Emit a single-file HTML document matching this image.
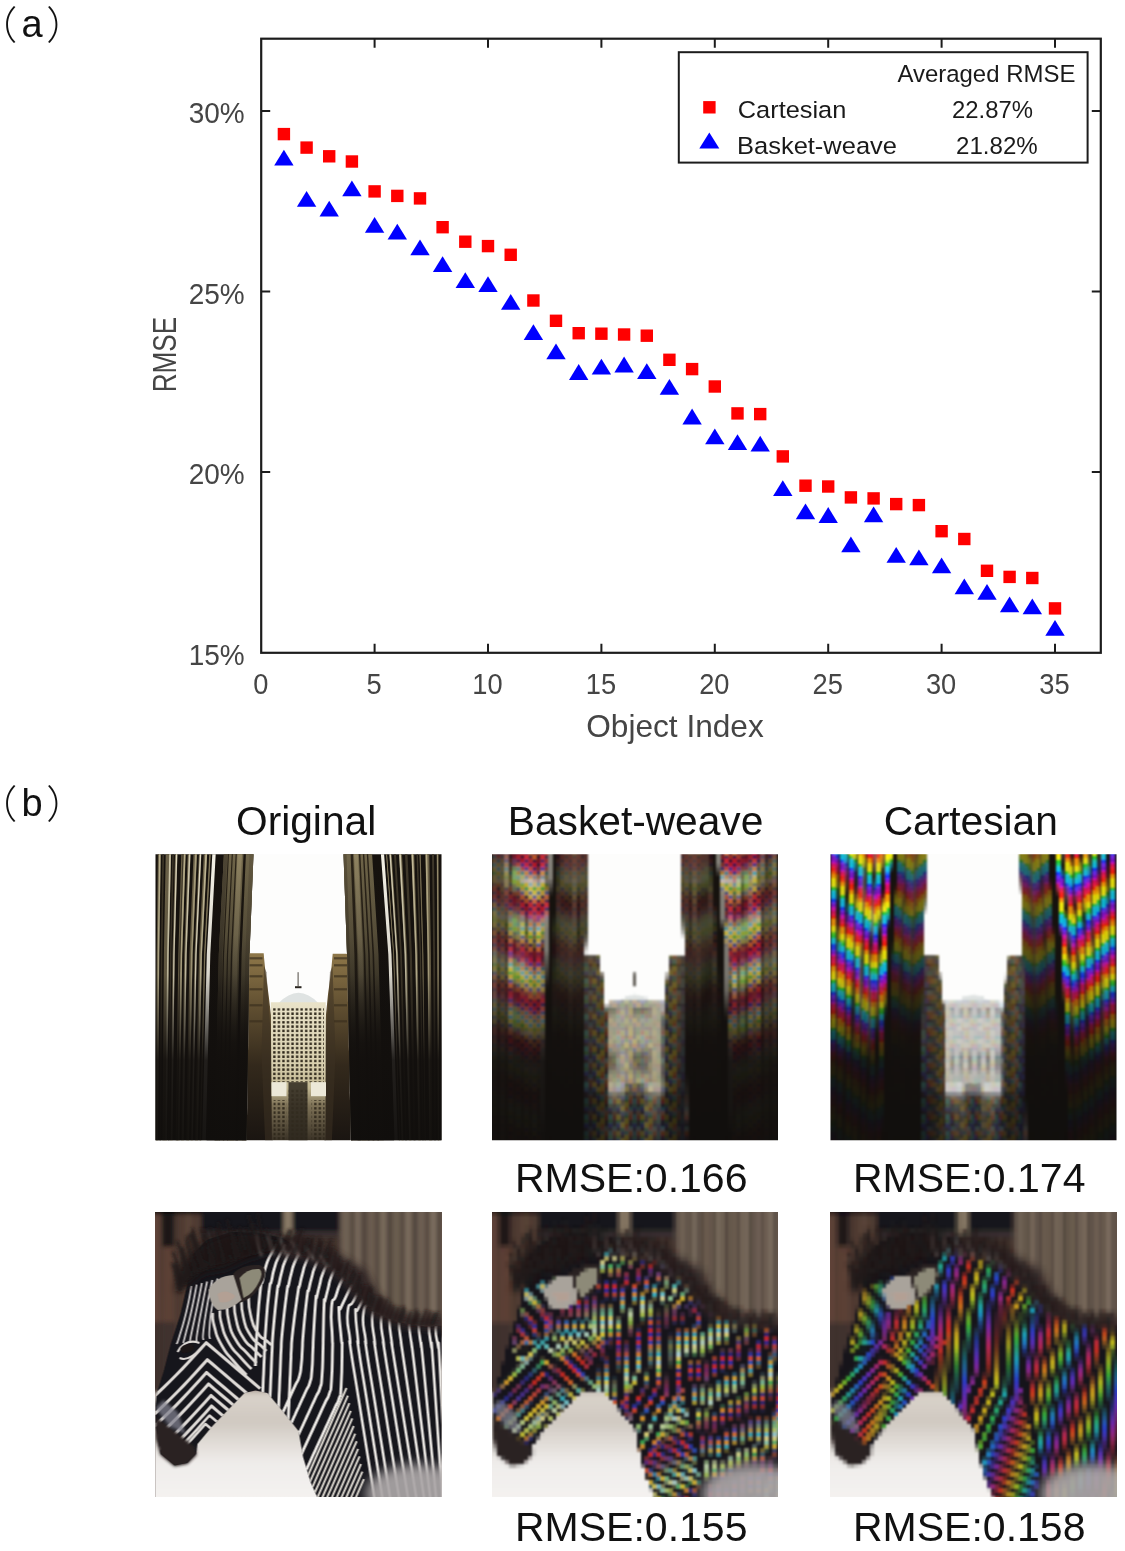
<!DOCTYPE html>
<html lang="en"><head><meta charset="utf-8"><title>Figure</title>
<style>
html,body{margin:0;padding:0;background:#fff;}
body{width:1125px;height:1551px;overflow:hidden;position:relative;font-family:"Liberation Sans", Arial, sans-serif;}
svg{position:absolute;left:0;top:0;display:block}
text{font-family:"Liberation Sans", Arial, sans-serif;}
.tk{font-size:29.3px;fill:#454545}
.ax{font-size:32px;fill:#454545}
.lg{font-size:24.5px;fill:#1a1a1a}
.hd{font-size:40.7px;fill:#111}
.pl{font-size:40px;fill:#111}
</style></head><body>
<svg width="1125" height="1551" viewBox="0 0 1125 1551">
<rect width="1125" height="1551" fill="#fff"/>
<g class="pl"><text x="-21.8" y="39.2" style="font-family:'Liberation Sans','Noto Sans CJK SC',sans-serif;font-weight:300;font-size:39px">（</text><text x="21.6" y="37.3" style="font-size:38px">a</text><text x="46.2" y="39.2" style="font-family:'Liberation Sans','Noto Sans CJK SC',sans-serif;font-weight:300;font-size:39px">）</text></g>
<g class="pl"><text x="-21.8" y="818.2" style="font-family:'Liberation Sans','Noto Sans CJK SC',sans-serif;font-weight:300;font-size:39px">（</text><text x="21.6" y="815.7" style="font-size:38px">b</text><text x="46.2" y="818.2" style="font-family:'Liberation Sans','Noto Sans CJK SC',sans-serif;font-weight:300;font-size:39px">）</text></g>
<rect x="261.2" y="38.7" width="839.6" height="614.1" fill="none" stroke="#1c1c1c" stroke-width="2.2"/>
<path d="M374.6 38.7v9 M374.6 652.8v-9 M488.0 38.7v9 M488.0 652.8v-9 M601.4 38.7v9 M601.4 652.8v-9 M714.8 38.7v9 M714.8 652.8v-9 M828.2 38.7v9 M828.2 652.8v-9 M941.6 38.7v9 M941.6 652.8v-9 M1055.0 38.7v9 M1055.0 652.8v-9 M261.2 111.0h9 M1100.8 111.0h-9 M261.2 291.5h9 M1100.8 291.5h-9 M261.2 472.0h9 M1100.8 472.0h-9" stroke="#1c1c1c" stroke-width="2" fill="none"/>
<g class="tk" text-anchor="middle"><text transform="translate(260.7,694) scale(.93,1)">0</text><text transform="translate(374.1,694) scale(.93,1)">5</text><text transform="translate(487.5,694) scale(.93,1)">10</text><text transform="translate(600.9,694) scale(.93,1)">15</text><text transform="translate(714.3,694) scale(.93,1)">20</text><text transform="translate(827.7,694) scale(.93,1)">25</text><text transform="translate(941.1,694) scale(.93,1)">30</text><text transform="translate(1054.5,694) scale(.93,1)">35</text></g>
<g class="tk" text-anchor="end"><text transform="translate(244.6,123.3) scale(.955,1)">30%</text><text transform="translate(244.6,303.8) scale(.955,1)">25%</text><text transform="translate(244.6,484.3) scale(.955,1)">20%</text><text transform="translate(244.6,665.1) scale(.955,1)">15%</text></g>
<text class="ax" x="675" y="737" text-anchor="middle" textLength="177.5" lengthAdjust="spacingAndGlyphs">Object Index</text>
<text class="ax" style="font-size:33px" transform="translate(175.8,354.6) rotate(-90)" text-anchor="middle" textLength="75.5" lengthAdjust="spacingAndGlyphs">RMSE</text>
<g fill="#ff0000"><rect x="277.7" y="127.9" width="12.4" height="12.4"/><rect x="300.4" y="141.4" width="12.4" height="12.4"/><rect x="323.0" y="150.1" width="12.4" height="12.4"/><rect x="345.7" y="155.3" width="12.4" height="12.4"/><rect x="368.4" y="185.2" width="12.4" height="12.4"/><rect x="391.1" y="189.7" width="12.4" height="12.4"/><rect x="413.8" y="192.2" width="12.4" height="12.4"/><rect x="436.4" y="221.0" width="12.4" height="12.4"/><rect x="459.1" y="235.5" width="12.4" height="12.4"/><rect x="481.8" y="239.9" width="12.4" height="12.4"/><rect x="504.5" y="248.6" width="12.4" height="12.4"/><rect x="527.2" y="294.3" width="12.4" height="12.4"/><rect x="549.8" y="314.6" width="12.4" height="12.4"/><rect x="572.5" y="327.0" width="12.4" height="12.4"/><rect x="595.2" y="327.5" width="12.4" height="12.4"/><rect x="617.9" y="328.3" width="12.4" height="12.4"/><rect x="640.6" y="329.5" width="12.4" height="12.4"/><rect x="663.2" y="353.6" width="12.4" height="12.4"/><rect x="685.9" y="362.9" width="12.4" height="12.4"/><rect x="708.6" y="380.3" width="12.4" height="12.4"/><rect x="731.3" y="407.2" width="12.4" height="12.4"/><rect x="754.0" y="407.9" width="12.4" height="12.4"/><rect x="776.6" y="450.2" width="12.4" height="12.4"/><rect x="799.3" y="479.5" width="12.4" height="12.4"/><rect x="822.0" y="480.3" width="12.4" height="12.4"/><rect x="844.7" y="491.2" width="12.4" height="12.4"/><rect x="867.4" y="492.2" width="12.4" height="12.4"/><rect x="890.0" y="497.9" width="12.4" height="12.4"/><rect x="912.7" y="498.9" width="12.4" height="12.4"/><rect x="935.4" y="525.0" width="12.4" height="12.4"/><rect x="958.1" y="532.8" width="12.4" height="12.4"/><rect x="980.8" y="564.6" width="12.4" height="12.4"/><rect x="1003.4" y="570.7" width="12.4" height="12.4"/><rect x="1026.1" y="571.8" width="12.4" height="12.4"/><rect x="1048.8" y="602.2" width="12.4" height="12.4"/></g>
<g fill="#0000ff"><path d="M283.9 149.8l9.7 15.8h-19.4z"/><path d="M306.6 190.9l9.7 15.8h-19.4z"/><path d="M329.2 200.8l9.7 15.8h-19.4z"/><path d="M351.9 180.4l9.7 15.8h-19.4z"/><path d="M374.6 217.0l9.7 15.8h-19.4z"/><path d="M397.3 223.7l9.7 15.8h-19.4z"/><path d="M420.0 239.4l9.7 15.8h-19.4z"/><path d="M442.6 256.3l9.7 15.8h-19.4z"/><path d="M465.3 272.3l9.7 15.8h-19.4z"/><path d="M488.0 276.3l9.7 15.8h-19.4z"/><path d="M510.7 294.0l9.7 15.8h-19.4z"/><path d="M533.4 324.3l9.7 15.8h-19.4z"/><path d="M556.0 343.4l9.7 15.8h-19.4z"/><path d="M578.7 364.1l9.7 15.8h-19.4z"/><path d="M601.4 358.8l9.7 15.8h-19.4z"/><path d="M624.1 356.6l9.7 15.8h-19.4z"/><path d="M646.8 363.3l9.7 15.8h-19.4z"/><path d="M669.4 379.0l9.7 15.8h-19.4z"/><path d="M692.1 408.6l9.7 15.8h-19.4z"/><path d="M714.8 428.5l9.7 15.8h-19.4z"/><path d="M737.5 434.3l9.7 15.8h-19.4z"/><path d="M760.2 435.7l9.7 15.8h-19.4z"/><path d="M782.8 480.2l9.7 15.8h-19.4z"/><path d="M805.5 503.4l9.7 15.8h-19.4z"/><path d="M828.2 507.1l9.7 15.8h-19.4z"/><path d="M850.9 536.5l9.7 15.8h-19.4z"/><path d="M873.6 506.4l9.7 15.8h-19.4z"/><path d="M896.2 546.9l9.7 15.8h-19.4z"/><path d="M918.9 549.4l9.7 15.8h-19.4z"/><path d="M941.6 557.5l9.7 15.8h-19.4z"/><path d="M964.3 578.4l9.7 15.8h-19.4z"/><path d="M987.0 584.0l9.7 15.8h-19.4z"/><path d="M1009.6 596.5l9.7 15.8h-19.4z"/><path d="M1032.3 598.4l9.7 15.8h-19.4z"/><path d="M1055.0 620.0l9.7 15.8h-19.4z"/></g>
<rect x="678.8" y="52.2" width="408.8" height="110.4" fill="#fff" stroke="#1c1c1c" stroke-width="2"/>
<rect x="703.2" y="101.1" width="12.4" height="12.4" fill="#f00"/><path d="M709.3 132.4l10 16.2h-20z" fill="#00f"/>
<g class="lg"><text x="897.4" y="82" textLength="178" lengthAdjust="spacingAndGlyphs">Averaged RMSE</text><text x="737.8" y="118.2" textLength="108.5" lengthAdjust="spacingAndGlyphs">Cartesian</text><text x="952" y="118" textLength="81" lengthAdjust="spacingAndGlyphs">22.87%</text><text x="737" y="153.5" textLength="160" lengthAdjust="spacingAndGlyphs">Basket-weave</text><text x="956" y="153.5" textLength="81.7" lengthAdjust="spacingAndGlyphs">21.82%</text></g>
<g class="hd"><text x="236" y="835">Original</text><text x="507.8" y="835">Basket-weave</text><text x="883.7" y="835">Cartesian</text><text x="515" y="1192" style="font-size:41px">RMSE:0.166</text><text x="853" y="1192" style="font-size:41px">RMSE:0.174</text><text x="515" y="1541" style="font-size:41px">RMSE:0.155</text><text x="853" y="1541" style="font-size:41px">RMSE:0.158</text></g>
<defs><linearGradient id="bfade" x1="0" y1="0" x2="0" y2="286" gradientUnits="userSpaceOnUse">
<stop offset="0" stop-color="#120f0d" stop-opacity="0"/><stop offset="0.42" stop-color="#120f0d" stop-opacity="0.12"/><stop offset="0.58" stop-color="#120f0d" stop-opacity="0.55"/><stop offset="0.72" stop-color="#120f0d" stop-opacity="0.93"/><stop offset="1" stop-color="#100e0c" stop-opacity="0.97"/></linearGradient>
<linearGradient id="bfade2" x1="0" y1="0" x2="0" y2="286" gradientUnits="userSpaceOnUse">
<stop offset="0" stop-color="#120f0d" stop-opacity="0"/><stop offset="0.28" stop-color="#120f0d" stop-opacity="0.22"/><stop offset="0.5" stop-color="#120f0d" stop-opacity="0.6"/><stop offset="0.66" stop-color="#120f0d" stop-opacity="0.88"/><stop offset="1" stop-color="#120f0d" stop-opacity="0.9"/></linearGradient>
<linearGradient id="bside" x1="0" y1="99" x2="0" y2="286" gradientUnits="userSpaceOnUse">
<stop offset="0" stop-color="#8e7749"/><stop offset="0.3" stop-color="#5e4d30"/><stop offset="0.6" stop-color="#33291c"/><stop offset="1" stop-color="#1a1511"/></linearGradient>
<linearGradient id="bmain" x1="0" y1="148" x2="0" y2="286" gradientUnits="userSpaceOnUse">
<stop offset="0" stop-color="#e9e2c8"/><stop offset="0.45" stop-color="#d8cfae"/><stop offset="0.62" stop-color="#c2b792"/><stop offset="0.75" stop-color="#7d7156"/><stop offset="1" stop-color="#3b3327"/></linearGradient>
<pattern id="bwin" x="116.6" y="153" width="4.55" height="4.3" patternUnits="userSpaceOnUse"><rect x="1.1" y="1" width="2.3" height="2.4" fill="#2b2418"/></pattern>
<clipPath id="bclip"><rect width="286" height="286"/></clipPath>
<clipPath id="bL"><polygon points="-9,-9 98,-9 98,0 94,100 91,286 91,295 -9,295"/></clipPath>
<clipPath id="bR"><polygon points="188,-9 295,-9 295,295 195.5,295 195.5,286 191.5,100 188,0"/></clipPath>
<clipPath id="bLR"><polygon points="-9,-9 98,-9 98,0 94,100 91,286 91,295 -9,295"/><polygon points="188,-9 295,-9 295,295 195.5,295 195.5,286 191.5,100 188,0"/></clipPath>
<filter id="pix" filterUnits="userSpaceOnUse" x="-9" y="-9" width="304" height="304" color-interpolation-filters="sRGB"><feGaussianBlur stdDeviation="0.7" result="b"/><feFlood x="1.6" y="1.6" width="1.3" height="1.3" flood-color="#000"/><feComposite width="4.47" height="4.47"/><feTile result="t"/><feComposite in="b" in2="t" operator="in"/><feMorphology operator="dilate" radius="2.1"/><feGaussianBlur stdDeviation="0.9"/></filter>
<filter id="bb1" x="-5%" y="-5%" width="110%" height="110%"><feGaussianBlur stdDeviation="1.3"/></filter>
<filter id="bb2" x="-5%" y="-5%" width="110%" height="110%"><feGaussianBlur stdDeviation="2.2"/></filter>
<filter id="bb11" x="-5%" y="-5%" width="110%" height="110%"><feGaussianBlur stdDeviation="1.05"/></filter>
<filter id="bb07" x="-5%" y="-5%" width="110%" height="110%"><feGaussianBlur stdDeviation="0.7"/></filter>
<mask id="bmaskC" maskUnits="userSpaceOnUse" x="-9" y="-9" width="304" height="304"><rect x="-9" y="-9" width="304" height="304" fill="#000"/><g clip-path="url(#bLR)"><polygon points="1.5,-9.0 6.4,-9.0 6.4,0.0 4.9,100.0 3.6,286.0 3.6,295.0 -0.6,295.0 -0.6,286.0 0.4,100.0 1.5,0.0" fill="#e4e4e4"/><polygon points="279.6,-9.0 284.5,-9.0 284.5,0.0 284.7,100.0 284.9,286.0 284.9,295.0 281.1,295.0 281.1,286.0 280.4,100.0 279.6,0.0" fill="#e4e4e4"/><polygon points="10.5,-9.0 15.4,-9.0 15.4,0.0 13.2,100.0 11.3,286.0 11.3,295.0 7.1,295.0 7.1,286.0 8.7,100.0 10.5,0.0" fill="#e4e4e4"/><polygon points="270.6,-9.0 275.5,-9.0 275.5,0.0 276.9,100.0 278.0,286.0 278.0,295.0 274.2,295.0 274.2,286.0 272.6,100.0 270.6,0.0" fill="#e4e4e4"/><polygon points="19.5,-9.0 24.4,-9.0 24.4,0.0 21.5,100.0 19.0,286.0 19.0,295.0 14.8,295.0 14.8,286.0 17.0,100.0 19.5,0.0" fill="#e4e4e4"/><polygon points="261.6,-9.0 266.5,-9.0 266.5,0.0 269.0,100.0 271.1,286.0 271.1,295.0 267.4,295.0 267.4,286.0 264.7,100.0 261.6,0.0" fill="#e4e4e4"/><polygon points="28.5,-9.0 33.4,-9.0 33.4,0.0 29.8,100.0 26.7,286.0 26.7,295.0 22.5,295.0 22.5,286.0 25.2,100.0 28.5,0.0" fill="#e4e4e4"/><polygon points="252.6,-9.0 257.5,-9.0 257.5,0.0 261.2,100.0 264.2,286.0 264.2,295.0 260.5,295.0 260.5,286.0 256.9,100.0 252.6,0.0" fill="#e4e4e4"/><polygon points="37.5,-9.0 42.4,-9.0 42.4,0.0 38.1,100.0 34.4,286.0 34.4,295.0 30.2,295.0 30.2,286.0 33.5,100.0 37.5,0.0" fill="#e4e4e4"/><polygon points="243.6,-9.0 248.5,-9.0 248.5,0.0 253.3,100.0 257.4,286.0 257.4,295.0 253.6,295.0 253.6,286.0 249.1,100.0 243.6,0.0" fill="#e4e4e4"/><polygon points="46.5,-9.0 51.4,-9.0 51.4,0.0 46.3,100.0 42.1,286.0 42.1,295.0 37.9,295.0 37.9,286.0 41.8,100.0 46.5,0.0" fill="#e4e4e4"/><polygon points="234.6,-9.0 239.5,-9.0 239.5,0.0 245.5,100.0 250.5,286.0 250.5,295.0 246.8,295.0 246.8,286.0 241.2,100.0 234.6,0.0" fill="#e4e4e4"/><polygon points="56.5,-9.0 60.5,-9.0 60.5,0.0 55.1,100.0 50.6,286.0 50.6,295.0 46.5,295.0 46.5,286.0 51.0,100.0 56.5,0.0" fill="#fff"/><polygon points="225.5,-9.0 229.5,-9.0 229.5,0.0 236.8,100.0 242.9,286.0 242.9,295.0 239.1,295.0 239.1,286.0 232.9,100.0 225.5,0.0" fill="#fff"/><polygon points="68.0,-9.0 98.5,-9.0 98.5,0.0 94.5,100.0 91.2,286.0 91.2,295.0 58.6,295.0 58.6,286.0 62.9,100.0 68.0,0.0" fill="#6a6a6a"/><polygon points="187.5,-9.0 217.0,-9.0 217.0,0.0 223.4,100.0 228.8,286.0 228.8,295.0 192.9,295.0 192.9,286.0 190.4,100.0 187.5,0.0" fill="#6a6a6a"/><polygon points="74.0,-9.0 77.5,-9.0 77.5,0.0 72.8,100.0 68.8,286.0 68.8,295.0 65.0,295.0 65.0,286.0 69.1,100.0 74.0,0.0" fill="#222"/><polygon points="84.0,-9.0 87.5,-9.0 87.5,0.0 83.1,100.0 79.4,286.0 79.4,295.0 75.7,295.0 75.7,286.0 79.5,100.0 84.0,0.0" fill="#222"/><polygon points="198.0,-9.0 201.5,-9.0 201.5,0.0 206.1,100.0 209.9,286.0 209.9,295.0 205.7,295.0 205.7,286.0 202.2,100.0 198.0,0.0" fill="#222"/><polygon points="208.0,-9.0 211.5,-9.0 211.5,0.0 217.3,100.0 222.1,286.0 222.1,295.0 217.8,295.0 217.8,286.0 213.4,100.0 208.0,0.0" fill="#222"/></g></mask>
<mask id="bmaskB" maskUnits="userSpaceOnUse" x="-9" y="-9" width="304" height="304"><rect x="-9" y="-9" width="304" height="304" fill="#000"/><g clip-path="url(#bLR)"><polygon points="0.0,-9.0 19.0,-9.0 19.0,0.0 16.5,100.0 14.4,286.0 14.4,295.0 -1.8,295.0 -1.8,286.0 -1.0,100.0 0.0,0.0" fill="#4a4a4a"/><polygon points="19.0,-9.0 58.0,-9.0 58.0,0.0 52.5,100.0 48.0,286.0 48.0,295.0 14.4,295.0 14.4,286.0 16.5,100.0 19.0,0.0" fill="#c4c4c4"/><polygon points="66.0,-9.0 98.5,-9.0 98.5,0.0 94.5,100.0 91.2,286.0 91.2,295.0 56.5,295.0 56.5,286.0 60.8,100.0 66.0,0.0" fill="#303030"/><polygon points="267.0,-9.0 286.0,-9.0 286.0,0.0 286.0,100.0 286.0,286.0 286.0,295.0 271.5,295.0 271.5,286.0 269.4,100.0 267.0,0.0" fill="#4a4a4a"/><polygon points="228.0,-9.0 267.0,-9.0 267.0,0.0 269.4,100.0 271.5,286.0 271.5,295.0 241.7,295.0 241.7,286.0 235.5,100.0 228.0,0.0" fill="#c4c4c4"/><polygon points="187.5,-9.0 219.0,-9.0 219.0,0.0 225.7,100.0 231.2,286.0 231.2,295.0 192.9,295.0 192.9,286.0 190.4,100.0 187.5,0.0" fill="#303030"/><polygon points="0.5,-9.0 2.7,-9.0 2.7,0.0 1.5,100.0 0.5,286.0 0.5,295.0 -1.4,295.0 -1.4,286.0 -0.5,100.0 0.5,0.0" fill="#000" opacity="0.45"/><polygon points="283.3,-9.0 285.5,-9.0 285.5,0.0 285.6,100.0 285.6,286.0 285.6,295.0 283.9,295.0 283.9,286.0 283.6,100.0 283.3,0.0" fill="#000" opacity="0.45"/><polygon points="9.5,-9.0 11.7,-9.0 11.7,0.0 9.8,100.0 8.2,286.0 8.2,295.0 6.3,295.0 6.3,286.0 7.8,100.0 9.5,0.0" fill="#000" opacity="0.45"/><polygon points="274.3,-9.0 276.5,-9.0 276.5,0.0 277.7,100.0 278.7,286.0 278.7,295.0 277.1,295.0 277.1,286.0 275.8,100.0 274.3,0.0" fill="#000" opacity="0.45"/><polygon points="18.5,-9.0 20.7,-9.0 20.7,0.0 18.1,100.0 15.9,286.0 15.9,295.0 14.0,295.0 14.0,286.0 16.0,100.0 18.5,0.0" fill="#000" opacity="0.45"/><polygon points="265.3,-9.0 267.5,-9.0 267.5,0.0 269.9,100.0 271.9,286.0 271.9,295.0 270.2,295.0 270.2,286.0 268.0,100.0 265.3,0.0" fill="#000" opacity="0.45"/><polygon points="27.5,-9.0 29.7,-9.0 29.7,0.0 26.4,100.0 23.6,286.0 23.6,295.0 21.7,295.0 21.7,286.0 24.3,100.0 27.5,0.0" fill="#000" opacity="0.45"/><polygon points="256.3,-9.0 258.5,-9.0 258.5,0.0 262.0,100.0 265.0,286.0 265.0,295.0 263.3,295.0 263.3,286.0 260.1,100.0 256.3,0.0" fill="#000" opacity="0.45"/><polygon points="36.5,-9.0 38.7,-9.0 38.7,0.0 34.6,100.0 31.3,286.0 31.3,295.0 29.4,295.0 29.4,286.0 32.6,100.0 36.5,0.0" fill="#000" opacity="0.45"/><polygon points="247.3,-9.0 249.5,-9.0 249.5,0.0 254.2,100.0 258.1,286.0 258.1,295.0 256.5,295.0 256.5,286.0 252.3,100.0 247.3,0.0" fill="#000" opacity="0.45"/><polygon points="45.5,-9.0 47.7,-9.0 47.7,0.0 42.9,100.0 38.9,286.0 38.9,295.0 37.1,295.0 37.1,286.0 40.9,100.0 45.5,0.0" fill="#000" opacity="0.45"/><polygon points="238.3,-9.0 240.5,-9.0 240.5,0.0 246.4,100.0 251.3,286.0 251.3,295.0 249.6,295.0 249.6,286.0 244.4,100.0 238.3,0.0" fill="#000" opacity="0.45"/><polygon points="54.5,-9.0 56.7,-9.0 56.7,0.0 51.2,100.0 46.6,286.0 46.6,295.0 44.8,295.0 44.8,286.0 49.2,100.0 54.5,0.0" fill="#000" opacity="0.45"/><polygon points="229.3,-9.0 231.5,-9.0 231.5,0.0 238.5,100.0 244.4,286.0 244.4,295.0 242.7,295.0 242.7,286.0 236.6,100.0 229.3,0.0" fill="#000" opacity="0.45"/></g></mask>
<pattern id="dia" width="8.94" height="8.94" patternUnits="userSpaceOnUse"><rect width="4.47" height="4.47" fill="#fff"/><rect x="4.47" y="4.47" width="4.47" height="4.47" fill="#fff"/></pattern>
<mask id="bdia" maskUnits="userSpaceOnUse" x="-9" y="-9" width="304" height="304"><rect x="-9" y="-9" width="304" height="304" fill="url(#dia)"/></mask>
<pattern id="ckS" width="22.20" height="22.20" patternUnits="userSpaceOnUse"><rect x="0.00" y="0.00" width="3.75" height="3.75" fill="#1828c8"/><rect x="0.00" y="3.70" width="3.75" height="3.75" fill="#181430"/><rect x="0.00" y="7.40" width="3.75" height="3.75" fill="#2a9a30"/><rect x="0.00" y="11.10" width="3.75" height="3.75" fill="#f0d818"/><rect x="0.00" y="14.80" width="3.75" height="3.75" fill="#181430"/><rect x="0.00" y="18.50" width="3.75" height="3.75" fill="#10104a"/><rect x="3.70" y="0.00" width="3.75" height="3.75" fill="#f0d818"/><rect x="3.70" y="3.70" width="3.75" height="3.75" fill="#e86a10"/><rect x="3.70" y="7.40" width="3.75" height="3.75" fill="#1828c8"/><rect x="3.70" y="11.10" width="3.75" height="3.75" fill="#181430"/><rect x="3.70" y="14.80" width="3.75" height="3.75" fill="#2a9a30"/><rect x="3.70" y="18.50" width="3.75" height="3.75" fill="#f0d818"/><rect x="7.40" y="0.00" width="3.75" height="3.75" fill="#181430"/><rect x="7.40" y="3.70" width="3.75" height="3.75" fill="#10104a"/><rect x="7.40" y="7.40" width="3.75" height="3.75" fill="#f0d818"/><rect x="7.40" y="11.10" width="3.75" height="3.75" fill="#e86a10"/><rect x="7.40" y="14.80" width="3.75" height="3.75" fill="#1828c8"/><rect x="7.40" y="18.50" width="3.75" height="3.75" fill="#181430"/><rect x="11.10" y="0.00" width="3.75" height="3.75" fill="#2a9a30"/><rect x="11.10" y="3.70" width="3.75" height="3.75" fill="#f0d818"/><rect x="11.10" y="7.40" width="3.75" height="3.75" fill="#181430"/><rect x="11.10" y="11.10" width="3.75" height="3.75" fill="#10104a"/><rect x="11.10" y="14.80" width="3.75" height="3.75" fill="#f0d818"/><rect x="11.10" y="18.50" width="3.75" height="3.75" fill="#2a9a30"/><rect x="14.80" y="0.00" width="3.75" height="3.75" fill="#d81a10"/><rect x="14.80" y="3.70" width="3.75" height="3.75" fill="#20b8c8"/><rect x="14.80" y="7.40" width="3.75" height="3.75" fill="#2a9a30"/><rect x="14.80" y="11.10" width="3.75" height="3.75" fill="#1828c8"/><rect x="14.80" y="14.80" width="3.75" height="3.75" fill="#181430"/><rect x="14.80" y="18.50" width="3.75" height="3.75" fill="#10104a"/><rect x="18.50" y="0.00" width="3.75" height="3.75" fill="#f0d818"/><rect x="18.50" y="3.70" width="3.75" height="3.75" fill="#e86a10"/><rect x="18.50" y="7.40" width="3.75" height="3.75" fill="#1828c8"/><rect x="18.50" y="11.10" width="3.75" height="3.75" fill="#181430"/><rect x="18.50" y="14.80" width="3.75" height="3.75" fill="#2a9a30"/><rect x="18.50" y="18.50" width="3.75" height="3.75" fill="#1828c8"/></pattern><pattern id="ckP" width="21.00" height="21.00" patternUnits="userSpaceOnUse"><rect x="0.00" y="0.00" width="4.25" height="4.25" fill="#a8e0ee"/><rect x="0.00" y="4.20" width="4.25" height="4.25" fill="#ffffff"/><rect x="0.00" y="8.40" width="4.25" height="4.25" fill="#e8e8f4"/><rect x="0.00" y="12.60" width="4.25" height="4.25" fill="#a8e0ee"/><rect x="0.00" y="16.80" width="4.25" height="4.25" fill="#ffffff"/><rect x="4.20" y="0.00" width="4.25" height="4.25" fill="#f6f0b0"/><rect x="4.20" y="4.20" width="4.25" height="4.25" fill="#f6c8a0"/><rect x="4.20" y="8.40" width="4.25" height="4.25" fill="#a8e0ee"/><rect x="4.20" y="12.60" width="4.25" height="4.25" fill="#c8b8f0"/><rect x="4.20" y="16.80" width="4.25" height="4.25" fill="#e8e8f4"/><rect x="8.40" y="0.00" width="4.25" height="4.25" fill="#ffffff"/><rect x="8.40" y="4.20" width="4.25" height="4.25" fill="#f2b8c8"/><rect x="8.40" y="8.40" width="4.25" height="4.25" fill="#f6f0b0"/><rect x="8.40" y="12.60" width="4.25" height="4.25" fill="#f6c8a0"/><rect x="8.40" y="16.80" width="4.25" height="4.25" fill="#a8e0ee"/><rect x="12.60" y="0.00" width="4.25" height="4.25" fill="#f6c8a0"/><rect x="12.60" y="4.20" width="4.25" height="4.25" fill="#a8e0ee"/><rect x="12.60" y="8.40" width="4.25" height="4.25" fill="#ffffff"/><rect x="12.60" y="12.60" width="4.25" height="4.25" fill="#e8e8f4"/><rect x="12.60" y="16.80" width="4.25" height="4.25" fill="#f6f0b0"/><rect x="16.80" y="0.00" width="4.25" height="4.25" fill="#f2b8c8"/><rect x="16.80" y="4.20" width="4.25" height="4.25" fill="#c8b8f0"/><rect x="16.80" y="8.40" width="4.25" height="4.25" fill="#e8e8f4"/><rect x="16.80" y="12.60" width="4.25" height="4.25" fill="#a8e0ee"/><rect x="16.80" y="16.80" width="4.25" height="4.25" fill="#b8eec0"/></pattern><pattern id="ckS2" width="23.80" height="17.00" patternUnits="userSpaceOnUse"><rect x="0.00" y="0.00" width="3.45" height="3.45" fill="#1828c8"/><rect x="0.00" y="3.40" width="3.45" height="3.45" fill="#181430"/><rect x="0.00" y="6.80" width="3.45" height="3.45" fill="#10104a"/><rect x="0.00" y="10.20" width="3.45" height="3.45" fill="#1828c8"/><rect x="0.00" y="13.60" width="3.45" height="3.45" fill="#181430"/><rect x="3.40" y="0.00" width="3.45" height="3.45" fill="#20b8c8"/><rect x="3.40" y="3.40" width="3.45" height="3.45" fill="#e86a10"/><rect x="3.40" y="6.80" width="3.45" height="3.45" fill="#d81a10"/><rect x="3.40" y="10.20" width="3.45" height="3.45" fill="#181430"/><rect x="3.40" y="13.60" width="3.45" height="3.45" fill="#10104a"/><rect x="6.80" y="0.00" width="3.45" height="3.45" fill="#181430"/><rect x="6.80" y="3.40" width="3.45" height="3.45" fill="#10104a"/><rect x="6.80" y="6.80" width="3.45" height="3.45" fill="#f0d818"/><rect x="6.80" y="10.20" width="3.45" height="3.45" fill="#2a9a30"/><rect x="6.80" y="13.60" width="3.45" height="3.45" fill="#1828c8"/><rect x="10.20" y="0.00" width="3.45" height="3.45" fill="#2a9a30"/><rect x="10.20" y="3.40" width="3.45" height="3.45" fill="#1828c8"/><rect x="10.20" y="6.80" width="3.45" height="3.45" fill="#181430"/><rect x="10.20" y="10.20" width="3.45" height="3.45" fill="#10104a"/><rect x="10.20" y="13.60" width="3.45" height="3.45" fill="#f0d818"/><rect x="13.60" y="0.00" width="3.45" height="3.45" fill="#d81a10"/><rect x="13.60" y="3.40" width="3.45" height="3.45" fill="#20b8c8"/><rect x="13.60" y="6.80" width="3.45" height="3.45" fill="#2a9a30"/><rect x="13.60" y="10.20" width="3.45" height="3.45" fill="#f0d818"/><rect x="13.60" y="13.60" width="3.45" height="3.45" fill="#e86a10"/><rect x="17.00" y="0.00" width="3.45" height="3.45" fill="#20b8c8"/><rect x="17.00" y="3.40" width="3.45" height="3.45" fill="#e86a10"/><rect x="17.00" y="6.80" width="3.45" height="3.45" fill="#d81a10"/><rect x="17.00" y="10.20" width="3.45" height="3.45" fill="#181430"/><rect x="17.00" y="13.60" width="3.45" height="3.45" fill="#10104a"/><rect x="20.40" y="0.00" width="3.45" height="3.45" fill="#181430"/><rect x="20.40" y="3.40" width="3.45" height="3.45" fill="#10104a"/><rect x="20.40" y="6.80" width="3.45" height="3.45" fill="#20b8c8"/><rect x="20.40" y="10.20" width="3.45" height="3.45" fill="#2a9a30"/><rect x="20.40" y="13.60" width="3.45" height="3.45" fill="#1828c8"/></pattern><clipPath id="zclip"><rect width="286" height="285"/></clipPath>
<clipPath id="zbody"><path d="M32.0 71.0L25.0 102.0L15.0 133.0L8.0 160.0L1.3 181.0L0.0 194.0L0.0 214.0L5.0 242.0L19.0 253.5L32.0 251.0L40.7 242.0L42.0 232.0L57.0 214.0L89.0 181.0L100.0 178.6L112.0 181.0L127.0 199.0L143.0 219.0L147.6 245.0L155.0 270.0L167.0 297.0L297.0 297.0L297.0 113.0L269.6 114.4L244.2 110.5L218.7 100.4L208.6 89.0L195.9 71.0L180.6 57.0L161.6 44.5L142.5 36.0L127.0 26.0L102.0 21.0L76.0 20.0L51.0 28.0L38.0 42.0Z"/></clipPath>
<filter id="zb1" x="-20%" y="-20%" width="140%" height="140%"><feGaussianBlur stdDeviation="1.6"/></filter>
<filter id="zb2" x="-10%" y="-10%" width="120%" height="120%"><feGaussianBlur stdDeviation="2.2"/></filter>
<filter id="zb3" x="-30%" y="-30%" width="160%" height="160%"><feGaussianBlur stdDeviation="3.5"/></filter>
<filter id="zb6" x="-30%" y="-30%" width="160%" height="160%"><feGaussianBlur stdDeviation="6"/></filter>
<filter id="zb05" x="-5%" y="-5%" width="110%" height="110%"><feGaussianBlur stdDeviation="0.45"/></filter>
<linearGradient id="zgnd" x1="0" y1="170" x2="0" y2="285" gradientUnits="userSpaceOnUse"><stop offset="0" stop-color="#b9aca0"/><stop offset="0.12" stop-color="#d9d2ca"/><stop offset="0.35" stop-color="#cfc8c0"/><stop offset="0.48" stop-color="#dcd7d1"/><stop offset="0.7" stop-color="#efecea"/><stop offset="1" stop-color="#f4f2f0"/></linearGradient>
<linearGradient id="zwall" x1="0" y1="0" x2="0" y2="180" gradientUnits="userSpaceOnUse"><stop offset="0" stop-color="#3e302b"/><stop offset="0.6" stop-color="#4c3b33"/><stop offset="1" stop-color="#43342e"/></linearGradient>
<linearGradient id="zshade" x1="60" y1="0" x2="200" y2="0" gradientUnits="userSpaceOnUse"><stop offset="0" stop-color="#000" stop-opacity="0"/><stop offset="1" stop-color="#000" stop-opacity="0"/></linearGradient>
<linearGradient id="zrbA" gradientUnits="userSpaceOnUse" x1="0" y1="0" x2="47" y2="15" spreadMethod="repeat"><stop offset="0.000" stop-color="#ff1a00"/><stop offset="0.125" stop-color="#ff9a00"/><stop offset="0.250" stop-color="#f6f000"/><stop offset="0.375" stop-color="#22d020"/><stop offset="0.500" stop-color="#00c8e8"/><stop offset="0.625" stop-color="#1030ff"/><stop offset="0.750" stop-color="#7a10d0"/><stop offset="0.875" stop-color="#e0105a"/><stop offset="1.000" stop-color="#ff1a00"/></linearGradient><linearGradient id="zrbC" gradientUnits="userSpaceOnUse" x1="0" y1="0" x2="24" y2="52" spreadMethod="repeat"><stop offset="0.000" stop-color="#e01a10"/><stop offset="0.125" stop-color="#e01a10"/><stop offset="0.250" stop-color="#e8501a"/><stop offset="0.375" stop-color="#f0a018"/><stop offset="0.500" stop-color="#f4e020"/><stop offset="0.625" stop-color="#f4f0a0"/><stop offset="0.750" stop-color="#f4e020"/><stop offset="0.875" stop-color="#e86a18"/><stop offset="1.000" stop-color="#e01a10"/></linearGradient><linearGradient id="zrbD" gradientUnits="userSpaceOnUse" x1="0" y1="0" x2="24" y2="52" spreadMethod="repeat"><stop offset="0.000" stop-color="#141470"/><stop offset="0.125" stop-color="#1a22b0"/><stop offset="0.250" stop-color="#1838c8"/><stop offset="0.375" stop-color="#20a0b0"/><stop offset="0.500" stop-color="#28c8d8"/><stop offset="0.625" stop-color="#c0f0f0"/><stop offset="0.750" stop-color="#30b848"/><stop offset="0.875" stop-color="#181880"/><stop offset="1.000" stop-color="#141470"/></linearGradient><filter id="zb12" x="-5%" y="-5%" width="110%" height="110%"><feGaussianBlur stdDeviation="1.4"/></filter><mask id="zmask" maskUnits="userSpaceOnUse" x="-9" y="-9" width="304" height="306"><rect x="-9" y="-9" width="304" height="306" fill="#000"/><g clip-path="url(#zbody)"><g fill="none" stroke-linecap="butt" stroke-linejoin="round"><path d="M121.3 32.0C119.0 36.0 118.3 36.0 114.5 44.0C110.7 52.0 112.3 48.0 109.9 56.0C107.5 64.0 109.0 60.0 107.3 68.0C105.5 76.0 106.5 63.7 104.6 80.0C102.7 96.4 102.9 97.7 101.6 117.0C100.3 136.3 101.1 128.3 100.6 138.0C100.1 147.7 100.5 140.7 100.2 146.0C100.0 151.3 100.0 151.3 99.9 154.0" stroke="#e9e6e2" stroke-width="2.9"/><path d="M130.2 32.5C127.9 36.5 127.2 36.5 123.4 44.5C119.6 52.5 121.2 48.5 118.8 56.5C116.4 64.5 117.9 60.5 116.1 68.5C114.3 76.5 115.4 64.3 113.4 80.5C111.4 96.8 111.6 98.1 110.2 117.3C108.7 136.4 109.6 128.4 109.1 138.0C108.6 147.6 109.0 140.7 108.8 146.0C108.5 151.3 108.6 148.7 108.4 154.0C108.2 159.3 108.3 156.7 108.1 162.0C107.8 167.3 107.9 164.7 107.7 170.0C107.5 175.3 107.6 172.7 107.4 178.0C107.1 183.3 107.1 183.3 107.0 186.0" stroke="#e9e6e2" stroke-width="2.9"/><path d="M136.1 36.9C134.0 40.9 133.1 40.9 129.7 48.9C126.4 56.9 128.2 52.9 126.0 60.9C123.9 68.9 124.8 66.3 123.3 72.9C121.8 79.6 123.3 66.1 121.5 80.9C119.7 95.8 119.5 98.4 117.8 117.5C116.2 136.5 117.1 128.5 116.6 138.0C116.1 147.5 116.5 140.7 116.2 146.0C116.0 151.3 116.1 148.7 115.9 154.0C115.7 159.3 115.8 156.7 115.6 162.0C115.3 167.3 115.4 164.7 115.2 170.0C115.0 175.3 115.1 172.7 114.9 178.0C114.6 183.3 114.6 183.3 114.5 186.0" stroke="#e9e6e2" stroke-width="2.9"/><path d="M146.0 37.4C143.8 41.4 142.9 41.4 139.6 49.4C136.2 57.4 138.0 53.4 135.8 61.4C133.6 69.4 134.6 66.8 133.0 73.4C131.5 80.1 133.2 66.7 131.2 81.4C129.2 96.2 128.9 98.9 127.0 117.7C125.1 136.6 126.2 128.6 125.6 138.0C125.0 147.4 125.5 140.7 125.2 146.0C125.0 151.3 125.1 148.7 124.9 154.0C124.7 159.3 124.8 156.7 124.6 162.0C124.3 167.3 124.4 164.7 124.2 170.0C124.0 175.3 124.1 172.7 123.9 178.0C123.6 183.3 123.7 180.7 123.5 186.0C123.3 191.3 123.4 188.7 123.2 194.0C122.9 199.3 122.9 199.3 122.8 202.0" stroke="#e9e6e2" stroke-width="2.9"/><path d="M157.1 38.0C155.0 42.0 154.1 42.0 150.7 50.0C147.3 58.0 149.1 54.0 146.9 62.0C144.7 70.0 145.6 67.3 144.1 74.0C142.5 80.7 144.4 67.3 142.2 82.0C140.0 96.7 139.5 99.3 137.4 118.0C135.3 136.7 136.4 128.7 135.8 138.0C135.2 147.3 135.7 140.7 135.5 146.0C135.2 151.3 135.3 148.7 135.1 154.0C134.9 159.3 135.0 156.7 134.8 162.0C134.5 167.3 134.6 164.7 134.4 170.0C134.2 175.3 134.3 172.7 134.1 178.0C133.8 183.3 133.9 180.7 133.7 186.0C133.5 191.3 133.6 188.7 133.4 194.0C133.1 199.3 133.2 196.7 133.0 202.0C132.8 207.3 132.8 207.3 132.7 210.0" stroke="#e9e6e2" stroke-width="2.9"/><path d="M166.5 41.6C164.4 45.6 163.5 45.6 160.0 53.6C156.6 61.6 158.4 57.6 156.2 65.6C153.9 73.6 154.9 70.9 153.3 77.6C151.7 84.3 153.2 71.5 151.4 85.6C149.6 99.7 149.5 102.3 147.9 119.8C146.4 137.3 147.5 127.1 146.8 138.0C146.1 148.9 146.8 143.8 145.8 152.6C144.8 161.5 145.7 158.0 143.8 164.6C141.9 171.3 142.6 167.3 140.1 172.6C137.7 178.0 138.9 175.3 136.4 180.6C134.0 186.0 135.2 183.3 132.8 188.6C130.3 194.0 131.5 191.3 129.1 196.6C126.6 202.0 126.6 202.0 125.4 204.6" stroke="#e9e6e2" stroke-width="2.9"/><path d="M173.2 49.2C171.3 53.2 170.4 53.2 167.4 61.2C164.3 69.2 166.2 65.2 164.1 73.2C162.0 81.2 162.5 79.8 161.2 85.2C159.9 90.5 161.2 77.0 160.2 89.2C159.2 101.3 159.0 105.3 158.1 121.6C157.2 137.9 158.0 125.7 157.4 138.0C156.8 150.3 157.4 147.6 156.4 158.5C155.4 169.3 156.3 163.8 154.4 170.5C152.5 177.1 153.2 173.1 150.7 178.5C148.3 183.8 149.5 181.1 147.0 186.5C144.6 191.8 145.8 189.1 143.4 194.5C140.9 199.8 142.1 197.1 139.7 202.5C137.2 207.8 138.5 205.1 136.0 210.5C133.5 215.8 133.5 215.8 132.3 218.5" stroke="#e9e6e2" stroke-width="2.9"/><path d="M181.8 52.5C179.8 56.5 179.0 56.5 175.9 64.5C172.8 72.5 174.7 68.5 172.6 76.5C170.5 84.5 170.9 83.2 169.6 88.5C168.3 93.9 169.2 81.0 168.6 92.5C168.0 104.1 168.1 108.1 167.8 123.3C167.4 138.4 167.9 124.4 167.5 138.0C167.1 151.6 167.5 151.3 166.5 164.0C165.5 176.7 166.4 169.4 164.5 176.0C162.6 182.7 163.3 178.7 160.8 184.0C158.4 189.4 159.6 186.7 157.1 192.0C154.7 197.4 155.9 194.7 153.5 200.0C151.0 205.4 152.2 202.7 149.8 208.0C147.3 213.4 148.6 210.7 146.1 216.0C143.6 221.4 143.6 221.4 142.4 224.0" stroke="#e9e6e2" stroke-width="2.9"/><path d="M190.6 60.2C188.6 64.2 188.0 64.2 184.5 72.2C181.1 80.2 183.1 76.2 180.3 84.2C177.4 92.2 177.2 82.5 176.0 96.2C174.8 109.8 176.4 111.1 176.8 125.1C177.1 139.0 177.3 123.3 177.0 138.0C176.7 152.7 177.0 154.8 176.0 169.2C175.0 183.7 175.9 174.6 174.0 181.2C172.1 187.9 172.8 183.9 170.3 189.2C167.9 194.6 169.1 191.9 166.6 197.2C164.2 202.6 165.4 199.9 163.0 205.2C160.5 210.6 161.7 207.9 159.3 213.2C156.8 218.6 158.1 215.9 155.6 221.2C153.1 226.6 154.4 223.9 151.9 229.2C149.5 234.6 150.7 231.9 148.2 237.2C145.8 242.6 145.8 242.6 144.6 245.2" stroke="#e9e6e2" stroke-width="2.9"/><path d="M196.8 71.8C194.9 75.8 194.8 75.8 190.9 83.8C187.1 91.8 187.8 90.5 185.3 95.8C182.9 101.2 183.3 89.5 183.5 99.8C183.6 110.2 184.8 114.2 185.8 126.9C186.9 139.6 186.7 122.1 186.6 138.0C186.5 153.9 186.6 158.4 185.6 174.5C184.6 190.7 185.5 179.9 183.6 186.5C181.7 193.2 182.4 189.2 179.9 194.5C177.5 199.9 178.7 197.2 176.2 202.5C173.8 207.9 175.0 205.2 172.6 210.5C170.1 215.9 171.3 213.2 168.9 218.5C166.4 223.9 167.7 221.2 165.2 226.5C162.7 231.9 164.0 229.2 161.5 234.5C159.1 239.9 160.3 237.2 157.8 242.5C155.4 247.9 156.6 245.2 154.2 250.5C151.7 255.9 151.7 255.9 150.5 258.5" stroke="#e9e6e2" stroke-width="2.9"/><path d="M204.2 76.8C202.1 80.8 202.1 80.8 198.1 88.8C194.1 96.8 193.3 88.0 192.1 100.8C190.9 113.7 193.4 115.0 194.5 127.4C195.6 139.8 192.4 117.8 195.3 138.0C198.2 158.2 198.0 154.7 203.3 188.0C208.6 221.3 205.4 201.3 211.3 238.0C217.2 274.7 217.7 278.0 220.9 298.0" stroke="#e9e6e2" stroke-width="2.7"/><path d="M208.6 85.6C206.5 89.6 205.1 92.3 202.2 97.6C199.4 103.0 200.0 91.6 200.1 101.6C200.2 111.7 201.4 115.7 202.5 127.8C203.6 139.9 200.4 117.9 203.3 138.0C206.2 158.1 206.0 154.7 211.3 188.0C216.6 221.3 213.4 201.3 219.3 238.0C225.2 274.7 225.7 278.0 228.9 298.0" stroke="#e9e6e2" stroke-width="2.7"/><path d="M214.5 90.6C212.3 94.6 209.2 90.0 207.8 102.6C206.4 115.2 209.1 116.5 210.2 128.3C211.3 140.1 208.1 118.1 211.0 138.0C213.9 157.9 213.7 154.7 219.0 188.0C224.3 221.3 221.1 201.3 227.0 238.0C232.9 274.7 233.4 278.0 236.6 298.0" stroke="#e9e6e2" stroke-width="2.7"/><path d="M221.3 97.2C219.8 99.8 217.5 94.3 216.8 105.2C216.1 116.0 218.1 118.6 219.2 129.6C220.3 140.5 217.1 118.5 220.0 138.0C222.9 157.5 222.7 154.7 228.0 188.0C233.3 221.3 230.1 201.3 236.0 238.0C241.9 274.7 242.4 278.0 245.6 298.0" stroke="#e9e6e2" stroke-width="2.7"/><path d="M230.3 99.7C228.7 102.4 226.4 97.3 225.7 107.7C225.0 118.1 227.0 120.7 228.1 130.8C229.2 140.9 226.0 118.9 228.9 138.0C231.8 157.1 231.6 154.7 236.9 188.0C242.2 221.3 239.0 201.3 244.9 238.0C250.8 274.7 251.3 278.0 254.5 298.0" stroke="#e9e6e2" stroke-width="2.7"/><path d="M236.3 105.0C235.5 106.3 234.0 100.1 234.0 109.0C234.0 117.8 235.3 121.8 236.4 131.5C237.5 141.2 234.3 119.2 237.2 138.0C240.1 156.8 239.9 154.7 245.2 188.0C250.5 221.3 247.3 201.3 253.2 238.0C259.1 274.7 259.6 278.0 262.8 298.0" stroke="#e9e6e2" stroke-width="2.7"/><path d="M245.8 106.2C245.0 107.6 243.5 101.6 243.5 110.2C243.5 118.9 244.8 122.9 245.9 132.1C247.0 141.4 244.0 119.4 246.7 138.0C249.4 156.6 249.2 154.7 254.1 188.0C259.0 221.3 256.1 201.3 261.5 238.0C266.9 274.7 267.4 278.0 270.3 298.0" stroke="#e9e6e2" stroke-width="2.7"/><path d="M256.0 107.6C255.3 108.9 253.7 103.2 253.7 111.6C253.7 120.0 255.0 124.0 256.1 132.8C257.2 141.6 254.6 119.6 256.9 138.0C259.2 156.4 258.9 154.7 262.9 188.0C267.0 221.3 264.6 201.3 269.0 238.0C273.4 274.7 273.8 278.0 276.3 298.0" stroke="#e9e6e2" stroke-width="2.7"/><path d="M265.6 108.9C264.8 110.2 263.2 104.7 263.2 112.9C263.2 121.0 264.5 125.0 265.6 133.4C266.7 141.8 264.5 119.8 266.4 138.0C268.3 156.2 268.0 154.7 271.2 188.0C274.4 221.3 272.5 201.3 276.0 238.0C279.5 274.7 279.9 278.0 281.8 298.0" stroke="#e9e6e2" stroke-width="2.7"/><path d="M275.8 110.2C275.0 111.5 273.4 106.2 273.4 114.2C273.4 122.2 274.7 126.2 275.8 134.1C276.9 142.0 275.2 120.0 276.6 138.0C278.0 156.0 277.8 154.7 280.1 188.0C282.4 221.3 281.0 201.3 283.5 238.0C286.1 274.7 286.3 278.0 287.7 298.0" stroke="#e9e6e2" stroke-width="2.7"/><path d="M285.1 107.1C283.5 109.8 281.1 106.0 280.3 115.1C279.5 124.3 281.6 126.9 282.7 134.6C283.8 142.2 282.4 120.2 283.5 138.0C284.6 155.8 284.4 154.7 286.1 188.0C287.8 221.3 286.7 201.3 288.6 238.0C290.5 274.7 290.7 278.0 291.7 298.0" stroke="#e9e6e2" stroke-width="2.7"/><path d="M191.0 176.0L187.5 184.0L184.0 192.0L180.4 200.0L176.9 208.0L173.4 216.0L169.9 224.0L166.4 232.0L162.8 240.0L159.3 248.0L155.8 256.0L152.3 264.0L148.8 272.0" stroke="#d8d4cc" stroke-width="2.1"/><path d="M192.4 183.6L188.9 191.6L185.4 199.6L181.9 207.6L178.4 215.6L174.8 223.6L171.3 231.6L167.8 239.6L164.3 247.6L160.8 255.6L157.2 263.6L153.7 271.6" stroke="#d8d4cc" stroke-width="2.1"/><path d="M193.9 191.2L190.4 199.2L186.9 207.2L183.3 215.2L179.8 223.2L176.3 231.2L172.8 239.2L169.3 247.2L165.7 255.2L162.2 263.2L158.7 271.2L155.2 279.2" stroke="#d8d4cc" stroke-width="2.1"/><path d="M195.3 198.8L191.8 206.8L188.3 214.8L184.8 222.8L181.3 230.8L177.7 238.8L174.2 246.8L170.7 254.8L167.2 262.8L163.7 270.8L160.1 278.8L156.6 286.8" stroke="#d8d4cc" stroke-width="2.1"/><path d="M196.8 206.4L193.3 214.4L189.8 222.4L186.2 230.4L182.7 238.4L179.2 246.4L175.7 254.4L172.2 262.4L168.6 270.4L165.1 278.4L161.6 286.4" stroke="#d8d4cc" stroke-width="2.1"/><path d="M198.2 214.0L194.7 222.0L191.2 230.0L187.7 238.0L184.2 246.0L180.6 254.0L177.1 262.0L173.6 270.0L170.1 278.0L166.6 286.0L163.0 294.0L159.5 302.0" stroke="#d8d4cc" stroke-width="2.1"/><path d="M199.7 221.6L196.2 229.6L192.7 237.6L189.1 245.6L185.6 253.6L182.1 261.6L178.6 269.6L175.1 277.6L171.5 285.6L168.0 293.6L164.5 301.6" stroke="#d8d4cc" stroke-width="2.1"/><path d="M201.2 229.2L197.6 237.2L194.1 245.2L190.6 253.2L187.1 261.2L183.5 269.2L180.0 277.2L176.5 285.2L173.0 293.2L169.5 301.2" stroke="#d8d4cc" stroke-width="2.1"/><path d="M202.6 236.8L199.1 244.8L195.6 252.8L192.0 260.8L188.5 268.8L185.0 276.8L181.5 284.8L178.0 292.8L174.4 300.8" stroke="#d8d4cc" stroke-width="2.1"/><path d="M204.1 244.4L200.5 252.4L197.0 260.4L193.5 268.4L190.0 276.4L186.4 284.4L182.9 292.4L179.4 300.4" stroke="#d8d4cc" stroke-width="2.1"/><path d="M205.5 252.0L202.0 260.0L198.5 268.0L194.9 276.0L191.4 284.0L187.9 292.0L184.4 300.0L180.9 308.0" stroke="#d8d4cc" stroke-width="2.1"/><path d="M206.9 259.6L203.4 267.6L199.9 275.6L196.4 283.6L192.9 291.6L189.3 299.6L185.8 307.6" stroke="#d8d4cc" stroke-width="2.1"/><path d="M208.4 267.2L204.9 275.2L201.4 283.2L197.8 291.2L194.3 299.2L190.8 307.2" stroke="#d8d4cc" stroke-width="2.1"/></g><g fill="none" stroke="#dedad6" stroke-linejoin="round"><path d="M-3.3 186.3L2.7 180.7L8.7 174.9L14.7 169.0L20.7 163.0L26.7 156.8L32.7 150.5L38.7 144.0L44.7 137.4L50.7 130.7L56.7 135.8L62.7 140.9L68.7 146.0L74.7 151.1L80.7 156.2L86.7 161.3L92.7 166.4L98.7 171.5L104.7 176.6" stroke-width="3.1"/><path d="M-2.2 203.3L3.8 197.7L9.8 191.9L15.8 186.0L21.8 180.0L27.8 173.8L33.8 167.5L39.8 161.0L45.8 154.4L51.8 147.7L57.8 152.8L63.8 157.9L69.8 163.0L75.8 168.1L81.8 173.2L87.8 178.3L93.8 183.4" stroke-width="3.1"/><path d="M-3.0 216.1L3.0 210.5L9.0 204.7L15.0 198.8L21.0 192.8L27.0 186.6L33.0 180.3L39.0 173.8L45.0 167.2L51.0 160.5L57.0 165.6L63.0 170.7L69.0 175.8L75.0 180.9L81.0 186.0L87.0 191.1" stroke-width="3.1"/><path d="M-7.0 233.2L-1.0 227.6L5.0 222.0L11.0 216.2L17.0 210.3L23.0 204.3L29.0 198.1L35.0 191.8L41.0 185.3L47.0 178.7L53.0 172.0L59.0 177.1L65.0 182.2L71.0 187.3L77.0 192.4L83.0 197.5" stroke-width="3.1"/><path d="M1.5 239.1L7.5 233.5L13.5 227.7L19.5 221.8L25.5 215.8L31.5 209.6L37.5 203.3L43.5 196.8L49.5 190.2L55.5 183.5L61.5 188.6L67.5 193.7L73.5 198.8L79.5 203.9" stroke-width="3.1"/><path d="M14.0 238.2L20.0 232.3L26.0 226.3L32.0 220.1L38.0 213.8L44.0 207.3L50.0 200.7L56.0 194.0L62.0 199.1L68.0 204.2L74.0 209.3" stroke-width="3.1"/><path d="M24.0 235.8L30.0 229.6L36.0 223.3L42.0 216.8L48.0 210.2L54.0 203.5L60.0 208.6L66.0 213.7" stroke-width="2.6"/><path d="M26.0 238.1L32.0 231.8L38.0 225.3L44.0 218.7L50.0 212.0L56.0 217.1L62.0 222.2" stroke-width="2.6"/><path d="M57.0 101.0C57.7 105.7 56.0 104.3 59.0 115.0C62.0 125.7 59.7 121.7 66.0 133.0C72.3 144.3 69.7 139.0 78.0 149.0C86.3 159.0 86.7 158.3 91.0 163.0" stroke-width="2.8"/><path d="M64.2 98.5C64.9 103.2 63.2 101.8 66.2 112.5C69.2 123.2 67.0 119.7 73.2 130.5C79.4 141.3 77.1 136.2 84.7 145.0C92.3 153.8 92.2 153.0 96.0 157.0" stroke-width="2.8"/><path d="M71.4 90.0C72.1 96.7 70.4 97.3 73.4 110.0C76.4 122.7 74.4 117.7 80.4 128.0C86.4 138.3 84.5 133.3 91.4 141.0C98.3 148.7 97.8 147.7 101.0 151.0" stroke-width="2.8"/><path d="M78.6 87.5C79.3 94.2 77.6 94.8 80.6 107.5C83.6 120.2 81.8 115.7 87.6 125.5C93.4 135.3 92.0 130.5 98.1 137.0C104.2 143.5 103.4 142.3 106.0 145.0" stroke-width="2.8"/><path d="M85.8 85.0C86.5 91.7 84.8 92.3 87.8 105.0C90.8 117.7 89.1 113.7 94.8 123.0C100.5 132.3 99.4 127.7 104.8 133.0C110.2 138.3 108.9 137.0 111.0 139.0" stroke-width="2.8"/><path d="M93.0 82.5C93.7 89.2 92.0 89.8 95.0 102.5C98.0 115.2 96.5 111.7 102.0 120.5C107.5 129.3 106.8 124.8 111.5 129.0C116.2 133.2 114.5 131.7 116.0 133.0" stroke-width="2.8"/><path d="M36.0 74.0C34.3 82.3 35.0 82.3 31.0 99.0C27.0 115.7 27.3 113.0 24.0 124.0C20.7 135.0 22.0 129.3 21.0 132.0" stroke-width="1.9" stroke="#c9c6c6"/><path d="M41.2 72.5C39.5 80.8 39.9 80.8 36.2 97.5C32.5 114.2 32.8 111.3 30.0 122.5C27.2 133.7 28.5 128.2 27.7 131.0" stroke-width="1.9" stroke="#c9c6c6"/><path d="M46.4 71.0C44.7 79.3 44.9 79.3 41.4 96.0C37.9 112.7 38.3 109.7 36.0 121.0C33.7 132.3 34.9 127.0 34.4 130.0" stroke-width="1.9" stroke="#c9c6c6"/><path d="M51.6 69.5C49.9 77.8 49.8 77.8 46.6 94.5C43.4 111.2 43.8 108.0 42.0 119.5C40.2 131.0 41.4 125.8 41.1 129.0" stroke-width="1.9" stroke="#c9c6c6"/><path d="M56.8 68.0C55.1 76.3 54.7 76.3 51.8 93.0C48.9 109.7 49.3 106.3 48.0 118.0C46.7 129.7 47.9 124.7 47.8 128.0" stroke-width="1.9" stroke="#c9c6c6"/><path d="M62.0 66.5C60.3 74.8 59.7 74.8 57.0 91.5C54.3 108.2 54.8 104.7 54.0 116.5C53.2 128.3 54.3 123.5 54.5 127.0" stroke-width="1.9" stroke="#c9c6c6"/><path d="M22 140Q30 126 44 131" stroke-width="2.2"/><path d="M24 146Q33 150 46 136" stroke-width="2"/></g><ellipse cx="31.5" cy="136.5" rx="7" ry="4.2" fill="#1c1214" transform="rotate(-15 31.5 136.5)"/></g></mask></defs>
<g transform="translate(155.5,854.2)" clip-path="url(#bclip)"><rect x="-9" y="-9" width="304" height="304" fill="#fdfdfc"/><g clip-path="url(#bLR)"><rect x="-9" y="-9" width="304" height="304" fill="#16120e"/><polygon points="2.4,-9.0 5.3,-9.0 5.3,0.0 3.9,100.0 2.7,286.0 2.7,295.0 0.2,295.0 0.2,286.0 1.2,100.0 2.4,0.0" fill="#6a6047"/><polygon points="3.5,-9.0 5.1,-9.0 5.1,0.0 3.7,100.0 2.5,286.0 2.5,295.0 1.2,295.0 1.2,286.0 2.2,100.0 3.5,0.0" fill="#b9b08e"/><polygon points="10.2,-9.0 15.6,-9.0 15.6,0.0 13.4,100.0 11.5,286.0 11.5,295.0 6.9,295.0 6.9,286.0 8.4,100.0 10.2,0.0" fill="#6a6047"/><polygon points="13.7,-9.0 15.4,-9.0 15.4,0.0 13.2,100.0 11.3,286.0 11.3,295.0 9.9,295.0 9.9,286.0 11.6,100.0 13.7,0.0" fill="#cfc8ab"/><polygon points="19.5,-9.0 22.0,-9.0 22.0,0.0 19.3,100.0 17.0,286.0 17.0,295.0 14.8,295.0 14.8,286.0 17.0,100.0 19.5,0.0" fill="#6a6047"/><polygon points="20.4,-9.0 21.8,-9.0 21.8,0.0 19.1,100.0 16.8,286.0 16.8,295.0 15.6,295.0 15.6,286.0 17.8,100.0 20.4,0.0" fill="#ddd6bd"/><polygon points="25.8,-9.0 30.2,-9.0 30.2,0.0 26.8,100.0 24.0,286.0 24.0,295.0 20.2,295.0 20.2,286.0 22.8,100.0 25.8,0.0" fill="#6a6047"/><polygon points="28.3,-9.0 30.0,-9.0 30.0,0.0 26.6,100.0 23.8,286.0 23.8,295.0 22.4,295.0 22.4,286.0 25.1,100.0 28.3,0.0" fill="#b7ad8a"/><polygon points="32.2,-9.0 35.1,-9.0 35.1,0.0 31.3,100.0 28.2,286.0 28.2,295.0 25.7,295.0 25.7,286.0 28.7,100.0 32.2,0.0" fill="#6a6047"/><polygon points="33.3,-9.0 34.9,-9.0 34.9,0.0 31.1,100.0 28.0,286.0 28.0,295.0 26.6,295.0 26.6,286.0 29.7,100.0 33.3,0.0" fill="#d2cbb0"/><polygon points="38.0,-9.0 41.5,-9.0 41.5,0.0 37.2,100.0 33.6,286.0 33.6,295.0 30.7,295.0 30.7,286.0 34.0,100.0 38.0,0.0" fill="#6a6047"/><polygon points="39.6,-9.0 41.3,-9.0 41.3,0.0 37.0,100.0 33.5,286.0 33.5,295.0 32.0,295.0 32.0,286.0 35.5,100.0 39.6,0.0" fill="#a89e7c"/><polygon points="43.4,-9.0 45.9,-9.0 45.9,0.0 41.3,100.0 37.4,286.0 37.4,295.0 35.3,295.0 35.3,286.0 39.0,100.0 43.4,0.0" fill="#6a6047"/><polygon points="44.3,-9.0 45.7,-9.0 45.7,0.0 41.1,100.0 37.2,286.0 37.2,295.0 36.1,295.0 36.1,286.0 39.8,100.0 44.3,0.0" fill="#e2dcc6"/><polygon points="48.3,-9.0 51.7,-9.0 51.7,0.0 46.6,100.0 42.4,286.0 42.4,295.0 39.5,295.0 39.5,286.0 43.5,100.0 48.3,0.0" fill="#6a6047"/><polygon points="49.8,-9.0 51.5,-9.0 51.5,0.0 46.4,100.0 42.2,286.0 42.2,295.0 40.7,295.0 40.7,286.0 44.9,100.0 49.8,0.0" fill="#bfb694"/><polygon points="53.7,-9.0 55.2,-9.0 55.2,0.0 49.8,100.0 45.4,286.0 45.4,295.0 44.1,295.0 44.1,286.0 48.5,100.0 53.7,0.0" fill="#6a6047"/><polygon points="54.2,-9.0 55.0,-9.0 55.0,0.0 49.7,100.0 45.2,286.0 45.2,295.0 44.5,295.0 44.5,286.0 48.9,100.0 54.2,0.0" fill="#8d8365"/><polygon points="56.8,-9.0 60.2,-9.0 60.2,0.0 54.8,100.0 50.3,286.0 50.3,295.0 46.7,295.0 46.7,286.0 51.3,100.0 56.8,0.0" fill="#f4f1e6"/><polygon points="68.4,-9.0 98.5,-9.0 98.5,0.0 94.5,100.0 91.2,286.0 91.2,295.0 59.1,295.0 59.1,286.0 63.3,100.0 68.4,0.0" fill="#6f6549"/><polygon points="68.4,-9.0 72.0,-9.0 72.0,0.0 67.0,100.0 62.9,286.0 62.9,295.0 59.1,295.0 59.1,286.0 63.3,100.0 68.4,0.0" fill="#4e4634"/><polygon points="82.0,-9.0 86.5,-9.0 86.5,0.0 82.1,100.0 78.4,286.0 78.4,295.0 73.6,295.0 73.6,286.0 77.4,100.0 82.0,0.0" fill="#8f8361"/><polygon points="72.3,-9.0 73.5,-9.0 73.5,0.0 68.6,100.0 64.5,286.0 64.5,295.0 63.2,295.0 63.2,286.0 67.4,100.0 72.3,0.0" fill="#2a2318"/><polygon points="76.2,-9.0 77.4,-9.0 77.4,0.0 72.6,100.0 68.7,286.0 68.7,295.0 67.4,295.0 67.4,286.0 71.4,100.0 76.2,0.0" fill="#2a2318"/><polygon points="80.1,-9.0 81.3,-9.0 81.3,0.0 76.7,100.0 72.8,286.0 72.8,295.0 71.5,295.0 71.5,286.0 75.4,100.0 80.1,0.0" fill="#2a2318"/><polygon points="88.0,-9.0 90.4,-9.0 90.4,0.0 86.1,100.0 82.5,286.0 82.5,295.0 80.0,295.0 80.0,286.0 83.6,100.0 88.0,0.0" fill="#1b1610"/><polygon points="94.0,-9.0 98.5,-9.0 98.5,0.0 94.5,100.0 91.2,286.0 91.2,295.0 86.4,295.0 86.4,286.0 89.9,100.0 94.0,0.0" fill="#625840"/><polygon points="187.5,-9.0 216.6,-9.0 216.6,0.0 223.0,100.0 228.3,286.0 228.3,295.0 192.9,295.0 192.9,286.0 190.4,100.0 187.5,0.0" fill="#6f6549"/><polygon points="198.5,-9.0 202.5,-9.0 202.5,0.0 207.2,100.0 211.2,286.0 211.2,295.0 206.3,295.0 206.3,286.0 202.7,100.0 198.5,0.0" fill="#8f8361"/><polygon points="187.5,-9.0 191.0,-9.0 191.0,0.0 194.4,100.0 197.2,286.0 197.2,295.0 192.9,295.0 192.9,286.0 190.4,100.0 187.5,0.0" fill="#5a5039"/><polygon points="195.1,-9.0 197.6,-9.0 197.6,0.0 201.7,100.0 205.2,286.0 205.2,295.0 202.1,295.0 202.1,286.0 198.9,100.0 195.1,0.0" fill="#2a2318"/><polygon points="203.4,-9.0 204.9,-9.0 204.9,0.0 209.9,100.0 214.1,286.0 214.1,295.0 212.2,295.0 212.2,286.0 208.2,100.0 203.4,0.0" fill="#2a2318"/><polygon points="207.4,-9.0 208.8,-9.0 208.8,0.0 214.3,100.0 218.8,286.0 218.8,295.0 217.1,295.0 217.1,286.0 212.7,100.0 207.4,0.0" fill="#2a2318"/><polygon points="211.3,-9.0 212.7,-9.0 212.7,0.0 218.6,100.0 223.6,286.0 223.6,295.0 221.9,295.0 221.9,286.0 217.0,100.0 211.3,0.0" fill="#2a2318"/><polygon points="225.4,-9.0 228.6,-9.0 228.6,0.0 236.0,100.0 242.2,286.0 242.2,295.0 239.0,295.0 239.0,286.0 232.8,100.0 225.4,0.0" fill="#f4f1e6"/><polygon points="230.6,-9.0 231.6,-9.0 231.6,0.0 238.6,100.0 244.5,286.0 244.5,295.0 243.7,295.0 243.7,286.0 237.7,100.0 230.6,0.0" fill="#6a6047"/><polygon points="230.8,-9.0 231.4,-9.0 231.4,0.0 238.4,100.0 244.3,286.0 244.3,295.0 243.9,295.0 243.9,286.0 237.9,100.0 230.8,0.0" fill="#8d8365"/><polygon points="233.8,-9.0 236.2,-9.0 236.2,0.0 242.6,100.0 248.0,286.0 248.0,295.0 246.2,295.0 246.2,286.0 240.5,100.0 233.8,0.0" fill="#6a6047"/><polygon points="234.0,-9.0 235.4,-9.0 235.4,0.0 242.0,100.0 247.4,286.0 247.4,295.0 246.3,295.0 246.3,286.0 240.7,100.0 234.0,0.0" fill="#d6cfb4"/><polygon points="243.5,-9.0 246.5,-9.0 246.5,0.0 251.6,100.0 255.8,286.0 255.8,295.0 253.6,295.0 253.6,286.0 249.0,100.0 243.5,0.0" fill="#6a6047"/><polygon points="243.7,-9.0 245.4,-9.0 245.4,0.0 250.6,100.0 255.0,286.0 255.0,295.0 253.7,295.0 253.7,286.0 249.1,100.0 243.7,0.0" fill="#cfc8ab"/><polygon points="255.8,-9.0 258.7,-9.0 258.7,0.0 262.2,100.0 265.2,286.0 265.2,295.0 262.9,295.0 262.9,286.0 259.7,100.0 255.8,0.0" fill="#6a6047"/><polygon points="256.0,-9.0 257.7,-9.0 257.7,0.0 261.3,100.0 264.4,286.0 264.4,295.0 263.1,295.0 263.1,286.0 259.9,100.0 256.0,0.0" fill="#c3ba98"/><polygon points="264.0,-9.0 265.2,-9.0 265.2,0.0 267.9,100.0 270.1,286.0 270.1,295.0 269.2,295.0 269.2,286.0 266.8,100.0 264.0,0.0" fill="#6a6047"/><polygon points="264.2,-9.0 264.9,-9.0 264.9,0.0 267.6,100.0 269.9,286.0 269.9,295.0 269.4,295.0 269.4,286.0 267.0,100.0 264.2,0.0" fill="#7d7358"/><polygon points="269.9,-9.0 273.8,-9.0 273.8,0.0 275.4,100.0 276.7,286.0 276.7,295.0 273.7,295.0 273.7,286.0 272.0,100.0 269.9,0.0" fill="#6a6047"/><polygon points="270.1,-9.0 271.8,-9.0 271.8,0.0 273.6,100.0 275.2,286.0 275.2,295.0 273.9,295.0 273.9,286.0 272.1,100.0 270.1,0.0" fill="#b3a985"/><polygon points="281.2,-9.0 283.1,-9.0 283.1,0.0 283.5,100.0 283.8,286.0 283.8,295.0 282.3,295.0 282.3,286.0 281.8,100.0 281.2,0.0" fill="#6a6047"/><polygon points="281.4,-9.0 282.5,-9.0 282.5,0.0 283.0,100.0 283.4,286.0 283.4,295.0 282.5,295.0 282.5,286.0 282.0,100.0 281.4,0.0" fill="#968c6c"/><polygon points="238.5,-9.0 240.5,-9.0 240.5,0.0 246.4,100.0 251.3,286.0 251.3,295.0 249.7,295.0 249.7,286.0 244.6,100.0 238.5,0.0" fill="#3f382a"/><polygon points="249.5,-9.0 252.0,-9.0 252.0,0.0 256.4,100.0 260.0,286.0 260.0,295.0 258.1,295.0 258.1,286.0 254.2,100.0 249.5,0.0" fill="#3f382a"/><polygon points="261.0,-9.0 262.5,-9.0 262.5,0.0 265.5,100.0 268.1,286.0 268.1,295.0 266.9,295.0 266.9,286.0 264.2,100.0 261.0,0.0" fill="#3f382a"/><polygon points="276.5,-9.0 278.5,-9.0 278.5,0.0 279.5,100.0 280.3,286.0 280.3,295.0 278.7,295.0 278.7,286.0 277.7,100.0 276.5,0.0" fill="#3f382a"/><polygon points="6.8,-9.0 8.6,-9.0 8.6,0.0 6.9,100.0 5.5,286.0 5.5,295.0 4.0,295.0 4.0,286.0 5.3,100.0 6.8,0.0" fill="#3a3326"/><polygon points="16.8,-9.0 18.4,-9.0 18.4,0.0 15.9,100.0 13.9,286.0 13.9,295.0 12.5,295.0 12.5,286.0 14.5,100.0 16.8,0.0" fill="#3a3326"/><polygon points="27.0,-9.0 28.0,-9.0 28.0,0.0 24.8,100.0 22.1,286.0 22.1,295.0 21.2,295.0 21.2,286.0 23.9,100.0 27.0,0.0" fill="#3a3326"/></g><polygon points="94,99 108.2,99 108.6,104 110,118 113,140 116,165 117,296 91,296" fill="url(#bside)"/><polygon points="191.5,99.5 177.2,99.5 176.8,104 175.5,118 172.5,140 170,165 169,296 195.5,296" fill="url(#bside)"/><polygon points="108.5,112 111,118 116.5,200 117,296 110,296 106,200" fill="#3d3222" opacity="0.55"/><polygon points="177,112 174.5,118 169.5,200 169,296 176,296 180,200" fill="#3d3222" opacity="0.55"/><rect x="94" y="103" width="13" height="2.2" fill="#3a2f1e" opacity="0.7"/><rect x="178.5" y="103" width="13" height="2.2" fill="#3a2f1e" opacity="0.7"/><rect x="94" y="110" width="13" height="2.2" fill="#3a2f1e" opacity="0.7"/><rect x="178.5" y="110" width="13" height="2.2" fill="#3a2f1e" opacity="0.7"/><rect x="94" y="121" width="13" height="2.2" fill="#3a2f1e" opacity="0.7"/><rect x="178.5" y="121" width="13" height="2.2" fill="#3a2f1e" opacity="0.7"/><rect x="94" y="134" width="13" height="2.2" fill="#3a2f1e" opacity="0.7"/><rect x="178.5" y="134" width="13" height="2.2" fill="#3a2f1e" opacity="0.7"/><rect x="94" y="150" width="13" height="2.2" fill="#3a2f1e" opacity="0.7"/><rect x="178.5" y="150" width="13" height="2.2" fill="#3a2f1e" opacity="0.7"/><rect x="94" y="166" width="13" height="2.2" fill="#3a2f1e" opacity="0.7"/><rect x="178.5" y="166" width="13" height="2.2" fill="#3a2f1e" opacity="0.7"/><path d="M123 149 Q143 128 163 149z" fill="#dfe3e2"/><path d="M142.6 118v14" stroke="#3a352c" stroke-width="0.9"/><rect x="139.5" y="132" width="6.5" height="2" fill="#2a2620"/><polygon points="115.3,148 170.2,148 170,296 116.5,296" fill="url(#bmain)"/><rect x="117.5" y="154" width="51" height="74" fill="url(#bwin)"/><rect x="133" y="228" width="19" height="68" fill="#2e281e" opacity="0.85"/><rect x="116" y="228" width="15" height="14" fill="#ece8d8"/><rect x="155.5" y="228" width="15" height="14" fill="#ece8d8"/><rect x="118" y="246" width="13" height="50" fill="url(#bwin)" opacity="0.9"/><rect x="156" y="246" width="13" height="50" fill="url(#bwin)" opacity="0.9"/><rect x="133" y="234" width="19" height="62" fill="url(#bwin)" opacity="0.5"/><g clip-path="url(#bLR)"><polygon points="61.0,-9.0 99.0,-9.0 99.0,0.0 95.0,100.0 91.7,286.0 91.7,295.0 51.2,295.0 51.2,286.0 55.6,100.0 61.0,0.0" fill="url(#bfade2)"/><polygon points="187.0,-9.0 225.0,-9.0 225.0,0.0 232.4,100.0 238.5,286.0 238.5,295.0 192.3,295.0 192.3,286.0 189.9,100.0 187.0,0.0" fill="url(#bfade2)"/></g><polygon points="-9,-9 98,-9 98,0 94,100 91,286 91,295 -9,295" fill="url(#bfade)"/><polygon points="188,-9 295,-9 295,295 195.5,295 195.5,286 191.5,100 188,0" fill="url(#bfade)"/></g>
<g transform="translate(492.0,854.2)" clip-path="url(#bclip)"><g filter="url(#pix)"><rect x="-9" y="-9" width="304" height="304" fill="#fdfdfc"/><g clip-path="url(#bLR)"><rect x="-9" y="-9" width="304" height="304" fill="#16120e"/><g opacity="0.5"><polygon points="2.4,-9.0 5.3,-9.0 5.3,0.0 3.9,100.0 2.7,286.0 2.7,295.0 0.2,295.0 0.2,286.0 1.2,100.0 2.4,0.0" fill="#6a6047"/><polygon points="3.5,-9.0 5.1,-9.0 5.1,0.0 3.7,100.0 2.5,286.0 2.5,295.0 1.2,295.0 1.2,286.0 2.2,100.0 3.5,0.0" fill="#b9b08e"/><polygon points="10.2,-9.0 15.6,-9.0 15.6,0.0 13.4,100.0 11.5,286.0 11.5,295.0 6.9,295.0 6.9,286.0 8.4,100.0 10.2,0.0" fill="#6a6047"/><polygon points="13.7,-9.0 15.4,-9.0 15.4,0.0 13.2,100.0 11.3,286.0 11.3,295.0 9.9,295.0 9.9,286.0 11.6,100.0 13.7,0.0" fill="#cfc8ab"/><polygon points="19.5,-9.0 22.0,-9.0 22.0,0.0 19.3,100.0 17.0,286.0 17.0,295.0 14.8,295.0 14.8,286.0 17.0,100.0 19.5,0.0" fill="#6a6047"/><polygon points="20.4,-9.0 21.8,-9.0 21.8,0.0 19.1,100.0 16.8,286.0 16.8,295.0 15.6,295.0 15.6,286.0 17.8,100.0 20.4,0.0" fill="#ddd6bd"/><polygon points="25.8,-9.0 30.2,-9.0 30.2,0.0 26.8,100.0 24.0,286.0 24.0,295.0 20.2,295.0 20.2,286.0 22.8,100.0 25.8,0.0" fill="#6a6047"/><polygon points="28.3,-9.0 30.0,-9.0 30.0,0.0 26.6,100.0 23.8,286.0 23.8,295.0 22.4,295.0 22.4,286.0 25.1,100.0 28.3,0.0" fill="#b7ad8a"/><polygon points="32.2,-9.0 35.1,-9.0 35.1,0.0 31.3,100.0 28.2,286.0 28.2,295.0 25.7,295.0 25.7,286.0 28.7,100.0 32.2,0.0" fill="#6a6047"/><polygon points="33.3,-9.0 34.9,-9.0 34.9,0.0 31.1,100.0 28.0,286.0 28.0,295.0 26.6,295.0 26.6,286.0 29.7,100.0 33.3,0.0" fill="#d2cbb0"/><polygon points="38.0,-9.0 41.5,-9.0 41.5,0.0 37.2,100.0 33.6,286.0 33.6,295.0 30.7,295.0 30.7,286.0 34.0,100.0 38.0,0.0" fill="#6a6047"/><polygon points="39.6,-9.0 41.3,-9.0 41.3,0.0 37.0,100.0 33.5,286.0 33.5,295.0 32.0,295.0 32.0,286.0 35.5,100.0 39.6,0.0" fill="#a89e7c"/><polygon points="43.4,-9.0 45.9,-9.0 45.9,0.0 41.3,100.0 37.4,286.0 37.4,295.0 35.3,295.0 35.3,286.0 39.0,100.0 43.4,0.0" fill="#6a6047"/><polygon points="44.3,-9.0 45.7,-9.0 45.7,0.0 41.1,100.0 37.2,286.0 37.2,295.0 36.1,295.0 36.1,286.0 39.8,100.0 44.3,0.0" fill="#e2dcc6"/><polygon points="48.3,-9.0 51.7,-9.0 51.7,0.0 46.6,100.0 42.4,286.0 42.4,295.0 39.5,295.0 39.5,286.0 43.5,100.0 48.3,0.0" fill="#6a6047"/><polygon points="49.8,-9.0 51.5,-9.0 51.5,0.0 46.4,100.0 42.2,286.0 42.2,295.0 40.7,295.0 40.7,286.0 44.9,100.0 49.8,0.0" fill="#bfb694"/><polygon points="53.7,-9.0 55.2,-9.0 55.2,0.0 49.8,100.0 45.4,286.0 45.4,295.0 44.1,295.0 44.1,286.0 48.5,100.0 53.7,0.0" fill="#6a6047"/><polygon points="54.2,-9.0 55.0,-9.0 55.0,0.0 49.7,100.0 45.2,286.0 45.2,295.0 44.5,295.0 44.5,286.0 48.9,100.0 54.2,0.0" fill="#8d8365"/><polygon points="56.8,-9.0 60.2,-9.0 60.2,0.0 54.8,100.0 50.3,286.0 50.3,295.0 46.7,295.0 46.7,286.0 51.3,100.0 56.8,0.0" fill="#f4f1e6"/><polygon points="68.4,-9.0 98.5,-9.0 98.5,0.0 94.5,100.0 91.2,286.0 91.2,295.0 59.1,295.0 59.1,286.0 63.3,100.0 68.4,0.0" fill="#6f6549"/><polygon points="68.4,-9.0 72.0,-9.0 72.0,0.0 67.0,100.0 62.9,286.0 62.9,295.0 59.1,295.0 59.1,286.0 63.3,100.0 68.4,0.0" fill="#4e4634"/><polygon points="82.0,-9.0 86.5,-9.0 86.5,0.0 82.1,100.0 78.4,286.0 78.4,295.0 73.6,295.0 73.6,286.0 77.4,100.0 82.0,0.0" fill="#8f8361"/><polygon points="72.3,-9.0 73.5,-9.0 73.5,0.0 68.6,100.0 64.5,286.0 64.5,295.0 63.2,295.0 63.2,286.0 67.4,100.0 72.3,0.0" fill="#2a2318"/><polygon points="76.2,-9.0 77.4,-9.0 77.4,0.0 72.6,100.0 68.7,286.0 68.7,295.0 67.4,295.0 67.4,286.0 71.4,100.0 76.2,0.0" fill="#2a2318"/><polygon points="80.1,-9.0 81.3,-9.0 81.3,0.0 76.7,100.0 72.8,286.0 72.8,295.0 71.5,295.0 71.5,286.0 75.4,100.0 80.1,0.0" fill="#2a2318"/><polygon points="88.0,-9.0 90.4,-9.0 90.4,0.0 86.1,100.0 82.5,286.0 82.5,295.0 80.0,295.0 80.0,286.0 83.6,100.0 88.0,0.0" fill="#1b1610"/><polygon points="94.0,-9.0 98.5,-9.0 98.5,0.0 94.5,100.0 91.2,286.0 91.2,295.0 86.4,295.0 86.4,286.0 89.9,100.0 94.0,0.0" fill="#625840"/><polygon points="187.5,-9.0 216.6,-9.0 216.6,0.0 223.0,100.0 228.3,286.0 228.3,295.0 192.9,295.0 192.9,286.0 190.4,100.0 187.5,0.0" fill="#6f6549"/><polygon points="198.5,-9.0 202.5,-9.0 202.5,0.0 207.2,100.0 211.2,286.0 211.2,295.0 206.3,295.0 206.3,286.0 202.7,100.0 198.5,0.0" fill="#8f8361"/><polygon points="187.5,-9.0 191.0,-9.0 191.0,0.0 194.4,100.0 197.2,286.0 197.2,295.0 192.9,295.0 192.9,286.0 190.4,100.0 187.5,0.0" fill="#5a5039"/><polygon points="195.1,-9.0 197.6,-9.0 197.6,0.0 201.7,100.0 205.2,286.0 205.2,295.0 202.1,295.0 202.1,286.0 198.9,100.0 195.1,0.0" fill="#2a2318"/><polygon points="203.4,-9.0 204.9,-9.0 204.9,0.0 209.9,100.0 214.1,286.0 214.1,295.0 212.2,295.0 212.2,286.0 208.2,100.0 203.4,0.0" fill="#2a2318"/><polygon points="207.4,-9.0 208.8,-9.0 208.8,0.0 214.3,100.0 218.8,286.0 218.8,295.0 217.1,295.0 217.1,286.0 212.7,100.0 207.4,0.0" fill="#2a2318"/><polygon points="211.3,-9.0 212.7,-9.0 212.7,0.0 218.6,100.0 223.6,286.0 223.6,295.0 221.9,295.0 221.9,286.0 217.0,100.0 211.3,0.0" fill="#2a2318"/><polygon points="225.4,-9.0 228.6,-9.0 228.6,0.0 236.0,100.0 242.2,286.0 242.2,295.0 239.0,295.0 239.0,286.0 232.8,100.0 225.4,0.0" fill="#f4f1e6"/><polygon points="230.6,-9.0 231.6,-9.0 231.6,0.0 238.6,100.0 244.5,286.0 244.5,295.0 243.7,295.0 243.7,286.0 237.7,100.0 230.6,0.0" fill="#6a6047"/><polygon points="230.8,-9.0 231.4,-9.0 231.4,0.0 238.4,100.0 244.3,286.0 244.3,295.0 243.9,295.0 243.9,286.0 237.9,100.0 230.8,0.0" fill="#8d8365"/><polygon points="233.8,-9.0 236.2,-9.0 236.2,0.0 242.6,100.0 248.0,286.0 248.0,295.0 246.2,295.0 246.2,286.0 240.5,100.0 233.8,0.0" fill="#6a6047"/><polygon points="234.0,-9.0 235.4,-9.0 235.4,0.0 242.0,100.0 247.4,286.0 247.4,295.0 246.3,295.0 246.3,286.0 240.7,100.0 234.0,0.0" fill="#d6cfb4"/><polygon points="243.5,-9.0 246.5,-9.0 246.5,0.0 251.6,100.0 255.8,286.0 255.8,295.0 253.6,295.0 253.6,286.0 249.0,100.0 243.5,0.0" fill="#6a6047"/><polygon points="243.7,-9.0 245.4,-9.0 245.4,0.0 250.6,100.0 255.0,286.0 255.0,295.0 253.7,295.0 253.7,286.0 249.1,100.0 243.7,0.0" fill="#cfc8ab"/><polygon points="255.8,-9.0 258.7,-9.0 258.7,0.0 262.2,100.0 265.2,286.0 265.2,295.0 262.9,295.0 262.9,286.0 259.7,100.0 255.8,0.0" fill="#6a6047"/><polygon points="256.0,-9.0 257.7,-9.0 257.7,0.0 261.3,100.0 264.4,286.0 264.4,295.0 263.1,295.0 263.1,286.0 259.9,100.0 256.0,0.0" fill="#c3ba98"/><polygon points="264.0,-9.0 265.2,-9.0 265.2,0.0 267.9,100.0 270.1,286.0 270.1,295.0 269.2,295.0 269.2,286.0 266.8,100.0 264.0,0.0" fill="#6a6047"/><polygon points="264.2,-9.0 264.9,-9.0 264.9,0.0 267.6,100.0 269.9,286.0 269.9,295.0 269.4,295.0 269.4,286.0 267.0,100.0 264.2,0.0" fill="#7d7358"/><polygon points="269.9,-9.0 273.8,-9.0 273.8,0.0 275.4,100.0 276.7,286.0 276.7,295.0 273.7,295.0 273.7,286.0 272.0,100.0 269.9,0.0" fill="#6a6047"/><polygon points="270.1,-9.0 271.8,-9.0 271.8,0.0 273.6,100.0 275.2,286.0 275.2,295.0 273.9,295.0 273.9,286.0 272.1,100.0 270.1,0.0" fill="#b3a985"/><polygon points="281.2,-9.0 283.1,-9.0 283.1,0.0 283.5,100.0 283.8,286.0 283.8,295.0 282.3,295.0 282.3,286.0 281.8,100.0 281.2,0.0" fill="#6a6047"/><polygon points="281.4,-9.0 282.5,-9.0 282.5,0.0 283.0,100.0 283.4,286.0 283.4,295.0 282.5,295.0 282.5,286.0 282.0,100.0 281.4,0.0" fill="#968c6c"/><polygon points="238.5,-9.0 240.5,-9.0 240.5,0.0 246.4,100.0 251.3,286.0 251.3,295.0 249.7,295.0 249.7,286.0 244.6,100.0 238.5,0.0" fill="#3f382a"/><polygon points="249.5,-9.0 252.0,-9.0 252.0,0.0 256.4,100.0 260.0,286.0 260.0,295.0 258.1,295.0 258.1,286.0 254.2,100.0 249.5,0.0" fill="#3f382a"/><polygon points="261.0,-9.0 262.5,-9.0 262.5,0.0 265.5,100.0 268.1,286.0 268.1,295.0 266.9,295.0 266.9,286.0 264.2,100.0 261.0,0.0" fill="#3f382a"/><polygon points="276.5,-9.0 278.5,-9.0 278.5,0.0 279.5,100.0 280.3,286.0 280.3,295.0 278.7,295.0 278.7,286.0 277.7,100.0 276.5,0.0" fill="#3f382a"/><polygon points="6.8,-9.0 8.6,-9.0 8.6,0.0 6.9,100.0 5.5,286.0 5.5,295.0 4.0,295.0 4.0,286.0 5.3,100.0 6.8,0.0" fill="#3a3326"/><polygon points="16.8,-9.0 18.4,-9.0 18.4,0.0 15.9,100.0 13.9,286.0 13.9,295.0 12.5,295.0 12.5,286.0 14.5,100.0 16.8,0.0" fill="#3a3326"/><polygon points="27.0,-9.0 28.0,-9.0 28.0,0.0 24.8,100.0 22.1,286.0 22.1,295.0 21.2,295.0 21.2,286.0 23.9,100.0 27.0,0.0" fill="#3a3326"/></g><g mask="url(#bmaskB)"><g fill="none" stroke-width="6.47" stroke-linejoin="miter"><polyline points="0.0,-106.0 44.0,-86.0 64.0,-97.0 82.0,-89.0 100.0,-97.0 143.0,-97.0 186.0,-97.0 204.0,-89.0 222.0,-97.0 242.0,-86.0 286.0,-106.0" stroke="#e01a10"/><polyline points="0.0,-100.1 44.0,-80.1 64.0,-91.1 82.0,-83.1 100.0,-91.1 143.0,-91.1 186.0,-91.1 204.0,-83.1 222.0,-91.1 242.0,-80.1 286.0,-100.1" stroke="#e01a10"/><polyline points="0.0,-94.2 44.0,-74.2 64.0,-85.2 82.0,-77.2 100.0,-85.2 143.0,-85.2 186.0,-85.2 204.0,-77.2 222.0,-85.2 242.0,-74.2 286.0,-94.2" stroke="#e8501a"/><polyline points="0.0,-88.4 44.0,-68.4 64.0,-79.4 82.0,-71.4 100.0,-79.4 143.0,-79.4 186.0,-79.4 204.0,-71.4 222.0,-79.4 242.0,-68.4 286.0,-88.4" stroke="#f0a018"/><polyline points="0.0,-82.5 44.0,-62.5 64.0,-73.5 82.0,-65.5 100.0,-73.5 143.0,-73.5 186.0,-73.5 204.0,-65.5 222.0,-73.5 242.0,-62.5 286.0,-82.5" stroke="#f4e020"/><polyline points="0.0,-76.6 44.0,-56.6 64.0,-67.6 82.0,-59.6 100.0,-67.6 143.0,-67.6 186.0,-67.6 204.0,-59.6 222.0,-67.6 242.0,-56.6 286.0,-76.6" stroke="#f4e020"/><polyline points="0.0,-70.8 44.0,-50.8 64.0,-61.8 82.0,-53.8 100.0,-61.8 143.0,-61.8 186.0,-61.8 204.0,-53.8 222.0,-61.8 242.0,-50.8 286.0,-70.8" stroke="#e8c020"/><polyline points="0.0,-64.9 44.0,-44.9 64.0,-55.9 82.0,-47.9 100.0,-55.9 143.0,-55.9 186.0,-55.9 204.0,-47.9 222.0,-55.9 242.0,-44.9 286.0,-64.9" stroke="#e86a18"/><polyline points="0.0,-59.0 44.0,-39.0 64.0,-50.0 82.0,-42.0 100.0,-50.0 143.0,-50.0 186.0,-50.0 204.0,-42.0 222.0,-50.0 242.0,-39.0 286.0,-59.0" stroke="#e01a10"/><polyline points="0.0,-53.1 44.0,-33.1 64.0,-44.1 82.0,-36.1 100.0,-44.1 143.0,-44.1 186.0,-44.1 204.0,-36.1 222.0,-44.1 242.0,-33.1 286.0,-53.1" stroke="#e01a10"/><polyline points="0.0,-47.2 44.0,-27.2 64.0,-38.2 82.0,-30.2 100.0,-38.2 143.0,-38.2 186.0,-38.2 204.0,-30.2 222.0,-38.2 242.0,-27.2 286.0,-47.2" stroke="#e8501a"/><polyline points="0.0,-41.4 44.0,-21.4 64.0,-32.4 82.0,-24.4 100.0,-32.4 143.0,-32.4 186.0,-32.4 204.0,-24.4 222.0,-32.4 242.0,-21.4 286.0,-41.4" stroke="#f0a018"/><polyline points="0.0,-35.5 44.0,-15.5 64.0,-26.5 82.0,-18.5 100.0,-26.5 143.0,-26.5 186.0,-26.5 204.0,-18.5 222.0,-26.5 242.0,-15.5 286.0,-35.5" stroke="#f4e020"/><polyline points="0.0,-29.6 44.0,-9.6 64.0,-20.6 82.0,-12.6 100.0,-20.6 143.0,-20.6 186.0,-20.6 204.0,-12.6 222.0,-20.6 242.0,-9.6 286.0,-29.6" stroke="#f4e020"/><polyline points="0.0,-23.8 44.0,-3.8 64.0,-14.8 82.0,-6.8 100.0,-14.8 143.0,-14.8 186.0,-14.8 204.0,-6.8 222.0,-14.8 242.0,-3.8 286.0,-23.8" stroke="#e8c020"/><polyline points="0.0,-17.9 44.0,2.1 64.0,-8.9 82.0,-0.9 100.0,-8.9 143.0,-8.9 186.0,-8.9 204.0,-0.9 222.0,-8.9 242.0,2.1 286.0,-17.9" stroke="#e86a18"/><polyline points="0.0,-12.0 44.0,8.0 64.0,-3.0 82.0,5.0 100.0,-3.0 143.0,-3.0 186.0,-3.0 204.0,5.0 222.0,-3.0 242.0,8.0 286.0,-12.0" stroke="#e01a10"/><polyline points="0.0,-6.1 44.0,13.9 64.0,2.9 82.0,10.9 100.0,2.9 143.0,2.9 186.0,2.9 204.0,10.9 222.0,2.9 242.0,13.9 286.0,-6.1" stroke="#e01a10"/><polyline points="0.0,-0.2 44.0,19.8 64.0,8.8 82.0,16.8 100.0,8.8 143.0,8.8 186.0,8.8 204.0,16.8 222.0,8.8 242.0,19.8 286.0,-0.2" stroke="#e8501a"/><polyline points="0.0,5.6 44.0,25.6 64.0,14.6 82.0,22.6 100.0,14.6 143.0,14.6 186.0,14.6 204.0,22.6 222.0,14.6 242.0,25.6 286.0,5.6" stroke="#f0a018"/><polyline points="0.0,11.5 44.0,31.5 64.0,20.5 82.0,28.5 100.0,20.5 143.0,20.5 186.0,20.5 204.0,28.5 222.0,20.5 242.0,31.5 286.0,11.5" stroke="#f4e020"/><polyline points="0.0,17.4 44.0,37.4 64.0,26.4 82.0,34.4 100.0,26.4 143.0,26.4 186.0,26.4 204.0,34.4 222.0,26.4 242.0,37.4 286.0,17.4" stroke="#f4e020"/><polyline points="0.0,23.2 44.0,43.2 64.0,32.2 82.0,40.2 100.0,32.2 143.0,32.2 186.0,32.2 204.0,40.2 222.0,32.2 242.0,43.2 286.0,23.2" stroke="#e8c020"/><polyline points="0.0,29.1 44.0,49.1 64.0,38.1 82.0,46.1 100.0,38.1 143.0,38.1 186.0,38.1 204.0,46.1 222.0,38.1 242.0,49.1 286.0,29.1" stroke="#e86a18"/><polyline points="0.0,35.0 44.0,55.0 64.0,44.0 82.0,52.0 100.0,44.0 143.0,44.0 186.0,44.0 204.0,52.0 222.0,44.0 242.0,55.0 286.0,35.0" stroke="#e01a10"/><polyline points="0.0,40.9 44.0,60.9 64.0,49.9 82.0,57.9 100.0,49.9 143.0,49.9 186.0,49.9 204.0,57.9 222.0,49.9 242.0,60.9 286.0,40.9" stroke="#e01a10"/><polyline points="0.0,46.8 44.0,66.8 64.0,55.8 82.0,63.8 100.0,55.8 143.0,55.8 186.0,55.8 204.0,63.8 222.0,55.8 242.0,66.8 286.0,46.8" stroke="#e8501a"/><polyline points="0.0,52.6 44.0,72.6 64.0,61.6 82.0,69.6 100.0,61.6 143.0,61.6 186.0,61.6 204.0,69.6 222.0,61.6 242.0,72.6 286.0,52.6" stroke="#f0a018"/><polyline points="0.0,58.5 44.0,78.5 64.0,67.5 82.0,75.5 100.0,67.5 143.0,67.5 186.0,67.5 204.0,75.5 222.0,67.5 242.0,78.5 286.0,58.5" stroke="#f4e020"/><polyline points="0.0,64.4 44.0,84.4 64.0,73.4 82.0,81.4 100.0,73.4 143.0,73.4 186.0,73.4 204.0,81.4 222.0,73.4 242.0,84.4 286.0,64.4" stroke="#f4e020"/><polyline points="0.0,70.2 44.0,90.2 64.0,79.2 82.0,87.2 100.0,79.2 143.0,79.2 186.0,79.2 204.0,87.2 222.0,79.2 242.0,90.2 286.0,70.2" stroke="#e8c020"/><polyline points="0.0,76.1 44.0,96.1 64.0,85.1 82.0,93.1 100.0,85.1 143.0,85.1 186.0,85.1 204.0,93.1 222.0,85.1 242.0,96.1 286.0,76.1" stroke="#e86a18"/><polyline points="0.0,82.0 44.0,102.0 64.0,91.0 82.0,99.0 100.0,91.0 143.0,91.0 186.0,91.0 204.0,99.0 222.0,91.0 242.0,102.0 286.0,82.0" stroke="#e01a10"/><polyline points="0.0,87.9 44.0,107.9 64.0,96.9 82.0,104.9 100.0,96.9 143.0,96.9 186.0,96.9 204.0,104.9 222.0,96.9 242.0,107.9 286.0,87.9" stroke="#e01a10"/><polyline points="0.0,93.8 44.0,113.8 64.0,102.8 82.0,110.8 100.0,102.8 143.0,102.8 186.0,102.8 204.0,110.8 222.0,102.8 242.0,113.8 286.0,93.8" stroke="#e8501a"/><polyline points="0.0,99.6 44.0,119.6 64.0,108.6 82.0,116.6 100.0,108.6 143.0,108.6 186.0,108.6 204.0,116.6 222.0,108.6 242.0,119.6 286.0,99.6" stroke="#f0a018"/><polyline points="0.0,105.5 44.0,125.5 64.0,114.5 82.0,122.5 100.0,114.5 143.0,114.5 186.0,114.5 204.0,122.5 222.0,114.5 242.0,125.5 286.0,105.5" stroke="#f4e020"/><polyline points="0.0,111.4 44.0,131.4 64.0,120.4 82.0,128.4 100.0,120.4 143.0,120.4 186.0,120.4 204.0,128.4 222.0,120.4 242.0,131.4 286.0,111.4" stroke="#f4e020"/><polyline points="0.0,117.2 44.0,137.2 64.0,126.2 82.0,134.2 100.0,126.2 143.0,126.2 186.0,126.2 204.0,134.2 222.0,126.2 242.0,137.2 286.0,117.2" stroke="#e8c020"/><polyline points="0.0,123.1 44.0,143.1 64.0,132.1 82.0,140.1 100.0,132.1 143.0,132.1 186.0,132.1 204.0,140.1 222.0,132.1 242.0,143.1 286.0,123.1" stroke="#e86a18"/><polyline points="0.0,129.0 44.0,149.0 64.0,138.0 82.0,146.0 100.0,138.0 143.0,138.0 186.0,138.0 204.0,146.0 222.0,138.0 242.0,149.0 286.0,129.0" stroke="#e01a10"/><polyline points="0.0,134.9 44.0,154.9 64.0,143.9 82.0,151.9 100.0,143.9 143.0,143.9 186.0,143.9 204.0,151.9 222.0,143.9 242.0,154.9 286.0,134.9" stroke="#e01a10"/><polyline points="0.0,140.8 44.0,160.8 64.0,149.8 82.0,157.8 100.0,149.8 143.0,149.8 186.0,149.8 204.0,157.8 222.0,149.8 242.0,160.8 286.0,140.8" stroke="#e8501a"/><polyline points="0.0,146.6 44.0,166.6 64.0,155.6 82.0,163.6 100.0,155.6 143.0,155.6 186.0,155.6 204.0,163.6 222.0,155.6 242.0,166.6 286.0,146.6" stroke="#f0a018"/><polyline points="0.0,152.5 44.0,172.5 64.0,161.5 82.0,169.5 100.0,161.5 143.0,161.5 186.0,161.5 204.0,169.5 222.0,161.5 242.0,172.5 286.0,152.5" stroke="#f4e020"/><polyline points="0.0,158.4 44.0,178.4 64.0,167.4 82.0,175.4 100.0,167.4 143.0,167.4 186.0,167.4 204.0,175.4 222.0,167.4 242.0,178.4 286.0,158.4" stroke="#f4e020"/><polyline points="0.0,164.2 44.0,184.2 64.0,173.2 82.0,181.2 100.0,173.2 143.0,173.2 186.0,173.2 204.0,181.2 222.0,173.2 242.0,184.2 286.0,164.2" stroke="#e8c020"/><polyline points="0.0,170.1 44.0,190.1 64.0,179.1 82.0,187.1 100.0,179.1 143.0,179.1 186.0,179.1 204.0,187.1 222.0,179.1 242.0,190.1 286.0,170.1" stroke="#e86a18"/><polyline points="0.0,176.0 44.0,196.0 64.0,185.0 82.0,193.0 100.0,185.0 143.0,185.0 186.0,185.0 204.0,193.0 222.0,185.0 242.0,196.0 286.0,176.0" stroke="#e01a10"/><polyline points="0.0,181.9 44.0,201.9 64.0,190.9 82.0,198.9 100.0,190.9 143.0,190.9 186.0,190.9 204.0,198.9 222.0,190.9 242.0,201.9 286.0,181.9" stroke="#e01a10"/><polyline points="0.0,187.8 44.0,207.8 64.0,196.8 82.0,204.8 100.0,196.8 143.0,196.8 186.0,196.8 204.0,204.8 222.0,196.8 242.0,207.8 286.0,187.8" stroke="#e8501a"/><polyline points="0.0,193.6 44.0,213.6 64.0,202.6 82.0,210.6 100.0,202.6 143.0,202.6 186.0,202.6 204.0,210.6 222.0,202.6 242.0,213.6 286.0,193.6" stroke="#f0a018"/><polyline points="0.0,199.5 44.0,219.5 64.0,208.5 82.0,216.5 100.0,208.5 143.0,208.5 186.0,208.5 204.0,216.5 222.0,208.5 242.0,219.5 286.0,199.5" stroke="#f4e020"/><polyline points="0.0,205.4 44.0,225.4 64.0,214.4 82.0,222.4 100.0,214.4 143.0,214.4 186.0,214.4 204.0,222.4 222.0,214.4 242.0,225.4 286.0,205.4" stroke="#f4e020"/><polyline points="0.0,211.2 44.0,231.2 64.0,220.2 82.0,228.2 100.0,220.2 143.0,220.2 186.0,220.2 204.0,228.2 222.0,220.2 242.0,231.2 286.0,211.2" stroke="#e8c020"/><polyline points="0.0,217.1 44.0,237.1 64.0,226.1 82.0,234.1 100.0,226.1 143.0,226.1 186.0,226.1 204.0,234.1 222.0,226.1 242.0,237.1 286.0,217.1" stroke="#e86a18"/><polyline points="0.0,223.0 44.0,243.0 64.0,232.0 82.0,240.0 100.0,232.0 143.0,232.0 186.0,232.0 204.0,240.0 222.0,232.0 242.0,243.0 286.0,223.0" stroke="#e01a10"/><polyline points="0.0,228.9 44.0,248.9 64.0,237.9 82.0,245.9 100.0,237.9 143.0,237.9 186.0,237.9 204.0,245.9 222.0,237.9 242.0,248.9 286.0,228.9" stroke="#e01a10"/><polyline points="0.0,234.8 44.0,254.8 64.0,243.8 82.0,251.8 100.0,243.8 143.0,243.8 186.0,243.8 204.0,251.8 222.0,243.8 242.0,254.8 286.0,234.8" stroke="#e8501a"/><polyline points="0.0,240.6 44.0,260.6 64.0,249.6 82.0,257.6 100.0,249.6 143.0,249.6 186.0,249.6 204.0,257.6 222.0,249.6 242.0,260.6 286.0,240.6" stroke="#f0a018"/><polyline points="0.0,246.5 44.0,266.5 64.0,255.5 82.0,263.5 100.0,255.5 143.0,255.5 186.0,255.5 204.0,263.5 222.0,255.5 242.0,266.5 286.0,246.5" stroke="#f4e020"/><polyline points="0.0,252.4 44.0,272.4 64.0,261.4 82.0,269.4 100.0,261.4 143.0,261.4 186.0,261.4 204.0,269.4 222.0,261.4 242.0,272.4 286.0,252.4" stroke="#f4e020"/><polyline points="0.0,258.2 44.0,278.2 64.0,267.2 82.0,275.2 100.0,267.2 143.0,267.2 186.0,267.2 204.0,275.2 222.0,267.2 242.0,278.2 286.0,258.2" stroke="#e8c020"/><polyline points="0.0,264.1 44.0,284.1 64.0,273.1 82.0,281.1 100.0,273.1 143.0,273.1 186.0,273.1 204.0,281.1 222.0,273.1 242.0,284.1 286.0,264.1" stroke="#e86a18"/><polyline points="0.0,270.0 44.0,290.0 64.0,279.0 82.0,287.0 100.0,279.0 143.0,279.0 186.0,279.0 204.0,287.0 222.0,279.0 242.0,290.0 286.0,270.0" stroke="#e01a10"/><polyline points="0.0,275.9 44.0,295.9 64.0,284.9 82.0,292.9 100.0,284.9 143.0,284.9 186.0,284.9 204.0,292.9 222.0,284.9 242.0,295.9 286.0,275.9" stroke="#e01a10"/><polyline points="0.0,281.8 44.0,301.8 64.0,290.8 82.0,298.8 100.0,290.8 143.0,290.8 186.0,290.8 204.0,298.8 222.0,290.8 242.0,301.8 286.0,281.8" stroke="#e8501a"/><polyline points="0.0,287.6 44.0,307.6 64.0,296.6 82.0,304.6 100.0,296.6 143.0,296.6 186.0,296.6 204.0,304.6 222.0,296.6 242.0,307.6 286.0,287.6" stroke="#f0a018"/><polyline points="0.0,293.5 44.0,313.5 64.0,302.5 82.0,310.5 100.0,302.5 143.0,302.5 186.0,302.5 204.0,310.5 222.0,302.5 242.0,313.5 286.0,293.5" stroke="#f4e020"/><polyline points="0.0,299.4 44.0,319.4 64.0,308.4 82.0,316.4 100.0,308.4 143.0,308.4 186.0,308.4 204.0,316.4 222.0,308.4 242.0,319.4 286.0,299.4" stroke="#f4e020"/><polyline points="0.0,305.2 44.0,325.2 64.0,314.2 82.0,322.2 100.0,314.2 143.0,314.2 186.0,314.2 204.0,322.2 222.0,314.2 242.0,325.2 286.0,305.2" stroke="#e8c020"/><polyline points="0.0,311.1 44.0,331.1 64.0,320.1 82.0,328.1 100.0,320.1 143.0,320.1 186.0,320.1 204.0,328.1 222.0,320.1 242.0,331.1 286.0,311.1" stroke="#e86a18"/><polyline points="0.0,317.0 44.0,337.0 64.0,326.0 82.0,334.0 100.0,326.0 143.0,326.0 186.0,326.0 204.0,334.0 222.0,326.0 242.0,337.0 286.0,317.0" stroke="#e01a10"/><polyline points="0.0,322.9 44.0,342.9 64.0,331.9 82.0,339.9 100.0,331.9 143.0,331.9 186.0,331.9 204.0,339.9 222.0,331.9 242.0,342.9 286.0,322.9" stroke="#e01a10"/><polyline points="0.0,328.8 44.0,348.8 64.0,337.8 82.0,345.8 100.0,337.8 143.0,337.8 186.0,337.8 204.0,345.8 222.0,337.8 242.0,348.8 286.0,328.8" stroke="#e8501a"/><polyline points="0.0,334.6 44.0,354.6 64.0,343.6 82.0,351.6 100.0,343.6 143.0,343.6 186.0,343.6 204.0,351.6 222.0,343.6 242.0,354.6 286.0,334.6" stroke="#f0a018"/><polyline points="0.0,340.5 44.0,360.5 64.0,349.5 82.0,357.5 100.0,349.5 143.0,349.5 186.0,349.5 204.0,357.5 222.0,349.5 242.0,360.5 286.0,340.5" stroke="#f4e020"/><polyline points="0.0,346.4 44.0,366.4 64.0,355.4 82.0,363.4 100.0,355.4 143.0,355.4 186.0,355.4 204.0,363.4 222.0,355.4 242.0,366.4 286.0,346.4" stroke="#f4e020"/><polyline points="0.0,352.2 44.0,372.2 64.0,361.2 82.0,369.2 100.0,361.2 143.0,361.2 186.0,361.2 204.0,369.2 222.0,361.2 242.0,372.2 286.0,352.2" stroke="#e8c020"/><polyline points="0.0,358.1 44.0,378.1 64.0,367.1 82.0,375.1 100.0,367.1 143.0,367.1 186.0,367.1 204.0,375.1 222.0,367.1 242.0,378.1 286.0,358.1" stroke="#e86a18"/></g><g mask="url(#bdia)"><g fill="none" stroke-width="6.47" stroke-linejoin="miter"><polyline points="0.0,-106.0 44.0,-86.0 64.0,-97.0 82.0,-89.0 100.0,-97.0 143.0,-97.0 186.0,-97.0 204.0,-89.0 222.0,-97.0 242.0,-86.0 286.0,-106.0" stroke="#0c0c40"/><polyline points="0.0,-100.1 44.0,-80.1 64.0,-91.1 82.0,-83.1 100.0,-91.1 143.0,-91.1 186.0,-91.1 204.0,-83.1 222.0,-91.1 242.0,-80.1 286.0,-100.1" stroke="#10145a"/><polyline points="0.0,-94.2 44.0,-74.2 64.0,-85.2 82.0,-77.2 100.0,-85.2 143.0,-85.2 186.0,-85.2 204.0,-77.2 222.0,-85.2 242.0,-74.2 286.0,-94.2" stroke="#1430a0"/><polyline points="0.0,-88.4 44.0,-68.4 64.0,-79.4 82.0,-71.4 100.0,-79.4 143.0,-79.4 186.0,-79.4 204.0,-71.4 222.0,-79.4 242.0,-68.4 286.0,-88.4" stroke="#20a0b0"/><polyline points="0.0,-82.5 44.0,-62.5 64.0,-73.5 82.0,-65.5 100.0,-73.5 143.0,-73.5 186.0,-73.5 204.0,-65.5 222.0,-73.5 242.0,-62.5 286.0,-82.5" stroke="#28c8d8"/><polyline points="0.0,-76.6 44.0,-56.6 64.0,-67.6 82.0,-59.6 100.0,-67.6 143.0,-67.6 186.0,-67.6 204.0,-59.6 222.0,-67.6 242.0,-56.6 286.0,-76.6" stroke="#30b848"/><polyline points="0.0,-70.8 44.0,-50.8 64.0,-61.8 82.0,-53.8 100.0,-61.8 143.0,-61.8 186.0,-61.8 204.0,-53.8 222.0,-61.8 242.0,-50.8 286.0,-70.8" stroke="#1850a0"/><polyline points="0.0,-64.9 44.0,-44.9 64.0,-55.9 82.0,-47.9 100.0,-55.9 143.0,-55.9 186.0,-55.9 204.0,-47.9 222.0,-55.9 242.0,-44.9 286.0,-64.9" stroke="#0c0c48"/><polyline points="0.0,-59.0 44.0,-39.0 64.0,-50.0 82.0,-42.0 100.0,-50.0 143.0,-50.0 186.0,-50.0 204.0,-42.0 222.0,-50.0 242.0,-39.0 286.0,-59.0" stroke="#0c0c40"/><polyline points="0.0,-53.1 44.0,-33.1 64.0,-44.1 82.0,-36.1 100.0,-44.1 143.0,-44.1 186.0,-44.1 204.0,-36.1 222.0,-44.1 242.0,-33.1 286.0,-53.1" stroke="#10145a"/><polyline points="0.0,-47.2 44.0,-27.2 64.0,-38.2 82.0,-30.2 100.0,-38.2 143.0,-38.2 186.0,-38.2 204.0,-30.2 222.0,-38.2 242.0,-27.2 286.0,-47.2" stroke="#1430a0"/><polyline points="0.0,-41.4 44.0,-21.4 64.0,-32.4 82.0,-24.4 100.0,-32.4 143.0,-32.4 186.0,-32.4 204.0,-24.4 222.0,-32.4 242.0,-21.4 286.0,-41.4" stroke="#20a0b0"/><polyline points="0.0,-35.5 44.0,-15.5 64.0,-26.5 82.0,-18.5 100.0,-26.5 143.0,-26.5 186.0,-26.5 204.0,-18.5 222.0,-26.5 242.0,-15.5 286.0,-35.5" stroke="#28c8d8"/><polyline points="0.0,-29.6 44.0,-9.6 64.0,-20.6 82.0,-12.6 100.0,-20.6 143.0,-20.6 186.0,-20.6 204.0,-12.6 222.0,-20.6 242.0,-9.6 286.0,-29.6" stroke="#30b848"/><polyline points="0.0,-23.8 44.0,-3.8 64.0,-14.8 82.0,-6.8 100.0,-14.8 143.0,-14.8 186.0,-14.8 204.0,-6.8 222.0,-14.8 242.0,-3.8 286.0,-23.8" stroke="#1850a0"/><polyline points="0.0,-17.9 44.0,2.1 64.0,-8.9 82.0,-0.9 100.0,-8.9 143.0,-8.9 186.0,-8.9 204.0,-0.9 222.0,-8.9 242.0,2.1 286.0,-17.9" stroke="#0c0c48"/><polyline points="0.0,-12.0 44.0,8.0 64.0,-3.0 82.0,5.0 100.0,-3.0 143.0,-3.0 186.0,-3.0 204.0,5.0 222.0,-3.0 242.0,8.0 286.0,-12.0" stroke="#0c0c40"/><polyline points="0.0,-6.1 44.0,13.9 64.0,2.9 82.0,10.9 100.0,2.9 143.0,2.9 186.0,2.9 204.0,10.9 222.0,2.9 242.0,13.9 286.0,-6.1" stroke="#10145a"/><polyline points="0.0,-0.2 44.0,19.8 64.0,8.8 82.0,16.8 100.0,8.8 143.0,8.8 186.0,8.8 204.0,16.8 222.0,8.8 242.0,19.8 286.0,-0.2" stroke="#1430a0"/><polyline points="0.0,5.6 44.0,25.6 64.0,14.6 82.0,22.6 100.0,14.6 143.0,14.6 186.0,14.6 204.0,22.6 222.0,14.6 242.0,25.6 286.0,5.6" stroke="#20a0b0"/><polyline points="0.0,11.5 44.0,31.5 64.0,20.5 82.0,28.5 100.0,20.5 143.0,20.5 186.0,20.5 204.0,28.5 222.0,20.5 242.0,31.5 286.0,11.5" stroke="#28c8d8"/><polyline points="0.0,17.4 44.0,37.4 64.0,26.4 82.0,34.4 100.0,26.4 143.0,26.4 186.0,26.4 204.0,34.4 222.0,26.4 242.0,37.4 286.0,17.4" stroke="#30b848"/><polyline points="0.0,23.2 44.0,43.2 64.0,32.2 82.0,40.2 100.0,32.2 143.0,32.2 186.0,32.2 204.0,40.2 222.0,32.2 242.0,43.2 286.0,23.2" stroke="#1850a0"/><polyline points="0.0,29.1 44.0,49.1 64.0,38.1 82.0,46.1 100.0,38.1 143.0,38.1 186.0,38.1 204.0,46.1 222.0,38.1 242.0,49.1 286.0,29.1" stroke="#0c0c48"/><polyline points="0.0,35.0 44.0,55.0 64.0,44.0 82.0,52.0 100.0,44.0 143.0,44.0 186.0,44.0 204.0,52.0 222.0,44.0 242.0,55.0 286.0,35.0" stroke="#0c0c40"/><polyline points="0.0,40.9 44.0,60.9 64.0,49.9 82.0,57.9 100.0,49.9 143.0,49.9 186.0,49.9 204.0,57.9 222.0,49.9 242.0,60.9 286.0,40.9" stroke="#10145a"/><polyline points="0.0,46.8 44.0,66.8 64.0,55.8 82.0,63.8 100.0,55.8 143.0,55.8 186.0,55.8 204.0,63.8 222.0,55.8 242.0,66.8 286.0,46.8" stroke="#1430a0"/><polyline points="0.0,52.6 44.0,72.6 64.0,61.6 82.0,69.6 100.0,61.6 143.0,61.6 186.0,61.6 204.0,69.6 222.0,61.6 242.0,72.6 286.0,52.6" stroke="#20a0b0"/><polyline points="0.0,58.5 44.0,78.5 64.0,67.5 82.0,75.5 100.0,67.5 143.0,67.5 186.0,67.5 204.0,75.5 222.0,67.5 242.0,78.5 286.0,58.5" stroke="#28c8d8"/><polyline points="0.0,64.4 44.0,84.4 64.0,73.4 82.0,81.4 100.0,73.4 143.0,73.4 186.0,73.4 204.0,81.4 222.0,73.4 242.0,84.4 286.0,64.4" stroke="#30b848"/><polyline points="0.0,70.2 44.0,90.2 64.0,79.2 82.0,87.2 100.0,79.2 143.0,79.2 186.0,79.2 204.0,87.2 222.0,79.2 242.0,90.2 286.0,70.2" stroke="#1850a0"/><polyline points="0.0,76.1 44.0,96.1 64.0,85.1 82.0,93.1 100.0,85.1 143.0,85.1 186.0,85.1 204.0,93.1 222.0,85.1 242.0,96.1 286.0,76.1" stroke="#0c0c48"/><polyline points="0.0,82.0 44.0,102.0 64.0,91.0 82.0,99.0 100.0,91.0 143.0,91.0 186.0,91.0 204.0,99.0 222.0,91.0 242.0,102.0 286.0,82.0" stroke="#0c0c40"/><polyline points="0.0,87.9 44.0,107.9 64.0,96.9 82.0,104.9 100.0,96.9 143.0,96.9 186.0,96.9 204.0,104.9 222.0,96.9 242.0,107.9 286.0,87.9" stroke="#10145a"/><polyline points="0.0,93.8 44.0,113.8 64.0,102.8 82.0,110.8 100.0,102.8 143.0,102.8 186.0,102.8 204.0,110.8 222.0,102.8 242.0,113.8 286.0,93.8" stroke="#1430a0"/><polyline points="0.0,99.6 44.0,119.6 64.0,108.6 82.0,116.6 100.0,108.6 143.0,108.6 186.0,108.6 204.0,116.6 222.0,108.6 242.0,119.6 286.0,99.6" stroke="#20a0b0"/><polyline points="0.0,105.5 44.0,125.5 64.0,114.5 82.0,122.5 100.0,114.5 143.0,114.5 186.0,114.5 204.0,122.5 222.0,114.5 242.0,125.5 286.0,105.5" stroke="#28c8d8"/><polyline points="0.0,111.4 44.0,131.4 64.0,120.4 82.0,128.4 100.0,120.4 143.0,120.4 186.0,120.4 204.0,128.4 222.0,120.4 242.0,131.4 286.0,111.4" stroke="#30b848"/><polyline points="0.0,117.2 44.0,137.2 64.0,126.2 82.0,134.2 100.0,126.2 143.0,126.2 186.0,126.2 204.0,134.2 222.0,126.2 242.0,137.2 286.0,117.2" stroke="#1850a0"/><polyline points="0.0,123.1 44.0,143.1 64.0,132.1 82.0,140.1 100.0,132.1 143.0,132.1 186.0,132.1 204.0,140.1 222.0,132.1 242.0,143.1 286.0,123.1" stroke="#0c0c48"/><polyline points="0.0,129.0 44.0,149.0 64.0,138.0 82.0,146.0 100.0,138.0 143.0,138.0 186.0,138.0 204.0,146.0 222.0,138.0 242.0,149.0 286.0,129.0" stroke="#0c0c40"/><polyline points="0.0,134.9 44.0,154.9 64.0,143.9 82.0,151.9 100.0,143.9 143.0,143.9 186.0,143.9 204.0,151.9 222.0,143.9 242.0,154.9 286.0,134.9" stroke="#10145a"/><polyline points="0.0,140.8 44.0,160.8 64.0,149.8 82.0,157.8 100.0,149.8 143.0,149.8 186.0,149.8 204.0,157.8 222.0,149.8 242.0,160.8 286.0,140.8" stroke="#1430a0"/><polyline points="0.0,146.6 44.0,166.6 64.0,155.6 82.0,163.6 100.0,155.6 143.0,155.6 186.0,155.6 204.0,163.6 222.0,155.6 242.0,166.6 286.0,146.6" stroke="#20a0b0"/><polyline points="0.0,152.5 44.0,172.5 64.0,161.5 82.0,169.5 100.0,161.5 143.0,161.5 186.0,161.5 204.0,169.5 222.0,161.5 242.0,172.5 286.0,152.5" stroke="#28c8d8"/><polyline points="0.0,158.4 44.0,178.4 64.0,167.4 82.0,175.4 100.0,167.4 143.0,167.4 186.0,167.4 204.0,175.4 222.0,167.4 242.0,178.4 286.0,158.4" stroke="#30b848"/><polyline points="0.0,164.2 44.0,184.2 64.0,173.2 82.0,181.2 100.0,173.2 143.0,173.2 186.0,173.2 204.0,181.2 222.0,173.2 242.0,184.2 286.0,164.2" stroke="#1850a0"/><polyline points="0.0,170.1 44.0,190.1 64.0,179.1 82.0,187.1 100.0,179.1 143.0,179.1 186.0,179.1 204.0,187.1 222.0,179.1 242.0,190.1 286.0,170.1" stroke="#0c0c48"/><polyline points="0.0,176.0 44.0,196.0 64.0,185.0 82.0,193.0 100.0,185.0 143.0,185.0 186.0,185.0 204.0,193.0 222.0,185.0 242.0,196.0 286.0,176.0" stroke="#0c0c40"/><polyline points="0.0,181.9 44.0,201.9 64.0,190.9 82.0,198.9 100.0,190.9 143.0,190.9 186.0,190.9 204.0,198.9 222.0,190.9 242.0,201.9 286.0,181.9" stroke="#10145a"/><polyline points="0.0,187.8 44.0,207.8 64.0,196.8 82.0,204.8 100.0,196.8 143.0,196.8 186.0,196.8 204.0,204.8 222.0,196.8 242.0,207.8 286.0,187.8" stroke="#1430a0"/><polyline points="0.0,193.6 44.0,213.6 64.0,202.6 82.0,210.6 100.0,202.6 143.0,202.6 186.0,202.6 204.0,210.6 222.0,202.6 242.0,213.6 286.0,193.6" stroke="#20a0b0"/><polyline points="0.0,199.5 44.0,219.5 64.0,208.5 82.0,216.5 100.0,208.5 143.0,208.5 186.0,208.5 204.0,216.5 222.0,208.5 242.0,219.5 286.0,199.5" stroke="#28c8d8"/><polyline points="0.0,205.4 44.0,225.4 64.0,214.4 82.0,222.4 100.0,214.4 143.0,214.4 186.0,214.4 204.0,222.4 222.0,214.4 242.0,225.4 286.0,205.4" stroke="#30b848"/><polyline points="0.0,211.2 44.0,231.2 64.0,220.2 82.0,228.2 100.0,220.2 143.0,220.2 186.0,220.2 204.0,228.2 222.0,220.2 242.0,231.2 286.0,211.2" stroke="#1850a0"/><polyline points="0.0,217.1 44.0,237.1 64.0,226.1 82.0,234.1 100.0,226.1 143.0,226.1 186.0,226.1 204.0,234.1 222.0,226.1 242.0,237.1 286.0,217.1" stroke="#0c0c48"/><polyline points="0.0,223.0 44.0,243.0 64.0,232.0 82.0,240.0 100.0,232.0 143.0,232.0 186.0,232.0 204.0,240.0 222.0,232.0 242.0,243.0 286.0,223.0" stroke="#0c0c40"/><polyline points="0.0,228.9 44.0,248.9 64.0,237.9 82.0,245.9 100.0,237.9 143.0,237.9 186.0,237.9 204.0,245.9 222.0,237.9 242.0,248.9 286.0,228.9" stroke="#10145a"/><polyline points="0.0,234.8 44.0,254.8 64.0,243.8 82.0,251.8 100.0,243.8 143.0,243.8 186.0,243.8 204.0,251.8 222.0,243.8 242.0,254.8 286.0,234.8" stroke="#1430a0"/><polyline points="0.0,240.6 44.0,260.6 64.0,249.6 82.0,257.6 100.0,249.6 143.0,249.6 186.0,249.6 204.0,257.6 222.0,249.6 242.0,260.6 286.0,240.6" stroke="#20a0b0"/><polyline points="0.0,246.5 44.0,266.5 64.0,255.5 82.0,263.5 100.0,255.5 143.0,255.5 186.0,255.5 204.0,263.5 222.0,255.5 242.0,266.5 286.0,246.5" stroke="#28c8d8"/><polyline points="0.0,252.4 44.0,272.4 64.0,261.4 82.0,269.4 100.0,261.4 143.0,261.4 186.0,261.4 204.0,269.4 222.0,261.4 242.0,272.4 286.0,252.4" stroke="#30b848"/><polyline points="0.0,258.2 44.0,278.2 64.0,267.2 82.0,275.2 100.0,267.2 143.0,267.2 186.0,267.2 204.0,275.2 222.0,267.2 242.0,278.2 286.0,258.2" stroke="#1850a0"/><polyline points="0.0,264.1 44.0,284.1 64.0,273.1 82.0,281.1 100.0,273.1 143.0,273.1 186.0,273.1 204.0,281.1 222.0,273.1 242.0,284.1 286.0,264.1" stroke="#0c0c48"/><polyline points="0.0,270.0 44.0,290.0 64.0,279.0 82.0,287.0 100.0,279.0 143.0,279.0 186.0,279.0 204.0,287.0 222.0,279.0 242.0,290.0 286.0,270.0" stroke="#0c0c40"/><polyline points="0.0,275.9 44.0,295.9 64.0,284.9 82.0,292.9 100.0,284.9 143.0,284.9 186.0,284.9 204.0,292.9 222.0,284.9 242.0,295.9 286.0,275.9" stroke="#10145a"/><polyline points="0.0,281.8 44.0,301.8 64.0,290.8 82.0,298.8 100.0,290.8 143.0,290.8 186.0,290.8 204.0,298.8 222.0,290.8 242.0,301.8 286.0,281.8" stroke="#1430a0"/><polyline points="0.0,287.6 44.0,307.6 64.0,296.6 82.0,304.6 100.0,296.6 143.0,296.6 186.0,296.6 204.0,304.6 222.0,296.6 242.0,307.6 286.0,287.6" stroke="#20a0b0"/><polyline points="0.0,293.5 44.0,313.5 64.0,302.5 82.0,310.5 100.0,302.5 143.0,302.5 186.0,302.5 204.0,310.5 222.0,302.5 242.0,313.5 286.0,293.5" stroke="#28c8d8"/><polyline points="0.0,299.4 44.0,319.4 64.0,308.4 82.0,316.4 100.0,308.4 143.0,308.4 186.0,308.4 204.0,316.4 222.0,308.4 242.0,319.4 286.0,299.4" stroke="#30b848"/><polyline points="0.0,305.2 44.0,325.2 64.0,314.2 82.0,322.2 100.0,314.2 143.0,314.2 186.0,314.2 204.0,322.2 222.0,314.2 242.0,325.2 286.0,305.2" stroke="#1850a0"/><polyline points="0.0,311.1 44.0,331.1 64.0,320.1 82.0,328.1 100.0,320.1 143.0,320.1 186.0,320.1 204.0,328.1 222.0,320.1 242.0,331.1 286.0,311.1" stroke="#0c0c48"/><polyline points="0.0,317.0 44.0,337.0 64.0,326.0 82.0,334.0 100.0,326.0 143.0,326.0 186.0,326.0 204.0,334.0 222.0,326.0 242.0,337.0 286.0,317.0" stroke="#0c0c40"/><polyline points="0.0,322.9 44.0,342.9 64.0,331.9 82.0,339.9 100.0,331.9 143.0,331.9 186.0,331.9 204.0,339.9 222.0,331.9 242.0,342.9 286.0,322.9" stroke="#10145a"/><polyline points="0.0,328.8 44.0,348.8 64.0,337.8 82.0,345.8 100.0,337.8 143.0,337.8 186.0,337.8 204.0,345.8 222.0,337.8 242.0,348.8 286.0,328.8" stroke="#1430a0"/><polyline points="0.0,334.6 44.0,354.6 64.0,343.6 82.0,351.6 100.0,343.6 143.0,343.6 186.0,343.6 204.0,351.6 222.0,343.6 242.0,354.6 286.0,334.6" stroke="#20a0b0"/><polyline points="0.0,340.5 44.0,360.5 64.0,349.5 82.0,357.5 100.0,349.5 143.0,349.5 186.0,349.5 204.0,357.5 222.0,349.5 242.0,360.5 286.0,340.5" stroke="#28c8d8"/><polyline points="0.0,346.4 44.0,366.4 64.0,355.4 82.0,363.4 100.0,355.4 143.0,355.4 186.0,355.4 204.0,363.4 222.0,355.4 242.0,366.4 286.0,346.4" stroke="#30b848"/><polyline points="0.0,352.2 44.0,372.2 64.0,361.2 82.0,369.2 100.0,361.2 143.0,361.2 186.0,361.2 204.0,369.2 222.0,361.2 242.0,372.2 286.0,352.2" stroke="#1850a0"/><polyline points="0.0,358.1 44.0,378.1 64.0,367.1 82.0,375.1 100.0,367.1 143.0,367.1 186.0,367.1 204.0,375.1 222.0,367.1 242.0,378.1 286.0,358.1" stroke="#0c0c48"/></g></g></g></g><polygon points="94,99 108.2,99 108.6,104 110,118 113,140 116,165 117,296 91,296" fill="url(#bside)"/><polygon points="191.5,99.5 177.2,99.5 176.8,104 175.5,118 172.5,140 170,165 169,296 195.5,296" fill="url(#bside)"/><polygon points="108.5,112 111,118 116.5,200 117,296 110,296 106,200" fill="#3d3222" opacity="0.55"/><polygon points="177,112 174.5,118 169.5,200 169,296 176,296 180,200" fill="#3d3222" opacity="0.55"/><rect x="94" y="103" width="13" height="2.2" fill="#3a2f1e" opacity="0.7"/><rect x="178.5" y="103" width="13" height="2.2" fill="#3a2f1e" opacity="0.7"/><rect x="94" y="110" width="13" height="2.2" fill="#3a2f1e" opacity="0.7"/><rect x="178.5" y="110" width="13" height="2.2" fill="#3a2f1e" opacity="0.7"/><rect x="94" y="121" width="13" height="2.2" fill="#3a2f1e" opacity="0.7"/><rect x="178.5" y="121" width="13" height="2.2" fill="#3a2f1e" opacity="0.7"/><rect x="94" y="134" width="13" height="2.2" fill="#3a2f1e" opacity="0.7"/><rect x="178.5" y="134" width="13" height="2.2" fill="#3a2f1e" opacity="0.7"/><rect x="94" y="150" width="13" height="2.2" fill="#3a2f1e" opacity="0.7"/><rect x="178.5" y="150" width="13" height="2.2" fill="#3a2f1e" opacity="0.7"/><rect x="94" y="166" width="13" height="2.2" fill="#3a2f1e" opacity="0.7"/><rect x="178.5" y="166" width="13" height="2.2" fill="#3a2f1e" opacity="0.7"/><path d="M123 149 Q143 128 163 149z" fill="#dfe3e2"/><path d="M142.6 118v14" stroke="#3a352c" stroke-width="0.9"/><rect x="139.5" y="132" width="6.5" height="2" fill="#2a2620"/><polygon points="115.3,148 170.2,148 170,296 116.5,296" fill="url(#bmain)"/><rect x="117.5" y="154" width="51" height="74" fill="url(#bwin)"/><rect x="133" y="228" width="19" height="68" fill="#2e281e" opacity="0.85"/><rect x="116" y="228" width="15" height="14" fill="#ece8d8"/><rect x="155.5" y="228" width="15" height="14" fill="#ece8d8"/><rect x="118" y="246" width="13" height="50" fill="url(#bwin)" opacity="0.9"/><rect x="156" y="246" width="13" height="50" fill="url(#bwin)" opacity="0.9"/><rect x="133" y="234" width="19" height="62" fill="url(#bwin)" opacity="0.5"/><polygon points="94,99 108.2,99 110,118 113,140 116,165 117,296 91,296" fill="url(#ckS2)" opacity="0.3"/><polygon points="191.5,99.5 177.2,99.5 175.5,118 172.5,140 170,165 169,296 195.5,296" fill="url(#ckS2)" opacity="0.3"/><polygon points="94,99 108.2,99 110,118 113,140 116,165 117,296 91,296" fill="#15110e" opacity="0.35"/><polygon points="191.5,99.5 177.2,99.5 175.5,118 172.5,140 170,165 169,296 195.5,296" fill="#15110e" opacity="0.35"/><rect x="115" y="146" width="56" height="96" fill="url(#ckS)" opacity="0.3"/><rect x="115" y="146" width="56" height="96" fill="url(#ckP)" opacity="0.25"/><rect x="115" y="242" width="56" height="54" fill="url(#ckS2)" opacity="0.35"/><rect x="91" y="236" width="105" height="60" fill="#15110e" opacity="0.35"/><rect x="115" y="146" width="56" height="96" fill="#4a4030" opacity="0.3"/><g clip-path="url(#bLR)"><polygon points="61.0,-9.0 99.0,-9.0 99.0,0.0 95.0,100.0 91.7,286.0 91.7,295.0 51.2,295.0 51.2,286.0 55.6,100.0 61.0,0.0" fill="url(#bfade2)"/><polygon points="187.0,-9.0 225.0,-9.0 225.0,0.0 232.4,100.0 238.5,286.0 238.5,295.0 192.3,295.0 192.3,286.0 189.9,100.0 187.0,0.0" fill="url(#bfade2)"/></g><polygon points="-9,-9 98,-9 98,0 94,100 91,286 91,295 -9,295" fill="url(#bfade)"/><polygon points="188,-9 295,-9 295,295 195.5,295 195.5,286 191.5,100 188,0" fill="url(#bfade)"/></g></g>
<g transform="translate(830.5,854.2)" clip-path="url(#bclip)"><g filter="url(#pix)"><rect x="-9" y="-9" width="304" height="304" fill="#fdfdfc"/><g clip-path="url(#bLR)"><rect x="-9" y="-9" width="304" height="304" fill="#16120e"/><g opacity="0.3"><polygon points="2.4,-9.0 5.3,-9.0 5.3,0.0 3.9,100.0 2.7,286.0 2.7,295.0 0.2,295.0 0.2,286.0 1.2,100.0 2.4,0.0" fill="#6a6047"/><polygon points="3.5,-9.0 5.1,-9.0 5.1,0.0 3.7,100.0 2.5,286.0 2.5,295.0 1.2,295.0 1.2,286.0 2.2,100.0 3.5,0.0" fill="#b9b08e"/><polygon points="10.2,-9.0 15.6,-9.0 15.6,0.0 13.4,100.0 11.5,286.0 11.5,295.0 6.9,295.0 6.9,286.0 8.4,100.0 10.2,0.0" fill="#6a6047"/><polygon points="13.7,-9.0 15.4,-9.0 15.4,0.0 13.2,100.0 11.3,286.0 11.3,295.0 9.9,295.0 9.9,286.0 11.6,100.0 13.7,0.0" fill="#cfc8ab"/><polygon points="19.5,-9.0 22.0,-9.0 22.0,0.0 19.3,100.0 17.0,286.0 17.0,295.0 14.8,295.0 14.8,286.0 17.0,100.0 19.5,0.0" fill="#6a6047"/><polygon points="20.4,-9.0 21.8,-9.0 21.8,0.0 19.1,100.0 16.8,286.0 16.8,295.0 15.6,295.0 15.6,286.0 17.8,100.0 20.4,0.0" fill="#ddd6bd"/><polygon points="25.8,-9.0 30.2,-9.0 30.2,0.0 26.8,100.0 24.0,286.0 24.0,295.0 20.2,295.0 20.2,286.0 22.8,100.0 25.8,0.0" fill="#6a6047"/><polygon points="28.3,-9.0 30.0,-9.0 30.0,0.0 26.6,100.0 23.8,286.0 23.8,295.0 22.4,295.0 22.4,286.0 25.1,100.0 28.3,0.0" fill="#b7ad8a"/><polygon points="32.2,-9.0 35.1,-9.0 35.1,0.0 31.3,100.0 28.2,286.0 28.2,295.0 25.7,295.0 25.7,286.0 28.7,100.0 32.2,0.0" fill="#6a6047"/><polygon points="33.3,-9.0 34.9,-9.0 34.9,0.0 31.1,100.0 28.0,286.0 28.0,295.0 26.6,295.0 26.6,286.0 29.7,100.0 33.3,0.0" fill="#d2cbb0"/><polygon points="38.0,-9.0 41.5,-9.0 41.5,0.0 37.2,100.0 33.6,286.0 33.6,295.0 30.7,295.0 30.7,286.0 34.0,100.0 38.0,0.0" fill="#6a6047"/><polygon points="39.6,-9.0 41.3,-9.0 41.3,0.0 37.0,100.0 33.5,286.0 33.5,295.0 32.0,295.0 32.0,286.0 35.5,100.0 39.6,0.0" fill="#a89e7c"/><polygon points="43.4,-9.0 45.9,-9.0 45.9,0.0 41.3,100.0 37.4,286.0 37.4,295.0 35.3,295.0 35.3,286.0 39.0,100.0 43.4,0.0" fill="#6a6047"/><polygon points="44.3,-9.0 45.7,-9.0 45.7,0.0 41.1,100.0 37.2,286.0 37.2,295.0 36.1,295.0 36.1,286.0 39.8,100.0 44.3,0.0" fill="#e2dcc6"/><polygon points="48.3,-9.0 51.7,-9.0 51.7,0.0 46.6,100.0 42.4,286.0 42.4,295.0 39.5,295.0 39.5,286.0 43.5,100.0 48.3,0.0" fill="#6a6047"/><polygon points="49.8,-9.0 51.5,-9.0 51.5,0.0 46.4,100.0 42.2,286.0 42.2,295.0 40.7,295.0 40.7,286.0 44.9,100.0 49.8,0.0" fill="#bfb694"/><polygon points="53.7,-9.0 55.2,-9.0 55.2,0.0 49.8,100.0 45.4,286.0 45.4,295.0 44.1,295.0 44.1,286.0 48.5,100.0 53.7,0.0" fill="#6a6047"/><polygon points="54.2,-9.0 55.0,-9.0 55.0,0.0 49.7,100.0 45.2,286.0 45.2,295.0 44.5,295.0 44.5,286.0 48.9,100.0 54.2,0.0" fill="#8d8365"/><polygon points="56.8,-9.0 60.2,-9.0 60.2,0.0 54.8,100.0 50.3,286.0 50.3,295.0 46.7,295.0 46.7,286.0 51.3,100.0 56.8,0.0" fill="#f4f1e6"/><polygon points="68.4,-9.0 98.5,-9.0 98.5,0.0 94.5,100.0 91.2,286.0 91.2,295.0 59.1,295.0 59.1,286.0 63.3,100.0 68.4,0.0" fill="#6f6549"/><polygon points="68.4,-9.0 72.0,-9.0 72.0,0.0 67.0,100.0 62.9,286.0 62.9,295.0 59.1,295.0 59.1,286.0 63.3,100.0 68.4,0.0" fill="#4e4634"/><polygon points="82.0,-9.0 86.5,-9.0 86.5,0.0 82.1,100.0 78.4,286.0 78.4,295.0 73.6,295.0 73.6,286.0 77.4,100.0 82.0,0.0" fill="#8f8361"/><polygon points="72.3,-9.0 73.5,-9.0 73.5,0.0 68.6,100.0 64.5,286.0 64.5,295.0 63.2,295.0 63.2,286.0 67.4,100.0 72.3,0.0" fill="#2a2318"/><polygon points="76.2,-9.0 77.4,-9.0 77.4,0.0 72.6,100.0 68.7,286.0 68.7,295.0 67.4,295.0 67.4,286.0 71.4,100.0 76.2,0.0" fill="#2a2318"/><polygon points="80.1,-9.0 81.3,-9.0 81.3,0.0 76.7,100.0 72.8,286.0 72.8,295.0 71.5,295.0 71.5,286.0 75.4,100.0 80.1,0.0" fill="#2a2318"/><polygon points="88.0,-9.0 90.4,-9.0 90.4,0.0 86.1,100.0 82.5,286.0 82.5,295.0 80.0,295.0 80.0,286.0 83.6,100.0 88.0,0.0" fill="#1b1610"/><polygon points="94.0,-9.0 98.5,-9.0 98.5,0.0 94.5,100.0 91.2,286.0 91.2,295.0 86.4,295.0 86.4,286.0 89.9,100.0 94.0,0.0" fill="#625840"/><polygon points="187.5,-9.0 216.6,-9.0 216.6,0.0 223.0,100.0 228.3,286.0 228.3,295.0 192.9,295.0 192.9,286.0 190.4,100.0 187.5,0.0" fill="#6f6549"/><polygon points="198.5,-9.0 202.5,-9.0 202.5,0.0 207.2,100.0 211.2,286.0 211.2,295.0 206.3,295.0 206.3,286.0 202.7,100.0 198.5,0.0" fill="#8f8361"/><polygon points="187.5,-9.0 191.0,-9.0 191.0,0.0 194.4,100.0 197.2,286.0 197.2,295.0 192.9,295.0 192.9,286.0 190.4,100.0 187.5,0.0" fill="#5a5039"/><polygon points="195.1,-9.0 197.6,-9.0 197.6,0.0 201.7,100.0 205.2,286.0 205.2,295.0 202.1,295.0 202.1,286.0 198.9,100.0 195.1,0.0" fill="#2a2318"/><polygon points="203.4,-9.0 204.9,-9.0 204.9,0.0 209.9,100.0 214.1,286.0 214.1,295.0 212.2,295.0 212.2,286.0 208.2,100.0 203.4,0.0" fill="#2a2318"/><polygon points="207.4,-9.0 208.8,-9.0 208.8,0.0 214.3,100.0 218.8,286.0 218.8,295.0 217.1,295.0 217.1,286.0 212.7,100.0 207.4,0.0" fill="#2a2318"/><polygon points="211.3,-9.0 212.7,-9.0 212.7,0.0 218.6,100.0 223.6,286.0 223.6,295.0 221.9,295.0 221.9,286.0 217.0,100.0 211.3,0.0" fill="#2a2318"/><polygon points="225.4,-9.0 228.6,-9.0 228.6,0.0 236.0,100.0 242.2,286.0 242.2,295.0 239.0,295.0 239.0,286.0 232.8,100.0 225.4,0.0" fill="#f4f1e6"/><polygon points="230.6,-9.0 231.6,-9.0 231.6,0.0 238.6,100.0 244.5,286.0 244.5,295.0 243.7,295.0 243.7,286.0 237.7,100.0 230.6,0.0" fill="#6a6047"/><polygon points="230.8,-9.0 231.4,-9.0 231.4,0.0 238.4,100.0 244.3,286.0 244.3,295.0 243.9,295.0 243.9,286.0 237.9,100.0 230.8,0.0" fill="#8d8365"/><polygon points="233.8,-9.0 236.2,-9.0 236.2,0.0 242.6,100.0 248.0,286.0 248.0,295.0 246.2,295.0 246.2,286.0 240.5,100.0 233.8,0.0" fill="#6a6047"/><polygon points="234.0,-9.0 235.4,-9.0 235.4,0.0 242.0,100.0 247.4,286.0 247.4,295.0 246.3,295.0 246.3,286.0 240.7,100.0 234.0,0.0" fill="#d6cfb4"/><polygon points="243.5,-9.0 246.5,-9.0 246.5,0.0 251.6,100.0 255.8,286.0 255.8,295.0 253.6,295.0 253.6,286.0 249.0,100.0 243.5,0.0" fill="#6a6047"/><polygon points="243.7,-9.0 245.4,-9.0 245.4,0.0 250.6,100.0 255.0,286.0 255.0,295.0 253.7,295.0 253.7,286.0 249.1,100.0 243.7,0.0" fill="#cfc8ab"/><polygon points="255.8,-9.0 258.7,-9.0 258.7,0.0 262.2,100.0 265.2,286.0 265.2,295.0 262.9,295.0 262.9,286.0 259.7,100.0 255.8,0.0" fill="#6a6047"/><polygon points="256.0,-9.0 257.7,-9.0 257.7,0.0 261.3,100.0 264.4,286.0 264.4,295.0 263.1,295.0 263.1,286.0 259.9,100.0 256.0,0.0" fill="#c3ba98"/><polygon points="264.0,-9.0 265.2,-9.0 265.2,0.0 267.9,100.0 270.1,286.0 270.1,295.0 269.2,295.0 269.2,286.0 266.8,100.0 264.0,0.0" fill="#6a6047"/><polygon points="264.2,-9.0 264.9,-9.0 264.9,0.0 267.6,100.0 269.9,286.0 269.9,295.0 269.4,295.0 269.4,286.0 267.0,100.0 264.2,0.0" fill="#7d7358"/><polygon points="269.9,-9.0 273.8,-9.0 273.8,0.0 275.4,100.0 276.7,286.0 276.7,295.0 273.7,295.0 273.7,286.0 272.0,100.0 269.9,0.0" fill="#6a6047"/><polygon points="270.1,-9.0 271.8,-9.0 271.8,0.0 273.6,100.0 275.2,286.0 275.2,295.0 273.9,295.0 273.9,286.0 272.1,100.0 270.1,0.0" fill="#b3a985"/><polygon points="281.2,-9.0 283.1,-9.0 283.1,0.0 283.5,100.0 283.8,286.0 283.8,295.0 282.3,295.0 282.3,286.0 281.8,100.0 281.2,0.0" fill="#6a6047"/><polygon points="281.4,-9.0 282.5,-9.0 282.5,0.0 283.0,100.0 283.4,286.0 283.4,295.0 282.5,295.0 282.5,286.0 282.0,100.0 281.4,0.0" fill="#968c6c"/><polygon points="238.5,-9.0 240.5,-9.0 240.5,0.0 246.4,100.0 251.3,286.0 251.3,295.0 249.7,295.0 249.7,286.0 244.6,100.0 238.5,0.0" fill="#3f382a"/><polygon points="249.5,-9.0 252.0,-9.0 252.0,0.0 256.4,100.0 260.0,286.0 260.0,295.0 258.1,295.0 258.1,286.0 254.2,100.0 249.5,0.0" fill="#3f382a"/><polygon points="261.0,-9.0 262.5,-9.0 262.5,0.0 265.5,100.0 268.1,286.0 268.1,295.0 266.9,295.0 266.9,286.0 264.2,100.0 261.0,0.0" fill="#3f382a"/><polygon points="276.5,-9.0 278.5,-9.0 278.5,0.0 279.5,100.0 280.3,286.0 280.3,295.0 278.7,295.0 278.7,286.0 277.7,100.0 276.5,0.0" fill="#3f382a"/><polygon points="6.8,-9.0 8.6,-9.0 8.6,0.0 6.9,100.0 5.5,286.0 5.5,295.0 4.0,295.0 4.0,286.0 5.3,100.0 6.8,0.0" fill="#3a3326"/><polygon points="16.8,-9.0 18.4,-9.0 18.4,0.0 15.9,100.0 13.9,286.0 13.9,295.0 12.5,295.0 12.5,286.0 14.5,100.0 16.8,0.0" fill="#3a3326"/><polygon points="27.0,-9.0 28.0,-9.0 28.0,0.0 24.8,100.0 22.1,286.0 22.1,295.0 21.2,295.0 21.2,286.0 23.9,100.0 27.0,0.0" fill="#3a3326"/></g><g mask="url(#bmaskC)"><g filter="url(#bb07)"><g fill="none" stroke-width="6.47" stroke-linejoin="miter"><polyline points="0.0,-126.0 44.0,-86.0 64.0,-108.0 82.0,-92.0 100.0,-108.0 143.0,-108.0 186.0,-108.0 204.0,-92.0 222.0,-108.0 242.0,-86.0 286.0,-126.0" stroke="#ff1a00"/><polyline points="0.0,-120.1 44.0,-80.1 64.0,-102.1 82.0,-86.1 100.0,-102.1 143.0,-102.1 186.0,-102.1 204.0,-86.1 222.0,-102.1 242.0,-80.1 286.0,-120.1" stroke="#ff9a00"/><polyline points="0.0,-114.2 44.0,-74.2 64.0,-96.2 82.0,-80.2 100.0,-96.2 143.0,-96.2 186.0,-96.2 204.0,-80.2 222.0,-96.2 242.0,-74.2 286.0,-114.2" stroke="#f6f000"/><polyline points="0.0,-108.4 44.0,-68.4 64.0,-90.4 82.0,-74.4 100.0,-90.4 143.0,-90.4 186.0,-90.4 204.0,-74.4 222.0,-90.4 242.0,-68.4 286.0,-108.4" stroke="#22d020"/><polyline points="0.0,-102.5 44.0,-62.5 64.0,-84.5 82.0,-68.5 100.0,-84.5 143.0,-84.5 186.0,-84.5 204.0,-68.5 222.0,-84.5 242.0,-62.5 286.0,-102.5" stroke="#00c8e8"/><polyline points="0.0,-96.6 44.0,-56.6 64.0,-78.6 82.0,-62.6 100.0,-78.6 143.0,-78.6 186.0,-78.6 204.0,-62.6 222.0,-78.6 242.0,-56.6 286.0,-96.6" stroke="#1030ff"/><polyline points="0.0,-90.8 44.0,-50.8 64.0,-72.8 82.0,-56.8 100.0,-72.8 143.0,-72.8 186.0,-72.8 204.0,-56.8 222.0,-72.8 242.0,-50.8 286.0,-90.8" stroke="#7a10d0"/><polyline points="0.0,-84.9 44.0,-44.9 64.0,-66.9 82.0,-50.9 100.0,-66.9 143.0,-66.9 186.0,-66.9 204.0,-50.9 222.0,-66.9 242.0,-44.9 286.0,-84.9" stroke="#e0105a"/><polyline points="0.0,-79.0 44.0,-39.0 64.0,-61.0 82.0,-45.0 100.0,-61.0 143.0,-61.0 186.0,-61.0 204.0,-45.0 222.0,-61.0 242.0,-39.0 286.0,-79.0" stroke="#ff1a00"/><polyline points="0.0,-73.1 44.0,-33.1 64.0,-55.1 82.0,-39.1 100.0,-55.1 143.0,-55.1 186.0,-55.1 204.0,-39.1 222.0,-55.1 242.0,-33.1 286.0,-73.1" stroke="#ff9a00"/><polyline points="0.0,-67.2 44.0,-27.2 64.0,-49.2 82.0,-33.2 100.0,-49.2 143.0,-49.2 186.0,-49.2 204.0,-33.2 222.0,-49.2 242.0,-27.2 286.0,-67.2" stroke="#f6f000"/><polyline points="0.0,-61.4 44.0,-21.4 64.0,-43.4 82.0,-27.4 100.0,-43.4 143.0,-43.4 186.0,-43.4 204.0,-27.4 222.0,-43.4 242.0,-21.4 286.0,-61.4" stroke="#22d020"/><polyline points="0.0,-55.5 44.0,-15.5 64.0,-37.5 82.0,-21.5 100.0,-37.5 143.0,-37.5 186.0,-37.5 204.0,-21.5 222.0,-37.5 242.0,-15.5 286.0,-55.5" stroke="#00c8e8"/><polyline points="0.0,-49.6 44.0,-9.6 64.0,-31.6 82.0,-15.6 100.0,-31.6 143.0,-31.6 186.0,-31.6 204.0,-15.6 222.0,-31.6 242.0,-9.6 286.0,-49.6" stroke="#1030ff"/><polyline points="0.0,-43.8 44.0,-3.8 64.0,-25.8 82.0,-9.8 100.0,-25.8 143.0,-25.8 186.0,-25.8 204.0,-9.8 222.0,-25.8 242.0,-3.8 286.0,-43.8" stroke="#7a10d0"/><polyline points="0.0,-37.9 44.0,2.1 64.0,-19.9 82.0,-3.9 100.0,-19.9 143.0,-19.9 186.0,-19.9 204.0,-3.9 222.0,-19.9 242.0,2.1 286.0,-37.9" stroke="#e0105a"/><polyline points="0.0,-32.0 44.0,8.0 64.0,-14.0 82.0,2.0 100.0,-14.0 143.0,-14.0 186.0,-14.0 204.0,2.0 222.0,-14.0 242.0,8.0 286.0,-32.0" stroke="#ff1a00"/><polyline points="0.0,-26.1 44.0,13.9 64.0,-8.1 82.0,7.9 100.0,-8.1 143.0,-8.1 186.0,-8.1 204.0,7.9 222.0,-8.1 242.0,13.9 286.0,-26.1" stroke="#ff9a00"/><polyline points="0.0,-20.2 44.0,19.8 64.0,-2.2 82.0,13.8 100.0,-2.2 143.0,-2.2 186.0,-2.2 204.0,13.8 222.0,-2.2 242.0,19.8 286.0,-20.2" stroke="#f6f000"/><polyline points="0.0,-14.4 44.0,25.6 64.0,3.6 82.0,19.6 100.0,3.6 143.0,3.6 186.0,3.6 204.0,19.6 222.0,3.6 242.0,25.6 286.0,-14.4" stroke="#22d020"/><polyline points="0.0,-8.5 44.0,31.5 64.0,9.5 82.0,25.5 100.0,9.5 143.0,9.5 186.0,9.5 204.0,25.5 222.0,9.5 242.0,31.5 286.0,-8.5" stroke="#00c8e8"/><polyline points="0.0,-2.6 44.0,37.4 64.0,15.4 82.0,31.4 100.0,15.4 143.0,15.4 186.0,15.4 204.0,31.4 222.0,15.4 242.0,37.4 286.0,-2.6" stroke="#1030ff"/><polyline points="0.0,3.2 44.0,43.2 64.0,21.2 82.0,37.2 100.0,21.2 143.0,21.2 186.0,21.2 204.0,37.2 222.0,21.2 242.0,43.2 286.0,3.2" stroke="#7a10d0"/><polyline points="0.0,9.1 44.0,49.1 64.0,27.1 82.0,43.1 100.0,27.1 143.0,27.1 186.0,27.1 204.0,43.1 222.0,27.1 242.0,49.1 286.0,9.1" stroke="#e0105a"/><polyline points="0.0,15.0 44.0,55.0 64.0,33.0 82.0,49.0 100.0,33.0 143.0,33.0 186.0,33.0 204.0,49.0 222.0,33.0 242.0,55.0 286.0,15.0" stroke="#ff1a00"/><polyline points="0.0,20.9 44.0,60.9 64.0,38.9 82.0,54.9 100.0,38.9 143.0,38.9 186.0,38.9 204.0,54.9 222.0,38.9 242.0,60.9 286.0,20.9" stroke="#ff9a00"/><polyline points="0.0,26.8 44.0,66.8 64.0,44.8 82.0,60.8 100.0,44.8 143.0,44.8 186.0,44.8 204.0,60.8 222.0,44.8 242.0,66.8 286.0,26.8" stroke="#f6f000"/><polyline points="0.0,32.6 44.0,72.6 64.0,50.6 82.0,66.6 100.0,50.6 143.0,50.6 186.0,50.6 204.0,66.6 222.0,50.6 242.0,72.6 286.0,32.6" stroke="#22d020"/><polyline points="0.0,38.5 44.0,78.5 64.0,56.5 82.0,72.5 100.0,56.5 143.0,56.5 186.0,56.5 204.0,72.5 222.0,56.5 242.0,78.5 286.0,38.5" stroke="#00c8e8"/><polyline points="0.0,44.4 44.0,84.4 64.0,62.4 82.0,78.4 100.0,62.4 143.0,62.4 186.0,62.4 204.0,78.4 222.0,62.4 242.0,84.4 286.0,44.4" stroke="#1030ff"/><polyline points="0.0,50.2 44.0,90.2 64.0,68.2 82.0,84.2 100.0,68.2 143.0,68.2 186.0,68.2 204.0,84.2 222.0,68.2 242.0,90.2 286.0,50.2" stroke="#7a10d0"/><polyline points="0.0,56.1 44.0,96.1 64.0,74.1 82.0,90.1 100.0,74.1 143.0,74.1 186.0,74.1 204.0,90.1 222.0,74.1 242.0,96.1 286.0,56.1" stroke="#e0105a"/><polyline points="0.0,62.0 44.0,102.0 64.0,80.0 82.0,96.0 100.0,80.0 143.0,80.0 186.0,80.0 204.0,96.0 222.0,80.0 242.0,102.0 286.0,62.0" stroke="#ff1a00"/><polyline points="0.0,67.9 44.0,107.9 64.0,85.9 82.0,101.9 100.0,85.9 143.0,85.9 186.0,85.9 204.0,101.9 222.0,85.9 242.0,107.9 286.0,67.9" stroke="#ff9a00"/><polyline points="0.0,73.8 44.0,113.8 64.0,91.8 82.0,107.8 100.0,91.8 143.0,91.8 186.0,91.8 204.0,107.8 222.0,91.8 242.0,113.8 286.0,73.8" stroke="#f6f000"/><polyline points="0.0,79.6 44.0,119.6 64.0,97.6 82.0,113.6 100.0,97.6 143.0,97.6 186.0,97.6 204.0,113.6 222.0,97.6 242.0,119.6 286.0,79.6" stroke="#22d020"/><polyline points="0.0,85.5 44.0,125.5 64.0,103.5 82.0,119.5 100.0,103.5 143.0,103.5 186.0,103.5 204.0,119.5 222.0,103.5 242.0,125.5 286.0,85.5" stroke="#00c8e8"/><polyline points="0.0,91.4 44.0,131.4 64.0,109.4 82.0,125.4 100.0,109.4 143.0,109.4 186.0,109.4 204.0,125.4 222.0,109.4 242.0,131.4 286.0,91.4" stroke="#1030ff"/><polyline points="0.0,97.2 44.0,137.2 64.0,115.2 82.0,131.2 100.0,115.2 143.0,115.2 186.0,115.2 204.0,131.2 222.0,115.2 242.0,137.2 286.0,97.2" stroke="#7a10d0"/><polyline points="0.0,103.1 44.0,143.1 64.0,121.1 82.0,137.1 100.0,121.1 143.0,121.1 186.0,121.1 204.0,137.1 222.0,121.1 242.0,143.1 286.0,103.1" stroke="#e0105a"/><polyline points="0.0,109.0 44.0,149.0 64.0,127.0 82.0,143.0 100.0,127.0 143.0,127.0 186.0,127.0 204.0,143.0 222.0,127.0 242.0,149.0 286.0,109.0" stroke="#ff1a00"/><polyline points="0.0,114.9 44.0,154.9 64.0,132.9 82.0,148.9 100.0,132.9 143.0,132.9 186.0,132.9 204.0,148.9 222.0,132.9 242.0,154.9 286.0,114.9" stroke="#ff9a00"/><polyline points="0.0,120.8 44.0,160.8 64.0,138.8 82.0,154.8 100.0,138.8 143.0,138.8 186.0,138.8 204.0,154.8 222.0,138.8 242.0,160.8 286.0,120.8" stroke="#f6f000"/><polyline points="0.0,126.6 44.0,166.6 64.0,144.6 82.0,160.6 100.0,144.6 143.0,144.6 186.0,144.6 204.0,160.6 222.0,144.6 242.0,166.6 286.0,126.6" stroke="#22d020"/><polyline points="0.0,132.5 44.0,172.5 64.0,150.5 82.0,166.5 100.0,150.5 143.0,150.5 186.0,150.5 204.0,166.5 222.0,150.5 242.0,172.5 286.0,132.5" stroke="#00c8e8"/><polyline points="0.0,138.4 44.0,178.4 64.0,156.4 82.0,172.4 100.0,156.4 143.0,156.4 186.0,156.4 204.0,172.4 222.0,156.4 242.0,178.4 286.0,138.4" stroke="#1030ff"/><polyline points="0.0,144.2 44.0,184.2 64.0,162.2 82.0,178.2 100.0,162.2 143.0,162.2 186.0,162.2 204.0,178.2 222.0,162.2 242.0,184.2 286.0,144.2" stroke="#7a10d0"/><polyline points="0.0,150.1 44.0,190.1 64.0,168.1 82.0,184.1 100.0,168.1 143.0,168.1 186.0,168.1 204.0,184.1 222.0,168.1 242.0,190.1 286.0,150.1" stroke="#e0105a"/><polyline points="0.0,156.0 44.0,196.0 64.0,174.0 82.0,190.0 100.0,174.0 143.0,174.0 186.0,174.0 204.0,190.0 222.0,174.0 242.0,196.0 286.0,156.0" stroke="#ff1a00"/><polyline points="0.0,161.9 44.0,201.9 64.0,179.9 82.0,195.9 100.0,179.9 143.0,179.9 186.0,179.9 204.0,195.9 222.0,179.9 242.0,201.9 286.0,161.9" stroke="#ff9a00"/><polyline points="0.0,167.8 44.0,207.8 64.0,185.8 82.0,201.8 100.0,185.8 143.0,185.8 186.0,185.8 204.0,201.8 222.0,185.8 242.0,207.8 286.0,167.8" stroke="#f6f000"/><polyline points="0.0,173.6 44.0,213.6 64.0,191.6 82.0,207.6 100.0,191.6 143.0,191.6 186.0,191.6 204.0,207.6 222.0,191.6 242.0,213.6 286.0,173.6" stroke="#22d020"/><polyline points="0.0,179.5 44.0,219.5 64.0,197.5 82.0,213.5 100.0,197.5 143.0,197.5 186.0,197.5 204.0,213.5 222.0,197.5 242.0,219.5 286.0,179.5" stroke="#00c8e8"/><polyline points="0.0,185.4 44.0,225.4 64.0,203.4 82.0,219.4 100.0,203.4 143.0,203.4 186.0,203.4 204.0,219.4 222.0,203.4 242.0,225.4 286.0,185.4" stroke="#1030ff"/><polyline points="0.0,191.2 44.0,231.2 64.0,209.2 82.0,225.2 100.0,209.2 143.0,209.2 186.0,209.2 204.0,225.2 222.0,209.2 242.0,231.2 286.0,191.2" stroke="#7a10d0"/><polyline points="0.0,197.1 44.0,237.1 64.0,215.1 82.0,231.1 100.0,215.1 143.0,215.1 186.0,215.1 204.0,231.1 222.0,215.1 242.0,237.1 286.0,197.1" stroke="#e0105a"/><polyline points="0.0,203.0 44.0,243.0 64.0,221.0 82.0,237.0 100.0,221.0 143.0,221.0 186.0,221.0 204.0,237.0 222.0,221.0 242.0,243.0 286.0,203.0" stroke="#ff1a00"/><polyline points="0.0,208.9 44.0,248.9 64.0,226.9 82.0,242.9 100.0,226.9 143.0,226.9 186.0,226.9 204.0,242.9 222.0,226.9 242.0,248.9 286.0,208.9" stroke="#ff9a00"/><polyline points="0.0,214.8 44.0,254.8 64.0,232.8 82.0,248.8 100.0,232.8 143.0,232.8 186.0,232.8 204.0,248.8 222.0,232.8 242.0,254.8 286.0,214.8" stroke="#f6f000"/><polyline points="0.0,220.6 44.0,260.6 64.0,238.6 82.0,254.6 100.0,238.6 143.0,238.6 186.0,238.6 204.0,254.6 222.0,238.6 242.0,260.6 286.0,220.6" stroke="#22d020"/><polyline points="0.0,226.5 44.0,266.5 64.0,244.5 82.0,260.5 100.0,244.5 143.0,244.5 186.0,244.5 204.0,260.5 222.0,244.5 242.0,266.5 286.0,226.5" stroke="#00c8e8"/><polyline points="0.0,232.4 44.0,272.4 64.0,250.4 82.0,266.4 100.0,250.4 143.0,250.4 186.0,250.4 204.0,266.4 222.0,250.4 242.0,272.4 286.0,232.4" stroke="#1030ff"/><polyline points="0.0,238.2 44.0,278.2 64.0,256.2 82.0,272.2 100.0,256.2 143.0,256.2 186.0,256.2 204.0,272.2 222.0,256.2 242.0,278.2 286.0,238.2" stroke="#7a10d0"/><polyline points="0.0,244.1 44.0,284.1 64.0,262.1 82.0,278.1 100.0,262.1 143.0,262.1 186.0,262.1 204.0,278.1 222.0,262.1 242.0,284.1 286.0,244.1" stroke="#e0105a"/><polyline points="0.0,250.0 44.0,290.0 64.0,268.0 82.0,284.0 100.0,268.0 143.0,268.0 186.0,268.0 204.0,284.0 222.0,268.0 242.0,290.0 286.0,250.0" stroke="#ff1a00"/><polyline points="0.0,255.9 44.0,295.9 64.0,273.9 82.0,289.9 100.0,273.9 143.0,273.9 186.0,273.9 204.0,289.9 222.0,273.9 242.0,295.9 286.0,255.9" stroke="#ff9a00"/><polyline points="0.0,261.8 44.0,301.8 64.0,279.8 82.0,295.8 100.0,279.8 143.0,279.8 186.0,279.8 204.0,295.8 222.0,279.8 242.0,301.8 286.0,261.8" stroke="#f6f000"/><polyline points="0.0,267.6 44.0,307.6 64.0,285.6 82.0,301.6 100.0,285.6 143.0,285.6 186.0,285.6 204.0,301.6 222.0,285.6 242.0,307.6 286.0,267.6" stroke="#22d020"/><polyline points="0.0,273.5 44.0,313.5 64.0,291.5 82.0,307.5 100.0,291.5 143.0,291.5 186.0,291.5 204.0,307.5 222.0,291.5 242.0,313.5 286.0,273.5" stroke="#00c8e8"/><polyline points="0.0,279.4 44.0,319.4 64.0,297.4 82.0,313.4 100.0,297.4 143.0,297.4 186.0,297.4 204.0,313.4 222.0,297.4 242.0,319.4 286.0,279.4" stroke="#1030ff"/><polyline points="0.0,285.2 44.0,325.2 64.0,303.2 82.0,319.2 100.0,303.2 143.0,303.2 186.0,303.2 204.0,319.2 222.0,303.2 242.0,325.2 286.0,285.2" stroke="#7a10d0"/><polyline points="0.0,291.1 44.0,331.1 64.0,309.1 82.0,325.1 100.0,309.1 143.0,309.1 186.0,309.1 204.0,325.1 222.0,309.1 242.0,331.1 286.0,291.1" stroke="#e0105a"/><polyline points="0.0,297.0 44.0,337.0 64.0,315.0 82.0,331.0 100.0,315.0 143.0,315.0 186.0,315.0 204.0,331.0 222.0,315.0 242.0,337.0 286.0,297.0" stroke="#ff1a00"/><polyline points="0.0,302.9 44.0,342.9 64.0,320.9 82.0,336.9 100.0,320.9 143.0,320.9 186.0,320.9 204.0,336.9 222.0,320.9 242.0,342.9 286.0,302.9" stroke="#ff9a00"/><polyline points="0.0,308.8 44.0,348.8 64.0,326.8 82.0,342.8 100.0,326.8 143.0,326.8 186.0,326.8 204.0,342.8 222.0,326.8 242.0,348.8 286.0,308.8" stroke="#f6f000"/><polyline points="0.0,314.6 44.0,354.6 64.0,332.6 82.0,348.6 100.0,332.6 143.0,332.6 186.0,332.6 204.0,348.6 222.0,332.6 242.0,354.6 286.0,314.6" stroke="#22d020"/><polyline points="0.0,320.5 44.0,360.5 64.0,338.5 82.0,354.5 100.0,338.5 143.0,338.5 186.0,338.5 204.0,354.5 222.0,338.5 242.0,360.5 286.0,320.5" stroke="#00c8e8"/><polyline points="0.0,326.4 44.0,366.4 64.0,344.4 82.0,360.4 100.0,344.4 143.0,344.4 186.0,344.4 204.0,360.4 222.0,344.4 242.0,366.4 286.0,326.4" stroke="#1030ff"/><polyline points="0.0,332.2 44.0,372.2 64.0,350.2 82.0,366.2 100.0,350.2 143.0,350.2 186.0,350.2 204.0,366.2 222.0,350.2 242.0,372.2 286.0,332.2" stroke="#7a10d0"/><polyline points="0.0,338.1 44.0,378.1 64.0,356.1 82.0,372.1 100.0,356.1 143.0,356.1 186.0,356.1 204.0,372.1 222.0,356.1 242.0,378.1 286.0,338.1" stroke="#e0105a"/></g></g></g></g><polygon points="94,99 108.2,99 108.6,104 110,118 113,140 116,165 117,296 91,296" fill="url(#bside)"/><polygon points="191.5,99.5 177.2,99.5 176.8,104 175.5,118 172.5,140 170,165 169,296 195.5,296" fill="url(#bside)"/><polygon points="108.5,112 111,118 116.5,200 117,296 110,296 106,200" fill="#3d3222" opacity="0.55"/><polygon points="177,112 174.5,118 169.5,200 169,296 176,296 180,200" fill="#3d3222" opacity="0.55"/><rect x="94" y="103" width="13" height="2.2" fill="#3a2f1e" opacity="0.7"/><rect x="178.5" y="103" width="13" height="2.2" fill="#3a2f1e" opacity="0.7"/><rect x="94" y="110" width="13" height="2.2" fill="#3a2f1e" opacity="0.7"/><rect x="178.5" y="110" width="13" height="2.2" fill="#3a2f1e" opacity="0.7"/><rect x="94" y="121" width="13" height="2.2" fill="#3a2f1e" opacity="0.7"/><rect x="178.5" y="121" width="13" height="2.2" fill="#3a2f1e" opacity="0.7"/><rect x="94" y="134" width="13" height="2.2" fill="#3a2f1e" opacity="0.7"/><rect x="178.5" y="134" width="13" height="2.2" fill="#3a2f1e" opacity="0.7"/><rect x="94" y="150" width="13" height="2.2" fill="#3a2f1e" opacity="0.7"/><rect x="178.5" y="150" width="13" height="2.2" fill="#3a2f1e" opacity="0.7"/><rect x="94" y="166" width="13" height="2.2" fill="#3a2f1e" opacity="0.7"/><rect x="178.5" y="166" width="13" height="2.2" fill="#3a2f1e" opacity="0.7"/><path d="M123 149 Q143 128 163 149z" fill="#dfe3e2"/><path d="M142.6 118v14" stroke="#3a352c" stroke-width="0.9"/><rect x="139.5" y="132" width="6.5" height="2" fill="#2a2620"/><polygon points="115.3,148 170.2,148 170,296 116.5,296" fill="url(#bmain)"/><rect x="117.5" y="154" width="51" height="74" fill="url(#bwin)"/><rect x="133" y="228" width="19" height="68" fill="#2e281e" opacity="0.85"/><rect x="116" y="228" width="15" height="14" fill="#ece8d8"/><rect x="155.5" y="228" width="15" height="14" fill="#ece8d8"/><rect x="118" y="246" width="13" height="50" fill="url(#bwin)" opacity="0.9"/><rect x="156" y="246" width="13" height="50" fill="url(#bwin)" opacity="0.9"/><rect x="133" y="234" width="19" height="62" fill="url(#bwin)" opacity="0.5"/><polygon points="94,99 108.2,99 110,118 113,140 116,165 117,296 91,296" fill="url(#ckS2)" opacity="0.3"/><polygon points="191.5,99.5 177.2,99.5 175.5,118 172.5,140 170,165 169,296 195.5,296" fill="url(#ckS2)" opacity="0.3"/><polygon points="94,99 108.2,99 110,118 113,140 116,165 117,296 91,296" fill="#15110e" opacity="0.35"/><polygon points="191.5,99.5 177.2,99.5 175.5,118 172.5,140 170,165 169,296 195.5,296" fill="#15110e" opacity="0.35"/><rect x="115" y="146" width="56" height="96" fill="url(#ckP)" opacity="0.5"/><rect x="115" y="242" width="56" height="54" fill="url(#ckS2)" opacity="0.3"/><rect x="91" y="236" width="105" height="60" fill="#15110e" opacity="0.35"/><rect x="115" y="146" width="56" height="96" fill="#4a5068" opacity="0.22"/><g clip-path="url(#bLR)"><polygon points="61.0,-9.0 99.0,-9.0 99.0,0.0 95.0,100.0 91.7,286.0 91.7,295.0 51.2,295.0 51.2,286.0 55.6,100.0 61.0,0.0" fill="url(#bfade2)"/><polygon points="187.0,-9.0 225.0,-9.0 225.0,0.0 232.4,100.0 238.5,286.0 238.5,295.0 192.3,295.0 192.3,286.0 189.9,100.0 187.0,0.0" fill="url(#bfade2)"/></g><polygon points="-9,-9 98,-9 98,0 94,100 91,286 91,295 -9,295" fill="url(#bfade)"/><polygon points="188,-9 295,-9 295,295 195.5,295 195.5,286 191.5,100 188,0" fill="url(#bfade)"/></g></g>
<g transform="translate(155.5,1212.0)" clip-path="url(#zclip)"><rect x="-9" y="-9" width="304" height="304" fill="url(#zwall)"/><g filter="url(#zb3)"><rect x="-20" y="176" width="326" height="140" fill="url(#zgnd)"/></g><g filter="url(#zb2)"><rect x="-9" y="-9" width="14" height="189" fill="#5e4237"/><rect x="7" y="-9" width="11" height="44" fill="#1d1518"/><rect x="7" y="35" width="12" height="145" fill="#5b4036"/><rect x="21" y="-9" width="26" height="189" fill="#4f3b33"/><rect x="30" y="-9" width="6" height="189" fill="#5a4439"/><rect x="-9" y="110" width="29" height="70" fill="#39302c" opacity="0.8"/><rect x="-9" y="-9" width="304" height="11.2" fill="#0e0d10"/><rect x="46" y="-9" width="138" height="28" fill="#17161b"/><rect x="46" y="19" width="138" height="7" fill="#3a3130" opacity="0.8"/><rect x="128" y="-9" width="9" height="33" fill="#8a7a66"/><rect x="184" y="-9" width="112" height="134" fill="#5c4f46"/><rect x="186" y="-9" width="9" height="134" fill="#6e6153"/><rect x="199" y="-9" width="6" height="134" fill="#77695b"/><rect x="211" y="-9" width="9" height="134" fill="#6a5c50"/><rect x="224" y="-9" width="7" height="134" fill="#786a5c"/><rect x="237" y="-9" width="8" height="134" fill="#6b5d50"/><rect x="249" y="-9" width="7" height="134" fill="#7a6c5d"/><rect x="262" y="-9" width="8" height="134" fill="#6d5f52"/><rect x="274" y="-9" width="7" height="134" fill="#7b6d5e"/><rect x="286" y="-9" width="8" height="134" fill="#6d5f52"/><rect x="196" y="-9" width="2.5" height="134" fill="#43372f"/><rect x="208" y="-9" width="2.5" height="134" fill="#43372f"/><rect x="221" y="-9" width="2.5" height="134" fill="#43372f"/><rect x="233" y="-9" width="2.5" height="134" fill="#43372f"/><rect x="246" y="-9" width="2.5" height="134" fill="#43372f"/><rect x="258" y="-9" width="2.5" height="134" fill="#43372f"/><rect x="271" y="-9" width="2.5" height="134" fill="#43372f"/><rect x="283" y="-9" width="2.5" height="134" fill="#43372f"/><rect x="295" y="-9" width="2.5" height="134" fill="#43372f"/></g><g filter="url(#zb05)"><path d="M32.0 71.0L25.0 102.0L15.0 133.0L8.0 160.0L1.3 181.0L0.0 194.0L0.0 214.0L5.0 242.0L19.0 253.5L32.0 251.0L40.7 242.0L42.0 232.0L57.0 214.0L89.0 181.0L100.0 178.6L112.0 181.0L127.0 199.0L143.0 219.0L147.6 245.0L155.0 270.0L167.0 297.0L297.0 297.0L297.0 113.0L269.6 114.4L244.2 110.5L218.7 100.4L208.6 89.0L195.9 71.0L180.6 57.0L161.6 44.5L142.5 36.0L127.0 26.0L102.0 21.0L76.0 20.0L51.0 28.0L38.0 42.0Z" fill="#16141a"/><g clip-path="url(#zbody)"><g fill="none" stroke-linecap="butt" stroke-linejoin="round"><path d="M121.3 32.0C119.0 36.0 118.3 36.0 114.5 44.0C110.7 52.0 112.3 48.0 109.9 56.0C107.5 64.0 109.0 60.0 107.3 68.0C105.5 76.0 106.5 63.7 104.6 80.0C102.7 96.4 102.9 97.7 101.6 117.0C100.3 136.3 101.1 128.3 100.6 138.0C100.1 147.7 100.5 140.7 100.2 146.0C100.0 151.3 100.0 151.3 99.9 154.0" stroke="#e9e6e2" stroke-width="2.9"/><path d="M130.2 32.5C127.9 36.5 127.2 36.5 123.4 44.5C119.6 52.5 121.2 48.5 118.8 56.5C116.4 64.5 117.9 60.5 116.1 68.5C114.3 76.5 115.4 64.3 113.4 80.5C111.4 96.8 111.6 98.1 110.2 117.3C108.7 136.4 109.6 128.4 109.1 138.0C108.6 147.6 109.0 140.7 108.8 146.0C108.5 151.3 108.6 148.7 108.4 154.0C108.2 159.3 108.3 156.7 108.1 162.0C107.8 167.3 107.9 164.7 107.7 170.0C107.5 175.3 107.6 172.7 107.4 178.0C107.1 183.3 107.1 183.3 107.0 186.0" stroke="#e9e6e2" stroke-width="2.9"/><path d="M136.1 36.9C134.0 40.9 133.1 40.9 129.7 48.9C126.4 56.9 128.2 52.9 126.0 60.9C123.9 68.9 124.8 66.3 123.3 72.9C121.8 79.6 123.3 66.1 121.5 80.9C119.7 95.8 119.5 98.4 117.8 117.5C116.2 136.5 117.1 128.5 116.6 138.0C116.1 147.5 116.5 140.7 116.2 146.0C116.0 151.3 116.1 148.7 115.9 154.0C115.7 159.3 115.8 156.7 115.6 162.0C115.3 167.3 115.4 164.7 115.2 170.0C115.0 175.3 115.1 172.7 114.9 178.0C114.6 183.3 114.6 183.3 114.5 186.0" stroke="#e9e6e2" stroke-width="2.9"/><path d="M146.0 37.4C143.8 41.4 142.9 41.4 139.6 49.4C136.2 57.4 138.0 53.4 135.8 61.4C133.6 69.4 134.6 66.8 133.0 73.4C131.5 80.1 133.2 66.7 131.2 81.4C129.2 96.2 128.9 98.9 127.0 117.7C125.1 136.6 126.2 128.6 125.6 138.0C125.0 147.4 125.5 140.7 125.2 146.0C125.0 151.3 125.1 148.7 124.9 154.0C124.7 159.3 124.8 156.7 124.6 162.0C124.3 167.3 124.4 164.7 124.2 170.0C124.0 175.3 124.1 172.7 123.9 178.0C123.6 183.3 123.7 180.7 123.5 186.0C123.3 191.3 123.4 188.7 123.2 194.0C122.9 199.3 122.9 199.3 122.8 202.0" stroke="#e9e6e2" stroke-width="2.9"/><path d="M157.1 38.0C155.0 42.0 154.1 42.0 150.7 50.0C147.3 58.0 149.1 54.0 146.9 62.0C144.7 70.0 145.6 67.3 144.1 74.0C142.5 80.7 144.4 67.3 142.2 82.0C140.0 96.7 139.5 99.3 137.4 118.0C135.3 136.7 136.4 128.7 135.8 138.0C135.2 147.3 135.7 140.7 135.5 146.0C135.2 151.3 135.3 148.7 135.1 154.0C134.9 159.3 135.0 156.7 134.8 162.0C134.5 167.3 134.6 164.7 134.4 170.0C134.2 175.3 134.3 172.7 134.1 178.0C133.8 183.3 133.9 180.7 133.7 186.0C133.5 191.3 133.6 188.7 133.4 194.0C133.1 199.3 133.2 196.7 133.0 202.0C132.8 207.3 132.8 207.3 132.7 210.0" stroke="#e9e6e2" stroke-width="2.9"/><path d="M166.5 41.6C164.4 45.6 163.5 45.6 160.0 53.6C156.6 61.6 158.4 57.6 156.2 65.6C153.9 73.6 154.9 70.9 153.3 77.6C151.7 84.3 153.2 71.5 151.4 85.6C149.6 99.7 149.5 102.3 147.9 119.8C146.4 137.3 147.5 127.1 146.8 138.0C146.1 148.9 146.8 143.8 145.8 152.6C144.8 161.5 145.7 158.0 143.8 164.6C141.9 171.3 142.6 167.3 140.1 172.6C137.7 178.0 138.9 175.3 136.4 180.6C134.0 186.0 135.2 183.3 132.8 188.6C130.3 194.0 131.5 191.3 129.1 196.6C126.6 202.0 126.6 202.0 125.4 204.6" stroke="#e9e6e2" stroke-width="2.9"/><path d="M173.2 49.2C171.3 53.2 170.4 53.2 167.4 61.2C164.3 69.2 166.2 65.2 164.1 73.2C162.0 81.2 162.5 79.8 161.2 85.2C159.9 90.5 161.2 77.0 160.2 89.2C159.2 101.3 159.0 105.3 158.1 121.6C157.2 137.9 158.0 125.7 157.4 138.0C156.8 150.3 157.4 147.6 156.4 158.5C155.4 169.3 156.3 163.8 154.4 170.5C152.5 177.1 153.2 173.1 150.7 178.5C148.3 183.8 149.5 181.1 147.0 186.5C144.6 191.8 145.8 189.1 143.4 194.5C140.9 199.8 142.1 197.1 139.7 202.5C137.2 207.8 138.5 205.1 136.0 210.5C133.5 215.8 133.5 215.8 132.3 218.5" stroke="#e9e6e2" stroke-width="2.9"/><path d="M181.8 52.5C179.8 56.5 179.0 56.5 175.9 64.5C172.8 72.5 174.7 68.5 172.6 76.5C170.5 84.5 170.9 83.2 169.6 88.5C168.3 93.9 169.2 81.0 168.6 92.5C168.0 104.1 168.1 108.1 167.8 123.3C167.4 138.4 167.9 124.4 167.5 138.0C167.1 151.6 167.5 151.3 166.5 164.0C165.5 176.7 166.4 169.4 164.5 176.0C162.6 182.7 163.3 178.7 160.8 184.0C158.4 189.4 159.6 186.7 157.1 192.0C154.7 197.4 155.9 194.7 153.5 200.0C151.0 205.4 152.2 202.7 149.8 208.0C147.3 213.4 148.6 210.7 146.1 216.0C143.6 221.4 143.6 221.4 142.4 224.0" stroke="#e9e6e2" stroke-width="2.9"/><path d="M190.6 60.2C188.6 64.2 188.0 64.2 184.5 72.2C181.1 80.2 183.1 76.2 180.3 84.2C177.4 92.2 177.2 82.5 176.0 96.2C174.8 109.8 176.4 111.1 176.8 125.1C177.1 139.0 177.3 123.3 177.0 138.0C176.7 152.7 177.0 154.8 176.0 169.2C175.0 183.7 175.9 174.6 174.0 181.2C172.1 187.9 172.8 183.9 170.3 189.2C167.9 194.6 169.1 191.9 166.6 197.2C164.2 202.6 165.4 199.9 163.0 205.2C160.5 210.6 161.7 207.9 159.3 213.2C156.8 218.6 158.1 215.9 155.6 221.2C153.1 226.6 154.4 223.9 151.9 229.2C149.5 234.6 150.7 231.9 148.2 237.2C145.8 242.6 145.8 242.6 144.6 245.2" stroke="#e9e6e2" stroke-width="2.9"/><path d="M196.8 71.8C194.9 75.8 194.8 75.8 190.9 83.8C187.1 91.8 187.8 90.5 185.3 95.8C182.9 101.2 183.3 89.5 183.5 99.8C183.6 110.2 184.8 114.2 185.8 126.9C186.9 139.6 186.7 122.1 186.6 138.0C186.5 153.9 186.6 158.4 185.6 174.5C184.6 190.7 185.5 179.9 183.6 186.5C181.7 193.2 182.4 189.2 179.9 194.5C177.5 199.9 178.7 197.2 176.2 202.5C173.8 207.9 175.0 205.2 172.6 210.5C170.1 215.9 171.3 213.2 168.9 218.5C166.4 223.9 167.7 221.2 165.2 226.5C162.7 231.9 164.0 229.2 161.5 234.5C159.1 239.9 160.3 237.2 157.8 242.5C155.4 247.9 156.6 245.2 154.2 250.5C151.7 255.9 151.7 255.9 150.5 258.5" stroke="#e9e6e2" stroke-width="2.9"/><path d="M204.2 76.8C202.1 80.8 202.1 80.8 198.1 88.8C194.1 96.8 193.3 88.0 192.1 100.8C190.9 113.7 193.4 115.0 194.5 127.4C195.6 139.8 192.4 117.8 195.3 138.0C198.2 158.2 198.0 154.7 203.3 188.0C208.6 221.3 205.4 201.3 211.3 238.0C217.2 274.7 217.7 278.0 220.9 298.0" stroke="#e9e6e2" stroke-width="2.7"/><path d="M208.6 85.6C206.5 89.6 205.1 92.3 202.2 97.6C199.4 103.0 200.0 91.6 200.1 101.6C200.2 111.7 201.4 115.7 202.5 127.8C203.6 139.9 200.4 117.9 203.3 138.0C206.2 158.1 206.0 154.7 211.3 188.0C216.6 221.3 213.4 201.3 219.3 238.0C225.2 274.7 225.7 278.0 228.9 298.0" stroke="#e9e6e2" stroke-width="2.7"/><path d="M214.5 90.6C212.3 94.6 209.2 90.0 207.8 102.6C206.4 115.2 209.1 116.5 210.2 128.3C211.3 140.1 208.1 118.1 211.0 138.0C213.9 157.9 213.7 154.7 219.0 188.0C224.3 221.3 221.1 201.3 227.0 238.0C232.9 274.7 233.4 278.0 236.6 298.0" stroke="#e9e6e2" stroke-width="2.7"/><path d="M221.3 97.2C219.8 99.8 217.5 94.3 216.8 105.2C216.1 116.0 218.1 118.6 219.2 129.6C220.3 140.5 217.1 118.5 220.0 138.0C222.9 157.5 222.7 154.7 228.0 188.0C233.3 221.3 230.1 201.3 236.0 238.0C241.9 274.7 242.4 278.0 245.6 298.0" stroke="#e9e6e2" stroke-width="2.7"/><path d="M230.3 99.7C228.7 102.4 226.4 97.3 225.7 107.7C225.0 118.1 227.0 120.7 228.1 130.8C229.2 140.9 226.0 118.9 228.9 138.0C231.8 157.1 231.6 154.7 236.9 188.0C242.2 221.3 239.0 201.3 244.9 238.0C250.8 274.7 251.3 278.0 254.5 298.0" stroke="#e9e6e2" stroke-width="2.7"/><path d="M236.3 105.0C235.5 106.3 234.0 100.1 234.0 109.0C234.0 117.8 235.3 121.8 236.4 131.5C237.5 141.2 234.3 119.2 237.2 138.0C240.1 156.8 239.9 154.7 245.2 188.0C250.5 221.3 247.3 201.3 253.2 238.0C259.1 274.7 259.6 278.0 262.8 298.0" stroke="#e9e6e2" stroke-width="2.7"/><path d="M245.8 106.2C245.0 107.6 243.5 101.6 243.5 110.2C243.5 118.9 244.8 122.9 245.9 132.1C247.0 141.4 244.0 119.4 246.7 138.0C249.4 156.6 249.2 154.7 254.1 188.0C259.0 221.3 256.1 201.3 261.5 238.0C266.9 274.7 267.4 278.0 270.3 298.0" stroke="#e9e6e2" stroke-width="2.7"/><path d="M256.0 107.6C255.3 108.9 253.7 103.2 253.7 111.6C253.7 120.0 255.0 124.0 256.1 132.8C257.2 141.6 254.6 119.6 256.9 138.0C259.2 156.4 258.9 154.7 262.9 188.0C267.0 221.3 264.6 201.3 269.0 238.0C273.4 274.7 273.8 278.0 276.3 298.0" stroke="#e9e6e2" stroke-width="2.7"/><path d="M265.6 108.9C264.8 110.2 263.2 104.7 263.2 112.9C263.2 121.0 264.5 125.0 265.6 133.4C266.7 141.8 264.5 119.8 266.4 138.0C268.3 156.2 268.0 154.7 271.2 188.0C274.4 221.3 272.5 201.3 276.0 238.0C279.5 274.7 279.9 278.0 281.8 298.0" stroke="#e9e6e2" stroke-width="2.7"/><path d="M275.8 110.2C275.0 111.5 273.4 106.2 273.4 114.2C273.4 122.2 274.7 126.2 275.8 134.1C276.9 142.0 275.2 120.0 276.6 138.0C278.0 156.0 277.8 154.7 280.1 188.0C282.4 221.3 281.0 201.3 283.5 238.0C286.1 274.7 286.3 278.0 287.7 298.0" stroke="#e9e6e2" stroke-width="2.7"/><path d="M285.1 107.1C283.5 109.8 281.1 106.0 280.3 115.1C279.5 124.3 281.6 126.9 282.7 134.6C283.8 142.2 282.4 120.2 283.5 138.0C284.6 155.8 284.4 154.7 286.1 188.0C287.8 221.3 286.7 201.3 288.6 238.0C290.5 274.7 290.7 278.0 291.7 298.0" stroke="#e9e6e2" stroke-width="2.7"/><path d="M191.0 176.0L187.5 184.0L184.0 192.0L180.4 200.0L176.9 208.0L173.4 216.0L169.9 224.0L166.4 232.0L162.8 240.0L159.3 248.0L155.8 256.0L152.3 264.0L148.8 272.0" stroke="#d8d4cc" stroke-width="2.1"/><path d="M192.4 183.6L188.9 191.6L185.4 199.6L181.9 207.6L178.4 215.6L174.8 223.6L171.3 231.6L167.8 239.6L164.3 247.6L160.8 255.6L157.2 263.6L153.7 271.6" stroke="#d8d4cc" stroke-width="2.1"/><path d="M193.9 191.2L190.4 199.2L186.9 207.2L183.3 215.2L179.8 223.2L176.3 231.2L172.8 239.2L169.3 247.2L165.7 255.2L162.2 263.2L158.7 271.2L155.2 279.2" stroke="#d8d4cc" stroke-width="2.1"/><path d="M195.3 198.8L191.8 206.8L188.3 214.8L184.8 222.8L181.3 230.8L177.7 238.8L174.2 246.8L170.7 254.8L167.2 262.8L163.7 270.8L160.1 278.8L156.6 286.8" stroke="#d8d4cc" stroke-width="2.1"/><path d="M196.8 206.4L193.3 214.4L189.8 222.4L186.2 230.4L182.7 238.4L179.2 246.4L175.7 254.4L172.2 262.4L168.6 270.4L165.1 278.4L161.6 286.4" stroke="#d8d4cc" stroke-width="2.1"/><path d="M198.2 214.0L194.7 222.0L191.2 230.0L187.7 238.0L184.2 246.0L180.6 254.0L177.1 262.0L173.6 270.0L170.1 278.0L166.6 286.0L163.0 294.0L159.5 302.0" stroke="#d8d4cc" stroke-width="2.1"/><path d="M199.7 221.6L196.2 229.6L192.7 237.6L189.1 245.6L185.6 253.6L182.1 261.6L178.6 269.6L175.1 277.6L171.5 285.6L168.0 293.6L164.5 301.6" stroke="#d8d4cc" stroke-width="2.1"/><path d="M201.2 229.2L197.6 237.2L194.1 245.2L190.6 253.2L187.1 261.2L183.5 269.2L180.0 277.2L176.5 285.2L173.0 293.2L169.5 301.2" stroke="#d8d4cc" stroke-width="2.1"/><path d="M202.6 236.8L199.1 244.8L195.6 252.8L192.0 260.8L188.5 268.8L185.0 276.8L181.5 284.8L178.0 292.8L174.4 300.8" stroke="#d8d4cc" stroke-width="2.1"/><path d="M204.1 244.4L200.5 252.4L197.0 260.4L193.5 268.4L190.0 276.4L186.4 284.4L182.9 292.4L179.4 300.4" stroke="#d8d4cc" stroke-width="2.1"/><path d="M205.5 252.0L202.0 260.0L198.5 268.0L194.9 276.0L191.4 284.0L187.9 292.0L184.4 300.0L180.9 308.0" stroke="#d8d4cc" stroke-width="2.1"/><path d="M206.9 259.6L203.4 267.6L199.9 275.6L196.4 283.6L192.9 291.6L189.3 299.6L185.8 307.6" stroke="#d8d4cc" stroke-width="2.1"/><path d="M208.4 267.2L204.9 275.2L201.4 283.2L197.8 291.2L194.3 299.2L190.8 307.2" stroke="#d8d4cc" stroke-width="2.1"/></g><g fill="none" stroke="#dedad6" stroke-linejoin="round"><path d="M-3.3 186.3L2.7 180.7L8.7 174.9L14.7 169.0L20.7 163.0L26.7 156.8L32.7 150.5L38.7 144.0L44.7 137.4L50.7 130.7L56.7 135.8L62.7 140.9L68.7 146.0L74.7 151.1L80.7 156.2L86.7 161.3L92.7 166.4L98.7 171.5L104.7 176.6" stroke-width="3.1"/><path d="M-2.2 203.3L3.8 197.7L9.8 191.9L15.8 186.0L21.8 180.0L27.8 173.8L33.8 167.5L39.8 161.0L45.8 154.4L51.8 147.7L57.8 152.8L63.8 157.9L69.8 163.0L75.8 168.1L81.8 173.2L87.8 178.3L93.8 183.4" stroke-width="3.1"/><path d="M-3.0 216.1L3.0 210.5L9.0 204.7L15.0 198.8L21.0 192.8L27.0 186.6L33.0 180.3L39.0 173.8L45.0 167.2L51.0 160.5L57.0 165.6L63.0 170.7L69.0 175.8L75.0 180.9L81.0 186.0L87.0 191.1" stroke-width="3.1"/><path d="M-7.0 233.2L-1.0 227.6L5.0 222.0L11.0 216.2L17.0 210.3L23.0 204.3L29.0 198.1L35.0 191.8L41.0 185.3L47.0 178.7L53.0 172.0L59.0 177.1L65.0 182.2L71.0 187.3L77.0 192.4L83.0 197.5" stroke-width="3.1"/><path d="M1.5 239.1L7.5 233.5L13.5 227.7L19.5 221.8L25.5 215.8L31.5 209.6L37.5 203.3L43.5 196.8L49.5 190.2L55.5 183.5L61.5 188.6L67.5 193.7L73.5 198.8L79.5 203.9" stroke-width="3.1"/><path d="M14.0 238.2L20.0 232.3L26.0 226.3L32.0 220.1L38.0 213.8L44.0 207.3L50.0 200.7L56.0 194.0L62.0 199.1L68.0 204.2L74.0 209.3" stroke-width="3.1"/><path d="M24.0 235.8L30.0 229.6L36.0 223.3L42.0 216.8L48.0 210.2L54.0 203.5L60.0 208.6L66.0 213.7" stroke-width="2.6"/><path d="M26.0 238.1L32.0 231.8L38.0 225.3L44.0 218.7L50.0 212.0L56.0 217.1L62.0 222.2" stroke-width="2.6"/><path d="M57.0 101.0C57.7 105.7 56.0 104.3 59.0 115.0C62.0 125.7 59.7 121.7 66.0 133.0C72.3 144.3 69.7 139.0 78.0 149.0C86.3 159.0 86.7 158.3 91.0 163.0" stroke-width="2.8"/><path d="M64.2 98.5C64.9 103.2 63.2 101.8 66.2 112.5C69.2 123.2 67.0 119.7 73.2 130.5C79.4 141.3 77.1 136.2 84.7 145.0C92.3 153.8 92.2 153.0 96.0 157.0" stroke-width="2.8"/><path d="M71.4 90.0C72.1 96.7 70.4 97.3 73.4 110.0C76.4 122.7 74.4 117.7 80.4 128.0C86.4 138.3 84.5 133.3 91.4 141.0C98.3 148.7 97.8 147.7 101.0 151.0" stroke-width="2.8"/><path d="M78.6 87.5C79.3 94.2 77.6 94.8 80.6 107.5C83.6 120.2 81.8 115.7 87.6 125.5C93.4 135.3 92.0 130.5 98.1 137.0C104.2 143.5 103.4 142.3 106.0 145.0" stroke-width="2.8"/><path d="M85.8 85.0C86.5 91.7 84.8 92.3 87.8 105.0C90.8 117.7 89.1 113.7 94.8 123.0C100.5 132.3 99.4 127.7 104.8 133.0C110.2 138.3 108.9 137.0 111.0 139.0" stroke-width="2.8"/><path d="M93.0 82.5C93.7 89.2 92.0 89.8 95.0 102.5C98.0 115.2 96.5 111.7 102.0 120.5C107.5 129.3 106.8 124.8 111.5 129.0C116.2 133.2 114.5 131.7 116.0 133.0" stroke-width="2.8"/><path d="M36.0 74.0C34.3 82.3 35.0 82.3 31.0 99.0C27.0 115.7 27.3 113.0 24.0 124.0C20.7 135.0 22.0 129.3 21.0 132.0" stroke-width="1.9" stroke="#c9c6c6"/><path d="M41.2 72.5C39.5 80.8 39.9 80.8 36.2 97.5C32.5 114.2 32.8 111.3 30.0 122.5C27.2 133.7 28.5 128.2 27.7 131.0" stroke-width="1.9" stroke="#c9c6c6"/><path d="M46.4 71.0C44.7 79.3 44.9 79.3 41.4 96.0C37.9 112.7 38.3 109.7 36.0 121.0C33.7 132.3 34.9 127.0 34.4 130.0" stroke-width="1.9" stroke="#c9c6c6"/><path d="M51.6 69.5C49.9 77.8 49.8 77.8 46.6 94.5C43.4 111.2 43.8 108.0 42.0 119.5C40.2 131.0 41.4 125.8 41.1 129.0" stroke-width="1.9" stroke="#c9c6c6"/><path d="M56.8 68.0C55.1 76.3 54.7 76.3 51.8 93.0C48.9 109.7 49.3 106.3 48.0 118.0C46.7 129.7 47.9 124.7 47.8 128.0" stroke-width="1.9" stroke="#c9c6c6"/><path d="M62.0 66.5C60.3 74.8 59.7 74.8 57.0 91.5C54.3 108.2 54.8 104.7 54.0 116.5C53.2 128.3 54.3 123.5 54.5 127.0" stroke-width="1.9" stroke="#c9c6c6"/><path d="M22 140Q30 126 44 131" stroke-width="2.2"/><path d="M24 146Q33 150 46 136" stroke-width="2"/></g><ellipse cx="31.5" cy="136.5" rx="7" ry="4.2" fill="#1c1214" transform="rotate(-15 31.5 136.5)"/></g></g><g filter="url(#zb1)"><path d="M0 205L10 212 28 226 40 236 41 243 32 252 19 254.5 5 243 0 226Z" fill="#2a2120"/><path d="M0 196L14 214 30 222 22 200 8 188Z" fill="#7f7f8c" opacity="0.75"/></g><g filter="url(#zb05)"><path d="M76 64Q84 52 104 53Q113 56 108 68Q100 86 84 91Q80 80 76 64Z" fill="#2a2421"/><path d="M84 66Q92 56 104 57Q108 60 104 69Q98 82 88 86Q86 76 84 66Z" fill="#8d8a78"/><path d="M53 78Q60 64 78 63L86 88Q76 98 62 98Q54 92 53 78Z" fill="#a9a39b"/><path d="M62 82Q70 76 80 84Q74 92 64 90Z" fill="#b59f92" opacity="0.8"/></g><g filter="url(#zb3)" opacity="0.96"><path d="M20 80Q22 60 32 46Q46 28 76 21Q105 18 143 32L150 40 118 40 92 48 70 58 48 62 34 74Z" fill="#1e1717"/><path d="M143 24L183 42 210 58 220 78 236 96 259 105 290 104 290 118 250 116 220 106 204 92 190 74 174 60 150 48 120 44 Z" fill="#332826"/></g><g filter="url(#zb1)" opacity="0.55"><path d="M100 22l6 22M112 23l6 20M124 25l7 18M136 29l8 16M150 36l9 12M164 43l9 12" stroke="#b9b0a8" stroke-width="2.2"/></g><g filter="url(#zb1)"><path d="M24.2 79.5l-4.9 -19.0M25.3 77.5l-7.6 -23.1M26.4 75.1l-9.6 -23.3M27.9 72.2l-8.0 -20.2M29.1 69.8l-11.4 -29.3M30.3 67.8l-5.5 -29.8M32.7 65.8l-5.1 -29.3M34.1 64.8l-12.2 -35.2M36.2 63.1l-9.4 -27.3M39.0 60.8l-8.5 -30.9M40.9 59.6l-9.8 -34.6M42.5 59.0l-10.7 -29.0M45.8 57.6l-11.9 -34.9M48.0 56.6l-12.2 -35.2M50.7 55.5l-13.9 -38.8M53.0 54.7l-7.6 -37.6M56.0 53.6l-6.0 -34.1M57.8 52.9l-8.2 -35.8M60.7 51.9l-12.2 -29.7M64.3 50.6l-9.6 -34.6M67.7 49.6l-7.1 -28.9M70.3 48.9l-9.8 -31.9M74.0 48.0l-11.1 -36.7M76.9 47.3l-6.3 -25.6M80.0 46.5l-8.2 -38.1M82.6 45.8l-7.5 -29.8M85.6 45.0l-11.2 -29.7M89.5 43.9l-5.8 -25.6M93.1 42.9l-8.9 -27.5M98.3 41.5l-7.8 -25.4M101.3 40.7l-7.9 -36.7M106.1 39.8l-8.8 -27.9M108.9 39.2l-6.7 -36.9M112.4 38.5l-6.1 -17.0M116.6 37.7l-5.5 -20.0M120.6 37.1l4.4 -15.9M124.9 37.7l8.6 -19.7M129.7 38.4l6.7 -19.9M133.6 39.0l6.6 -15.7M137.9 39.7l8.8 -22.5M140.8 40.3l3.6 -19.7M145.0 41.7l2.9 -16.8M147.7 42.6l4.4 -17.4M150.9 43.6l3.2 -16.2M154.6 44.9l3.1 -19.5M159.9 47.0l4.2 -21.5M162.1 48.3l4.9 -18.9M165.5 50.1l9.8 -21.9M169.8 52.6l3.6 -20.4M172.6 54.1l4.4 -19.0M177.6 57.3l2.8 -17.7M181.0 60.1l2.7 -14.2M183.4 62.0l3.4 -10.9M187.5 65.3l5.5 -15.5M189.3 66.8l2.6 -13.2M193.2 70.6l5.2 -13.5M195.1 73.1l4.6 -11.7M198.7 77.8l6.0 -15.2M201.1 80.9l3.3 -15.3M203.2 83.7l2.1 -13.2M205.0 86.0l4.3 -12.2M208.4 89.7l5.6 -16.0M211.1 92.7l5.7 -16.2M212.7 94.4l4.2 -11.9M214.9 96.7l4.1 -11.8M219.1 100.0l5.4 -15.4M222.3 101.5l5.3 -15.1M226.1 103.3l5.5 -15.8M230.1 105.2l4.7 -13.3M234.0 107.1l4.4 -12.5M238.6 108.6l4.5 -12.9M242.9 109.6l5.2 -14.7M245.1 110.1l4.0 -11.5M251.3 111.5l4.0 -11.4M256.2 112.6l5.0 -14.3M259.6 113.0l4.0 -11.4M265.6 113.0l5.0 -14.3M270.3 113.0l4.6 -13.1M274.8 113.0l4.1 -11.8M278.0 113.0l4.2 -12.0" stroke="#1d1616" stroke-width="2.6" fill="none" stroke-linecap="round" opacity="0.85"/></g><g filter="url(#zb6)"><ellipse cx="262" cy="282" rx="52" ry="30" fill="#aaa5a6" opacity="0.93"/></g></g>
<g transform="translate(492.0,1212.0)" clip-path="url(#zclip)"><g filter="url(#pix)"><rect x="-9" y="-9" width="304" height="304" fill="url(#zwall)"/><g filter="url(#zb3)"><rect x="-20" y="176" width="326" height="140" fill="url(#zgnd)"/></g><g filter="url(#zb2)"><rect x="-9" y="-9" width="14" height="189" fill="#5e4237"/><rect x="7" y="-9" width="11" height="44" fill="#1d1518"/><rect x="7" y="35" width="12" height="145" fill="#5b4036"/><rect x="21" y="-9" width="26" height="189" fill="#4f3b33"/><rect x="30" y="-9" width="6" height="189" fill="#5a4439"/><rect x="-9" y="110" width="29" height="70" fill="#39302c" opacity="0.8"/><rect x="-9" y="-9" width="304" height="11.2" fill="#0e0d10"/><rect x="46" y="-9" width="138" height="28" fill="#17161b"/><rect x="46" y="19" width="138" height="7" fill="#3a3130" opacity="0.8"/><rect x="128" y="-9" width="9" height="33" fill="#8a7a66"/><rect x="184" y="-9" width="112" height="134" fill="#5c4f46"/><rect x="186" y="-9" width="9" height="134" fill="#6e6153"/><rect x="199" y="-9" width="6" height="134" fill="#77695b"/><rect x="211" y="-9" width="9" height="134" fill="#6a5c50"/><rect x="224" y="-9" width="7" height="134" fill="#786a5c"/><rect x="237" y="-9" width="8" height="134" fill="#6b5d50"/><rect x="249" y="-9" width="7" height="134" fill="#7a6c5d"/><rect x="262" y="-9" width="8" height="134" fill="#6d5f52"/><rect x="274" y="-9" width="7" height="134" fill="#7b6d5e"/><rect x="286" y="-9" width="8" height="134" fill="#6d5f52"/><rect x="196" y="-9" width="2.5" height="134" fill="#43372f"/><rect x="208" y="-9" width="2.5" height="134" fill="#43372f"/><rect x="221" y="-9" width="2.5" height="134" fill="#43372f"/><rect x="233" y="-9" width="2.5" height="134" fill="#43372f"/><rect x="246" y="-9" width="2.5" height="134" fill="#43372f"/><rect x="258" y="-9" width="2.5" height="134" fill="#43372f"/><rect x="271" y="-9" width="2.5" height="134" fill="#43372f"/><rect x="283" y="-9" width="2.5" height="134" fill="#43372f"/><rect x="295" y="-9" width="2.5" height="134" fill="#43372f"/></g><path d="M32.0 71.0L25.0 102.0L15.0 133.0L8.0 160.0L1.3 181.0L0.0 194.0L0.0 214.0L5.0 242.0L19.0 253.5L32.0 251.0L40.7 242.0L42.0 232.0L57.0 214.0L89.0 181.0L100.0 178.6L112.0 181.0L127.0 199.0L143.0 219.0L147.6 245.0L155.0 270.0L167.0 297.0L297.0 297.0L297.0 113.0L269.6 114.4L244.2 110.5L218.7 100.4L208.6 89.0L195.9 71.0L180.6 57.0L161.6 44.5L142.5 36.0L127.0 26.0L102.0 21.0L76.0 20.0L51.0 28.0L38.0 42.0Z" fill="#16141a"/><g clip-path="url(#zbody)"><g opacity="0.28"><g fill="none" stroke-linecap="butt" stroke-linejoin="round"><path d="M121.3 32.0C119.0 36.0 118.3 36.0 114.5 44.0C110.7 52.0 112.3 48.0 109.9 56.0C107.5 64.0 109.0 60.0 107.3 68.0C105.5 76.0 106.5 63.7 104.6 80.0C102.7 96.4 102.9 97.7 101.6 117.0C100.3 136.3 101.1 128.3 100.6 138.0C100.1 147.7 100.5 140.7 100.2 146.0C100.0 151.3 100.0 151.3 99.9 154.0" stroke="#e9e6e2" stroke-width="2.9"/><path d="M130.2 32.5C127.9 36.5 127.2 36.5 123.4 44.5C119.6 52.5 121.2 48.5 118.8 56.5C116.4 64.5 117.9 60.5 116.1 68.5C114.3 76.5 115.4 64.3 113.4 80.5C111.4 96.8 111.6 98.1 110.2 117.3C108.7 136.4 109.6 128.4 109.1 138.0C108.6 147.6 109.0 140.7 108.8 146.0C108.5 151.3 108.6 148.7 108.4 154.0C108.2 159.3 108.3 156.7 108.1 162.0C107.8 167.3 107.9 164.7 107.7 170.0C107.5 175.3 107.6 172.7 107.4 178.0C107.1 183.3 107.1 183.3 107.0 186.0" stroke="#e9e6e2" stroke-width="2.9"/><path d="M136.1 36.9C134.0 40.9 133.1 40.9 129.7 48.9C126.4 56.9 128.2 52.9 126.0 60.9C123.9 68.9 124.8 66.3 123.3 72.9C121.8 79.6 123.3 66.1 121.5 80.9C119.7 95.8 119.5 98.4 117.8 117.5C116.2 136.5 117.1 128.5 116.6 138.0C116.1 147.5 116.5 140.7 116.2 146.0C116.0 151.3 116.1 148.7 115.9 154.0C115.7 159.3 115.8 156.7 115.6 162.0C115.3 167.3 115.4 164.7 115.2 170.0C115.0 175.3 115.1 172.7 114.9 178.0C114.6 183.3 114.6 183.3 114.5 186.0" stroke="#e9e6e2" stroke-width="2.9"/><path d="M146.0 37.4C143.8 41.4 142.9 41.4 139.6 49.4C136.2 57.4 138.0 53.4 135.8 61.4C133.6 69.4 134.6 66.8 133.0 73.4C131.5 80.1 133.2 66.7 131.2 81.4C129.2 96.2 128.9 98.9 127.0 117.7C125.1 136.6 126.2 128.6 125.6 138.0C125.0 147.4 125.5 140.7 125.2 146.0C125.0 151.3 125.1 148.7 124.9 154.0C124.7 159.3 124.8 156.7 124.6 162.0C124.3 167.3 124.4 164.7 124.2 170.0C124.0 175.3 124.1 172.7 123.9 178.0C123.6 183.3 123.7 180.7 123.5 186.0C123.3 191.3 123.4 188.7 123.2 194.0C122.9 199.3 122.9 199.3 122.8 202.0" stroke="#e9e6e2" stroke-width="2.9"/><path d="M157.1 38.0C155.0 42.0 154.1 42.0 150.7 50.0C147.3 58.0 149.1 54.0 146.9 62.0C144.7 70.0 145.6 67.3 144.1 74.0C142.5 80.7 144.4 67.3 142.2 82.0C140.0 96.7 139.5 99.3 137.4 118.0C135.3 136.7 136.4 128.7 135.8 138.0C135.2 147.3 135.7 140.7 135.5 146.0C135.2 151.3 135.3 148.7 135.1 154.0C134.9 159.3 135.0 156.7 134.8 162.0C134.5 167.3 134.6 164.7 134.4 170.0C134.2 175.3 134.3 172.7 134.1 178.0C133.8 183.3 133.9 180.7 133.7 186.0C133.5 191.3 133.6 188.7 133.4 194.0C133.1 199.3 133.2 196.7 133.0 202.0C132.8 207.3 132.8 207.3 132.7 210.0" stroke="#e9e6e2" stroke-width="2.9"/><path d="M166.5 41.6C164.4 45.6 163.5 45.6 160.0 53.6C156.6 61.6 158.4 57.6 156.2 65.6C153.9 73.6 154.9 70.9 153.3 77.6C151.7 84.3 153.2 71.5 151.4 85.6C149.6 99.7 149.5 102.3 147.9 119.8C146.4 137.3 147.5 127.1 146.8 138.0C146.1 148.9 146.8 143.8 145.8 152.6C144.8 161.5 145.7 158.0 143.8 164.6C141.9 171.3 142.6 167.3 140.1 172.6C137.7 178.0 138.9 175.3 136.4 180.6C134.0 186.0 135.2 183.3 132.8 188.6C130.3 194.0 131.5 191.3 129.1 196.6C126.6 202.0 126.6 202.0 125.4 204.6" stroke="#e9e6e2" stroke-width="2.9"/><path d="M173.2 49.2C171.3 53.2 170.4 53.2 167.4 61.2C164.3 69.2 166.2 65.2 164.1 73.2C162.0 81.2 162.5 79.8 161.2 85.2C159.9 90.5 161.2 77.0 160.2 89.2C159.2 101.3 159.0 105.3 158.1 121.6C157.2 137.9 158.0 125.7 157.4 138.0C156.8 150.3 157.4 147.6 156.4 158.5C155.4 169.3 156.3 163.8 154.4 170.5C152.5 177.1 153.2 173.1 150.7 178.5C148.3 183.8 149.5 181.1 147.0 186.5C144.6 191.8 145.8 189.1 143.4 194.5C140.9 199.8 142.1 197.1 139.7 202.5C137.2 207.8 138.5 205.1 136.0 210.5C133.5 215.8 133.5 215.8 132.3 218.5" stroke="#e9e6e2" stroke-width="2.9"/><path d="M181.8 52.5C179.8 56.5 179.0 56.5 175.9 64.5C172.8 72.5 174.7 68.5 172.6 76.5C170.5 84.5 170.9 83.2 169.6 88.5C168.3 93.9 169.2 81.0 168.6 92.5C168.0 104.1 168.1 108.1 167.8 123.3C167.4 138.4 167.9 124.4 167.5 138.0C167.1 151.6 167.5 151.3 166.5 164.0C165.5 176.7 166.4 169.4 164.5 176.0C162.6 182.7 163.3 178.7 160.8 184.0C158.4 189.4 159.6 186.7 157.1 192.0C154.7 197.4 155.9 194.7 153.5 200.0C151.0 205.4 152.2 202.7 149.8 208.0C147.3 213.4 148.6 210.7 146.1 216.0C143.6 221.4 143.6 221.4 142.4 224.0" stroke="#e9e6e2" stroke-width="2.9"/><path d="M190.6 60.2C188.6 64.2 188.0 64.2 184.5 72.2C181.1 80.2 183.1 76.2 180.3 84.2C177.4 92.2 177.2 82.5 176.0 96.2C174.8 109.8 176.4 111.1 176.8 125.1C177.1 139.0 177.3 123.3 177.0 138.0C176.7 152.7 177.0 154.8 176.0 169.2C175.0 183.7 175.9 174.6 174.0 181.2C172.1 187.9 172.8 183.9 170.3 189.2C167.9 194.6 169.1 191.9 166.6 197.2C164.2 202.6 165.4 199.9 163.0 205.2C160.5 210.6 161.7 207.9 159.3 213.2C156.8 218.6 158.1 215.9 155.6 221.2C153.1 226.6 154.4 223.9 151.9 229.2C149.5 234.6 150.7 231.9 148.2 237.2C145.8 242.6 145.8 242.6 144.6 245.2" stroke="#e9e6e2" stroke-width="2.9"/><path d="M196.8 71.8C194.9 75.8 194.8 75.8 190.9 83.8C187.1 91.8 187.8 90.5 185.3 95.8C182.9 101.2 183.3 89.5 183.5 99.8C183.6 110.2 184.8 114.2 185.8 126.9C186.9 139.6 186.7 122.1 186.6 138.0C186.5 153.9 186.6 158.4 185.6 174.5C184.6 190.7 185.5 179.9 183.6 186.5C181.7 193.2 182.4 189.2 179.9 194.5C177.5 199.9 178.7 197.2 176.2 202.5C173.8 207.9 175.0 205.2 172.6 210.5C170.1 215.9 171.3 213.2 168.9 218.5C166.4 223.9 167.7 221.2 165.2 226.5C162.7 231.9 164.0 229.2 161.5 234.5C159.1 239.9 160.3 237.2 157.8 242.5C155.4 247.9 156.6 245.2 154.2 250.5C151.7 255.9 151.7 255.9 150.5 258.5" stroke="#e9e6e2" stroke-width="2.9"/><path d="M204.2 76.8C202.1 80.8 202.1 80.8 198.1 88.8C194.1 96.8 193.3 88.0 192.1 100.8C190.9 113.7 193.4 115.0 194.5 127.4C195.6 139.8 192.4 117.8 195.3 138.0C198.2 158.2 198.0 154.7 203.3 188.0C208.6 221.3 205.4 201.3 211.3 238.0C217.2 274.7 217.7 278.0 220.9 298.0" stroke="#e9e6e2" stroke-width="2.7"/><path d="M208.6 85.6C206.5 89.6 205.1 92.3 202.2 97.6C199.4 103.0 200.0 91.6 200.1 101.6C200.2 111.7 201.4 115.7 202.5 127.8C203.6 139.9 200.4 117.9 203.3 138.0C206.2 158.1 206.0 154.7 211.3 188.0C216.6 221.3 213.4 201.3 219.3 238.0C225.2 274.7 225.7 278.0 228.9 298.0" stroke="#e9e6e2" stroke-width="2.7"/><path d="M214.5 90.6C212.3 94.6 209.2 90.0 207.8 102.6C206.4 115.2 209.1 116.5 210.2 128.3C211.3 140.1 208.1 118.1 211.0 138.0C213.9 157.9 213.7 154.7 219.0 188.0C224.3 221.3 221.1 201.3 227.0 238.0C232.9 274.7 233.4 278.0 236.6 298.0" stroke="#e9e6e2" stroke-width="2.7"/><path d="M221.3 97.2C219.8 99.8 217.5 94.3 216.8 105.2C216.1 116.0 218.1 118.6 219.2 129.6C220.3 140.5 217.1 118.5 220.0 138.0C222.9 157.5 222.7 154.7 228.0 188.0C233.3 221.3 230.1 201.3 236.0 238.0C241.9 274.7 242.4 278.0 245.6 298.0" stroke="#e9e6e2" stroke-width="2.7"/><path d="M230.3 99.7C228.7 102.4 226.4 97.3 225.7 107.7C225.0 118.1 227.0 120.7 228.1 130.8C229.2 140.9 226.0 118.9 228.9 138.0C231.8 157.1 231.6 154.7 236.9 188.0C242.2 221.3 239.0 201.3 244.9 238.0C250.8 274.7 251.3 278.0 254.5 298.0" stroke="#e9e6e2" stroke-width="2.7"/><path d="M236.3 105.0C235.5 106.3 234.0 100.1 234.0 109.0C234.0 117.8 235.3 121.8 236.4 131.5C237.5 141.2 234.3 119.2 237.2 138.0C240.1 156.8 239.9 154.7 245.2 188.0C250.5 221.3 247.3 201.3 253.2 238.0C259.1 274.7 259.6 278.0 262.8 298.0" stroke="#e9e6e2" stroke-width="2.7"/><path d="M245.8 106.2C245.0 107.6 243.5 101.6 243.5 110.2C243.5 118.9 244.8 122.9 245.9 132.1C247.0 141.4 244.0 119.4 246.7 138.0C249.4 156.6 249.2 154.7 254.1 188.0C259.0 221.3 256.1 201.3 261.5 238.0C266.9 274.7 267.4 278.0 270.3 298.0" stroke="#e9e6e2" stroke-width="2.7"/><path d="M256.0 107.6C255.3 108.9 253.7 103.2 253.7 111.6C253.7 120.0 255.0 124.0 256.1 132.8C257.2 141.6 254.6 119.6 256.9 138.0C259.2 156.4 258.9 154.7 262.9 188.0C267.0 221.3 264.6 201.3 269.0 238.0C273.4 274.7 273.8 278.0 276.3 298.0" stroke="#e9e6e2" stroke-width="2.7"/><path d="M265.6 108.9C264.8 110.2 263.2 104.7 263.2 112.9C263.2 121.0 264.5 125.0 265.6 133.4C266.7 141.8 264.5 119.8 266.4 138.0C268.3 156.2 268.0 154.7 271.2 188.0C274.4 221.3 272.5 201.3 276.0 238.0C279.5 274.7 279.9 278.0 281.8 298.0" stroke="#e9e6e2" stroke-width="2.7"/><path d="M275.8 110.2C275.0 111.5 273.4 106.2 273.4 114.2C273.4 122.2 274.7 126.2 275.8 134.1C276.9 142.0 275.2 120.0 276.6 138.0C278.0 156.0 277.8 154.7 280.1 188.0C282.4 221.3 281.0 201.3 283.5 238.0C286.1 274.7 286.3 278.0 287.7 298.0" stroke="#e9e6e2" stroke-width="2.7"/><path d="M285.1 107.1C283.5 109.8 281.1 106.0 280.3 115.1C279.5 124.3 281.6 126.9 282.7 134.6C283.8 142.2 282.4 120.2 283.5 138.0C284.6 155.8 284.4 154.7 286.1 188.0C287.8 221.3 286.7 201.3 288.6 238.0C290.5 274.7 290.7 278.0 291.7 298.0" stroke="#e9e6e2" stroke-width="2.7"/><path d="M191.0 176.0L187.5 184.0L184.0 192.0L180.4 200.0L176.9 208.0L173.4 216.0L169.9 224.0L166.4 232.0L162.8 240.0L159.3 248.0L155.8 256.0L152.3 264.0L148.8 272.0" stroke="#d8d4cc" stroke-width="2.1"/><path d="M192.4 183.6L188.9 191.6L185.4 199.6L181.9 207.6L178.4 215.6L174.8 223.6L171.3 231.6L167.8 239.6L164.3 247.6L160.8 255.6L157.2 263.6L153.7 271.6" stroke="#d8d4cc" stroke-width="2.1"/><path d="M193.9 191.2L190.4 199.2L186.9 207.2L183.3 215.2L179.8 223.2L176.3 231.2L172.8 239.2L169.3 247.2L165.7 255.2L162.2 263.2L158.7 271.2L155.2 279.2" stroke="#d8d4cc" stroke-width="2.1"/><path d="M195.3 198.8L191.8 206.8L188.3 214.8L184.8 222.8L181.3 230.8L177.7 238.8L174.2 246.8L170.7 254.8L167.2 262.8L163.7 270.8L160.1 278.8L156.6 286.8" stroke="#d8d4cc" stroke-width="2.1"/><path d="M196.8 206.4L193.3 214.4L189.8 222.4L186.2 230.4L182.7 238.4L179.2 246.4L175.7 254.4L172.2 262.4L168.6 270.4L165.1 278.4L161.6 286.4" stroke="#d8d4cc" stroke-width="2.1"/><path d="M198.2 214.0L194.7 222.0L191.2 230.0L187.7 238.0L184.2 246.0L180.6 254.0L177.1 262.0L173.6 270.0L170.1 278.0L166.6 286.0L163.0 294.0L159.5 302.0" stroke="#d8d4cc" stroke-width="2.1"/><path d="M199.7 221.6L196.2 229.6L192.7 237.6L189.1 245.6L185.6 253.6L182.1 261.6L178.6 269.6L175.1 277.6L171.5 285.6L168.0 293.6L164.5 301.6" stroke="#d8d4cc" stroke-width="2.1"/><path d="M201.2 229.2L197.6 237.2L194.1 245.2L190.6 253.2L187.1 261.2L183.5 269.2L180.0 277.2L176.5 285.2L173.0 293.2L169.5 301.2" stroke="#d8d4cc" stroke-width="2.1"/><path d="M202.6 236.8L199.1 244.8L195.6 252.8L192.0 260.8L188.5 268.8L185.0 276.8L181.5 284.8L178.0 292.8L174.4 300.8" stroke="#d8d4cc" stroke-width="2.1"/><path d="M204.1 244.4L200.5 252.4L197.0 260.4L193.5 268.4L190.0 276.4L186.4 284.4L182.9 292.4L179.4 300.4" stroke="#d8d4cc" stroke-width="2.1"/><path d="M205.5 252.0L202.0 260.0L198.5 268.0L194.9 276.0L191.4 284.0L187.9 292.0L184.4 300.0L180.9 308.0" stroke="#d8d4cc" stroke-width="2.1"/><path d="M206.9 259.6L203.4 267.6L199.9 275.6L196.4 283.6L192.9 291.6L189.3 299.6L185.8 307.6" stroke="#d8d4cc" stroke-width="2.1"/><path d="M208.4 267.2L204.9 275.2L201.4 283.2L197.8 291.2L194.3 299.2L190.8 307.2" stroke="#d8d4cc" stroke-width="2.1"/></g><g fill="none" stroke="#dedad6" stroke-linejoin="round"><path d="M-3.3 186.3L2.7 180.7L8.7 174.9L14.7 169.0L20.7 163.0L26.7 156.8L32.7 150.5L38.7 144.0L44.7 137.4L50.7 130.7L56.7 135.8L62.7 140.9L68.7 146.0L74.7 151.1L80.7 156.2L86.7 161.3L92.7 166.4L98.7 171.5L104.7 176.6" stroke-width="3.1"/><path d="M-2.2 203.3L3.8 197.7L9.8 191.9L15.8 186.0L21.8 180.0L27.8 173.8L33.8 167.5L39.8 161.0L45.8 154.4L51.8 147.7L57.8 152.8L63.8 157.9L69.8 163.0L75.8 168.1L81.8 173.2L87.8 178.3L93.8 183.4" stroke-width="3.1"/><path d="M-3.0 216.1L3.0 210.5L9.0 204.7L15.0 198.8L21.0 192.8L27.0 186.6L33.0 180.3L39.0 173.8L45.0 167.2L51.0 160.5L57.0 165.6L63.0 170.7L69.0 175.8L75.0 180.9L81.0 186.0L87.0 191.1" stroke-width="3.1"/><path d="M-7.0 233.2L-1.0 227.6L5.0 222.0L11.0 216.2L17.0 210.3L23.0 204.3L29.0 198.1L35.0 191.8L41.0 185.3L47.0 178.7L53.0 172.0L59.0 177.1L65.0 182.2L71.0 187.3L77.0 192.4L83.0 197.5" stroke-width="3.1"/><path d="M1.5 239.1L7.5 233.5L13.5 227.7L19.5 221.8L25.5 215.8L31.5 209.6L37.5 203.3L43.5 196.8L49.5 190.2L55.5 183.5L61.5 188.6L67.5 193.7L73.5 198.8L79.5 203.9" stroke-width="3.1"/><path d="M14.0 238.2L20.0 232.3L26.0 226.3L32.0 220.1L38.0 213.8L44.0 207.3L50.0 200.7L56.0 194.0L62.0 199.1L68.0 204.2L74.0 209.3" stroke-width="3.1"/><path d="M24.0 235.8L30.0 229.6L36.0 223.3L42.0 216.8L48.0 210.2L54.0 203.5L60.0 208.6L66.0 213.7" stroke-width="2.6"/><path d="M26.0 238.1L32.0 231.8L38.0 225.3L44.0 218.7L50.0 212.0L56.0 217.1L62.0 222.2" stroke-width="2.6"/><path d="M57.0 101.0C57.7 105.7 56.0 104.3 59.0 115.0C62.0 125.7 59.7 121.7 66.0 133.0C72.3 144.3 69.7 139.0 78.0 149.0C86.3 159.0 86.7 158.3 91.0 163.0" stroke-width="2.8"/><path d="M64.2 98.5C64.9 103.2 63.2 101.8 66.2 112.5C69.2 123.2 67.0 119.7 73.2 130.5C79.4 141.3 77.1 136.2 84.7 145.0C92.3 153.8 92.2 153.0 96.0 157.0" stroke-width="2.8"/><path d="M71.4 90.0C72.1 96.7 70.4 97.3 73.4 110.0C76.4 122.7 74.4 117.7 80.4 128.0C86.4 138.3 84.5 133.3 91.4 141.0C98.3 148.7 97.8 147.7 101.0 151.0" stroke-width="2.8"/><path d="M78.6 87.5C79.3 94.2 77.6 94.8 80.6 107.5C83.6 120.2 81.8 115.7 87.6 125.5C93.4 135.3 92.0 130.5 98.1 137.0C104.2 143.5 103.4 142.3 106.0 145.0" stroke-width="2.8"/><path d="M85.8 85.0C86.5 91.7 84.8 92.3 87.8 105.0C90.8 117.7 89.1 113.7 94.8 123.0C100.5 132.3 99.4 127.7 104.8 133.0C110.2 138.3 108.9 137.0 111.0 139.0" stroke-width="2.8"/><path d="M93.0 82.5C93.7 89.2 92.0 89.8 95.0 102.5C98.0 115.2 96.5 111.7 102.0 120.5C107.5 129.3 106.8 124.8 111.5 129.0C116.2 133.2 114.5 131.7 116.0 133.0" stroke-width="2.8"/><path d="M36.0 74.0C34.3 82.3 35.0 82.3 31.0 99.0C27.0 115.7 27.3 113.0 24.0 124.0C20.7 135.0 22.0 129.3 21.0 132.0" stroke-width="1.9" stroke="#c9c6c6"/><path d="M41.2 72.5C39.5 80.8 39.9 80.8 36.2 97.5C32.5 114.2 32.8 111.3 30.0 122.5C27.2 133.7 28.5 128.2 27.7 131.0" stroke-width="1.9" stroke="#c9c6c6"/><path d="M46.4 71.0C44.7 79.3 44.9 79.3 41.4 96.0C37.9 112.7 38.3 109.7 36.0 121.0C33.7 132.3 34.9 127.0 34.4 130.0" stroke-width="1.9" stroke="#c9c6c6"/><path d="M51.6 69.5C49.9 77.8 49.8 77.8 46.6 94.5C43.4 111.2 43.8 108.0 42.0 119.5C40.2 131.0 41.4 125.8 41.1 129.0" stroke-width="1.9" stroke="#c9c6c6"/><path d="M56.8 68.0C55.1 76.3 54.7 76.3 51.8 93.0C48.9 109.7 49.3 106.3 48.0 118.0C46.7 129.7 47.9 124.7 47.8 128.0" stroke-width="1.9" stroke="#c9c6c6"/><path d="M62.0 66.5C60.3 74.8 59.7 74.8 57.0 91.5C54.3 108.2 54.8 104.7 54.0 116.5C53.2 128.3 54.3 123.5 54.5 127.0" stroke-width="1.9" stroke="#c9c6c6"/><path d="M22 140Q30 126 44 131" stroke-width="2.2"/><path d="M24 146Q33 150 46 136" stroke-width="2"/></g><ellipse cx="31.5" cy="136.5" rx="7" ry="4.2" fill="#1c1214" transform="rotate(-15 31.5 136.5)"/></g><g mask="url(#zmask)" opacity="0.85"><rect x="-9" y="-9" width="304" height="306" fill="url(#zrbC)"/><g mask="url(#bdia)"><rect x="-9" y="-9" width="304" height="306" fill="url(#zrbD)"/></g></g></g><g filter="url(#zb1)"><path d="M0 205L10 212 28 226 40 236 41 243 32 252 19 254.5 5 243 0 226Z" fill="#2a2120"/><path d="M0 196L14 214 30 222 22 200 8 188Z" fill="#7f7f8c" opacity="0.75"/></g><g filter="url(#zb05)"><path d="M76 64Q84 52 104 53Q113 56 108 68Q100 86 84 91Q80 80 76 64Z" fill="#2a2421"/><path d="M84 66Q92 56 104 57Q108 60 104 69Q98 82 88 86Q86 76 84 66Z" fill="#8d8a78"/><path d="M53 78Q60 64 78 63L86 88Q76 98 62 98Q54 92 53 78Z" fill="#a9a39b"/><path d="M62 82Q70 76 80 84Q74 92 64 90Z" fill="#b59f92" opacity="0.8"/></g><g filter="url(#zb3)" opacity="0.96"><path d="M20 80Q22 60 32 46Q46 28 76 21Q105 18 143 32L150 40 118 40 92 48 70 58 48 62 34 74Z" fill="#1e1717"/><path d="M143 24L183 42 210 58 220 78 236 96 259 105 290 104 290 118 250 116 220 106 204 92 190 74 174 60 150 48 120 44 Z" fill="#332826"/></g><g filter="url(#zb1)" opacity="0.55"><path d="M100 22l6 22M112 23l6 20M124 25l7 18M136 29l8 16M150 36l9 12M164 43l9 12" stroke="#b9b0a8" stroke-width="2.2"/></g><g filter="url(#zb1)"><path d="M24.2 79.5l-4.9 -19.0M25.3 77.5l-7.6 -23.1M26.4 75.1l-9.6 -23.3M27.9 72.2l-8.0 -20.2M29.1 69.8l-11.4 -29.3M30.3 67.8l-5.5 -29.8M32.7 65.8l-5.1 -29.3M34.1 64.8l-12.2 -35.2M36.2 63.1l-9.4 -27.3M39.0 60.8l-8.5 -30.9M40.9 59.6l-9.8 -34.6M42.5 59.0l-10.7 -29.0M45.8 57.6l-11.9 -34.9M48.0 56.6l-12.2 -35.2M50.7 55.5l-13.9 -38.8M53.0 54.7l-7.6 -37.6M56.0 53.6l-6.0 -34.1M57.8 52.9l-8.2 -35.8M60.7 51.9l-12.2 -29.7M64.3 50.6l-9.6 -34.6M67.7 49.6l-7.1 -28.9M70.3 48.9l-9.8 -31.9M74.0 48.0l-11.1 -36.7M76.9 47.3l-6.3 -25.6M80.0 46.5l-8.2 -38.1M82.6 45.8l-7.5 -29.8M85.6 45.0l-11.2 -29.7M89.5 43.9l-5.8 -25.6M93.1 42.9l-8.9 -27.5M98.3 41.5l-7.8 -25.4M101.3 40.7l-7.9 -36.7M106.1 39.8l-8.8 -27.9M108.9 39.2l-6.7 -36.9M112.4 38.5l-6.1 -17.0M116.6 37.7l-5.5 -20.0M120.6 37.1l4.4 -15.9M124.9 37.7l8.6 -19.7M129.7 38.4l6.7 -19.9M133.6 39.0l6.6 -15.7M137.9 39.7l8.8 -22.5M140.8 40.3l3.6 -19.7M145.0 41.7l2.9 -16.8M147.7 42.6l4.4 -17.4M150.9 43.6l3.2 -16.2M154.6 44.9l3.1 -19.5M159.9 47.0l4.2 -21.5M162.1 48.3l4.9 -18.9M165.5 50.1l9.8 -21.9M169.8 52.6l3.6 -20.4M172.6 54.1l4.4 -19.0M177.6 57.3l2.8 -17.7M181.0 60.1l2.7 -14.2M183.4 62.0l3.4 -10.9M187.5 65.3l5.5 -15.5M189.3 66.8l2.6 -13.2M193.2 70.6l5.2 -13.5M195.1 73.1l4.6 -11.7M198.7 77.8l6.0 -15.2M201.1 80.9l3.3 -15.3M203.2 83.7l2.1 -13.2M205.0 86.0l4.3 -12.2M208.4 89.7l5.6 -16.0M211.1 92.7l5.7 -16.2M212.7 94.4l4.2 -11.9M214.9 96.7l4.1 -11.8M219.1 100.0l5.4 -15.4M222.3 101.5l5.3 -15.1M226.1 103.3l5.5 -15.8M230.1 105.2l4.7 -13.3M234.0 107.1l4.4 -12.5M238.6 108.6l4.5 -12.9M242.9 109.6l5.2 -14.7M245.1 110.1l4.0 -11.5M251.3 111.5l4.0 -11.4M256.2 112.6l5.0 -14.3M259.6 113.0l4.0 -11.4M265.6 113.0l5.0 -14.3M270.3 113.0l4.6 -13.1M274.8 113.0l4.1 -11.8M278.0 113.0l4.2 -12.0" stroke="#1d1616" stroke-width="2.6" fill="none" stroke-linecap="round" opacity="0.85"/></g><g filter="url(#zb6)"><ellipse cx="262" cy="282" rx="52" ry="30" fill="#aaa5a6" opacity="0.93"/></g></g></g>
<g transform="translate(830.5,1212.0)" clip-path="url(#zclip)"><g filter="url(#pix)"><rect x="-9" y="-9" width="304" height="304" fill="url(#zwall)"/><g filter="url(#zb3)"><rect x="-20" y="176" width="326" height="140" fill="url(#zgnd)"/></g><g filter="url(#zb2)"><rect x="-9" y="-9" width="14" height="189" fill="#5e4237"/><rect x="7" y="-9" width="11" height="44" fill="#1d1518"/><rect x="7" y="35" width="12" height="145" fill="#5b4036"/><rect x="21" y="-9" width="26" height="189" fill="#4f3b33"/><rect x="30" y="-9" width="6" height="189" fill="#5a4439"/><rect x="-9" y="110" width="29" height="70" fill="#39302c" opacity="0.8"/><rect x="-9" y="-9" width="304" height="11.2" fill="#0e0d10"/><rect x="46" y="-9" width="138" height="28" fill="#17161b"/><rect x="46" y="19" width="138" height="7" fill="#3a3130" opacity="0.8"/><rect x="128" y="-9" width="9" height="33" fill="#8a7a66"/><rect x="184" y="-9" width="112" height="134" fill="#5c4f46"/><rect x="186" y="-9" width="9" height="134" fill="#6e6153"/><rect x="199" y="-9" width="6" height="134" fill="#77695b"/><rect x="211" y="-9" width="9" height="134" fill="#6a5c50"/><rect x="224" y="-9" width="7" height="134" fill="#786a5c"/><rect x="237" y="-9" width="8" height="134" fill="#6b5d50"/><rect x="249" y="-9" width="7" height="134" fill="#7a6c5d"/><rect x="262" y="-9" width="8" height="134" fill="#6d5f52"/><rect x="274" y="-9" width="7" height="134" fill="#7b6d5e"/><rect x="286" y="-9" width="8" height="134" fill="#6d5f52"/><rect x="196" y="-9" width="2.5" height="134" fill="#43372f"/><rect x="208" y="-9" width="2.5" height="134" fill="#43372f"/><rect x="221" y="-9" width="2.5" height="134" fill="#43372f"/><rect x="233" y="-9" width="2.5" height="134" fill="#43372f"/><rect x="246" y="-9" width="2.5" height="134" fill="#43372f"/><rect x="258" y="-9" width="2.5" height="134" fill="#43372f"/><rect x="271" y="-9" width="2.5" height="134" fill="#43372f"/><rect x="283" y="-9" width="2.5" height="134" fill="#43372f"/><rect x="295" y="-9" width="2.5" height="134" fill="#43372f"/></g><path d="M32.0 71.0L25.0 102.0L15.0 133.0L8.0 160.0L1.3 181.0L0.0 194.0L0.0 214.0L5.0 242.0L19.0 253.5L32.0 251.0L40.7 242.0L42.0 232.0L57.0 214.0L89.0 181.0L100.0 178.6L112.0 181.0L127.0 199.0L143.0 219.0L147.6 245.0L155.0 270.0L167.0 297.0L297.0 297.0L297.0 113.0L269.6 114.4L244.2 110.5L218.7 100.4L208.6 89.0L195.9 71.0L180.6 57.0L161.6 44.5L142.5 36.0L127.0 26.0L102.0 21.0L76.0 20.0L51.0 28.0L38.0 42.0Z" fill="#16141a"/><g clip-path="url(#zbody)"><g opacity="0.28"><g fill="none" stroke-linecap="butt" stroke-linejoin="round"><path d="M121.3 32.0C119.0 36.0 118.3 36.0 114.5 44.0C110.7 52.0 112.3 48.0 109.9 56.0C107.5 64.0 109.0 60.0 107.3 68.0C105.5 76.0 106.5 63.7 104.6 80.0C102.7 96.4 102.9 97.7 101.6 117.0C100.3 136.3 101.1 128.3 100.6 138.0C100.1 147.7 100.5 140.7 100.2 146.0C100.0 151.3 100.0 151.3 99.9 154.0" stroke="#e9e6e2" stroke-width="2.9"/><path d="M130.2 32.5C127.9 36.5 127.2 36.5 123.4 44.5C119.6 52.5 121.2 48.5 118.8 56.5C116.4 64.5 117.9 60.5 116.1 68.5C114.3 76.5 115.4 64.3 113.4 80.5C111.4 96.8 111.6 98.1 110.2 117.3C108.7 136.4 109.6 128.4 109.1 138.0C108.6 147.6 109.0 140.7 108.8 146.0C108.5 151.3 108.6 148.7 108.4 154.0C108.2 159.3 108.3 156.7 108.1 162.0C107.8 167.3 107.9 164.7 107.7 170.0C107.5 175.3 107.6 172.7 107.4 178.0C107.1 183.3 107.1 183.3 107.0 186.0" stroke="#e9e6e2" stroke-width="2.9"/><path d="M136.1 36.9C134.0 40.9 133.1 40.9 129.7 48.9C126.4 56.9 128.2 52.9 126.0 60.9C123.9 68.9 124.8 66.3 123.3 72.9C121.8 79.6 123.3 66.1 121.5 80.9C119.7 95.8 119.5 98.4 117.8 117.5C116.2 136.5 117.1 128.5 116.6 138.0C116.1 147.5 116.5 140.7 116.2 146.0C116.0 151.3 116.1 148.7 115.9 154.0C115.7 159.3 115.8 156.7 115.6 162.0C115.3 167.3 115.4 164.7 115.2 170.0C115.0 175.3 115.1 172.7 114.9 178.0C114.6 183.3 114.6 183.3 114.5 186.0" stroke="#e9e6e2" stroke-width="2.9"/><path d="M146.0 37.4C143.8 41.4 142.9 41.4 139.6 49.4C136.2 57.4 138.0 53.4 135.8 61.4C133.6 69.4 134.6 66.8 133.0 73.4C131.5 80.1 133.2 66.7 131.2 81.4C129.2 96.2 128.9 98.9 127.0 117.7C125.1 136.6 126.2 128.6 125.6 138.0C125.0 147.4 125.5 140.7 125.2 146.0C125.0 151.3 125.1 148.7 124.9 154.0C124.7 159.3 124.8 156.7 124.6 162.0C124.3 167.3 124.4 164.7 124.2 170.0C124.0 175.3 124.1 172.7 123.9 178.0C123.6 183.3 123.7 180.7 123.5 186.0C123.3 191.3 123.4 188.7 123.2 194.0C122.9 199.3 122.9 199.3 122.8 202.0" stroke="#e9e6e2" stroke-width="2.9"/><path d="M157.1 38.0C155.0 42.0 154.1 42.0 150.7 50.0C147.3 58.0 149.1 54.0 146.9 62.0C144.7 70.0 145.6 67.3 144.1 74.0C142.5 80.7 144.4 67.3 142.2 82.0C140.0 96.7 139.5 99.3 137.4 118.0C135.3 136.7 136.4 128.7 135.8 138.0C135.2 147.3 135.7 140.7 135.5 146.0C135.2 151.3 135.3 148.7 135.1 154.0C134.9 159.3 135.0 156.7 134.8 162.0C134.5 167.3 134.6 164.7 134.4 170.0C134.2 175.3 134.3 172.7 134.1 178.0C133.8 183.3 133.9 180.7 133.7 186.0C133.5 191.3 133.6 188.7 133.4 194.0C133.1 199.3 133.2 196.7 133.0 202.0C132.8 207.3 132.8 207.3 132.7 210.0" stroke="#e9e6e2" stroke-width="2.9"/><path d="M166.5 41.6C164.4 45.6 163.5 45.6 160.0 53.6C156.6 61.6 158.4 57.6 156.2 65.6C153.9 73.6 154.9 70.9 153.3 77.6C151.7 84.3 153.2 71.5 151.4 85.6C149.6 99.7 149.5 102.3 147.9 119.8C146.4 137.3 147.5 127.1 146.8 138.0C146.1 148.9 146.8 143.8 145.8 152.6C144.8 161.5 145.7 158.0 143.8 164.6C141.9 171.3 142.6 167.3 140.1 172.6C137.7 178.0 138.9 175.3 136.4 180.6C134.0 186.0 135.2 183.3 132.8 188.6C130.3 194.0 131.5 191.3 129.1 196.6C126.6 202.0 126.6 202.0 125.4 204.6" stroke="#e9e6e2" stroke-width="2.9"/><path d="M173.2 49.2C171.3 53.2 170.4 53.2 167.4 61.2C164.3 69.2 166.2 65.2 164.1 73.2C162.0 81.2 162.5 79.8 161.2 85.2C159.9 90.5 161.2 77.0 160.2 89.2C159.2 101.3 159.0 105.3 158.1 121.6C157.2 137.9 158.0 125.7 157.4 138.0C156.8 150.3 157.4 147.6 156.4 158.5C155.4 169.3 156.3 163.8 154.4 170.5C152.5 177.1 153.2 173.1 150.7 178.5C148.3 183.8 149.5 181.1 147.0 186.5C144.6 191.8 145.8 189.1 143.4 194.5C140.9 199.8 142.1 197.1 139.7 202.5C137.2 207.8 138.5 205.1 136.0 210.5C133.5 215.8 133.5 215.8 132.3 218.5" stroke="#e9e6e2" stroke-width="2.9"/><path d="M181.8 52.5C179.8 56.5 179.0 56.5 175.9 64.5C172.8 72.5 174.7 68.5 172.6 76.5C170.5 84.5 170.9 83.2 169.6 88.5C168.3 93.9 169.2 81.0 168.6 92.5C168.0 104.1 168.1 108.1 167.8 123.3C167.4 138.4 167.9 124.4 167.5 138.0C167.1 151.6 167.5 151.3 166.5 164.0C165.5 176.7 166.4 169.4 164.5 176.0C162.6 182.7 163.3 178.7 160.8 184.0C158.4 189.4 159.6 186.7 157.1 192.0C154.7 197.4 155.9 194.7 153.5 200.0C151.0 205.4 152.2 202.7 149.8 208.0C147.3 213.4 148.6 210.7 146.1 216.0C143.6 221.4 143.6 221.4 142.4 224.0" stroke="#e9e6e2" stroke-width="2.9"/><path d="M190.6 60.2C188.6 64.2 188.0 64.2 184.5 72.2C181.1 80.2 183.1 76.2 180.3 84.2C177.4 92.2 177.2 82.5 176.0 96.2C174.8 109.8 176.4 111.1 176.8 125.1C177.1 139.0 177.3 123.3 177.0 138.0C176.7 152.7 177.0 154.8 176.0 169.2C175.0 183.7 175.9 174.6 174.0 181.2C172.1 187.9 172.8 183.9 170.3 189.2C167.9 194.6 169.1 191.9 166.6 197.2C164.2 202.6 165.4 199.9 163.0 205.2C160.5 210.6 161.7 207.9 159.3 213.2C156.8 218.6 158.1 215.9 155.6 221.2C153.1 226.6 154.4 223.9 151.9 229.2C149.5 234.6 150.7 231.9 148.2 237.2C145.8 242.6 145.8 242.6 144.6 245.2" stroke="#e9e6e2" stroke-width="2.9"/><path d="M196.8 71.8C194.9 75.8 194.8 75.8 190.9 83.8C187.1 91.8 187.8 90.5 185.3 95.8C182.9 101.2 183.3 89.5 183.5 99.8C183.6 110.2 184.8 114.2 185.8 126.9C186.9 139.6 186.7 122.1 186.6 138.0C186.5 153.9 186.6 158.4 185.6 174.5C184.6 190.7 185.5 179.9 183.6 186.5C181.7 193.2 182.4 189.2 179.9 194.5C177.5 199.9 178.7 197.2 176.2 202.5C173.8 207.9 175.0 205.2 172.6 210.5C170.1 215.9 171.3 213.2 168.9 218.5C166.4 223.9 167.7 221.2 165.2 226.5C162.7 231.9 164.0 229.2 161.5 234.5C159.1 239.9 160.3 237.2 157.8 242.5C155.4 247.9 156.6 245.2 154.2 250.5C151.7 255.9 151.7 255.9 150.5 258.5" stroke="#e9e6e2" stroke-width="2.9"/><path d="M204.2 76.8C202.1 80.8 202.1 80.8 198.1 88.8C194.1 96.8 193.3 88.0 192.1 100.8C190.9 113.7 193.4 115.0 194.5 127.4C195.6 139.8 192.4 117.8 195.3 138.0C198.2 158.2 198.0 154.7 203.3 188.0C208.6 221.3 205.4 201.3 211.3 238.0C217.2 274.7 217.7 278.0 220.9 298.0" stroke="#e9e6e2" stroke-width="2.7"/><path d="M208.6 85.6C206.5 89.6 205.1 92.3 202.2 97.6C199.4 103.0 200.0 91.6 200.1 101.6C200.2 111.7 201.4 115.7 202.5 127.8C203.6 139.9 200.4 117.9 203.3 138.0C206.2 158.1 206.0 154.7 211.3 188.0C216.6 221.3 213.4 201.3 219.3 238.0C225.2 274.7 225.7 278.0 228.9 298.0" stroke="#e9e6e2" stroke-width="2.7"/><path d="M214.5 90.6C212.3 94.6 209.2 90.0 207.8 102.6C206.4 115.2 209.1 116.5 210.2 128.3C211.3 140.1 208.1 118.1 211.0 138.0C213.9 157.9 213.7 154.7 219.0 188.0C224.3 221.3 221.1 201.3 227.0 238.0C232.9 274.7 233.4 278.0 236.6 298.0" stroke="#e9e6e2" stroke-width="2.7"/><path d="M221.3 97.2C219.8 99.8 217.5 94.3 216.8 105.2C216.1 116.0 218.1 118.6 219.2 129.6C220.3 140.5 217.1 118.5 220.0 138.0C222.9 157.5 222.7 154.7 228.0 188.0C233.3 221.3 230.1 201.3 236.0 238.0C241.9 274.7 242.4 278.0 245.6 298.0" stroke="#e9e6e2" stroke-width="2.7"/><path d="M230.3 99.7C228.7 102.4 226.4 97.3 225.7 107.7C225.0 118.1 227.0 120.7 228.1 130.8C229.2 140.9 226.0 118.9 228.9 138.0C231.8 157.1 231.6 154.7 236.9 188.0C242.2 221.3 239.0 201.3 244.9 238.0C250.8 274.7 251.3 278.0 254.5 298.0" stroke="#e9e6e2" stroke-width="2.7"/><path d="M236.3 105.0C235.5 106.3 234.0 100.1 234.0 109.0C234.0 117.8 235.3 121.8 236.4 131.5C237.5 141.2 234.3 119.2 237.2 138.0C240.1 156.8 239.9 154.7 245.2 188.0C250.5 221.3 247.3 201.3 253.2 238.0C259.1 274.7 259.6 278.0 262.8 298.0" stroke="#e9e6e2" stroke-width="2.7"/><path d="M245.8 106.2C245.0 107.6 243.5 101.6 243.5 110.2C243.5 118.9 244.8 122.9 245.9 132.1C247.0 141.4 244.0 119.4 246.7 138.0C249.4 156.6 249.2 154.7 254.1 188.0C259.0 221.3 256.1 201.3 261.5 238.0C266.9 274.7 267.4 278.0 270.3 298.0" stroke="#e9e6e2" stroke-width="2.7"/><path d="M256.0 107.6C255.3 108.9 253.7 103.2 253.7 111.6C253.7 120.0 255.0 124.0 256.1 132.8C257.2 141.6 254.6 119.6 256.9 138.0C259.2 156.4 258.9 154.7 262.9 188.0C267.0 221.3 264.6 201.3 269.0 238.0C273.4 274.7 273.8 278.0 276.3 298.0" stroke="#e9e6e2" stroke-width="2.7"/><path d="M265.6 108.9C264.8 110.2 263.2 104.7 263.2 112.9C263.2 121.0 264.5 125.0 265.6 133.4C266.7 141.8 264.5 119.8 266.4 138.0C268.3 156.2 268.0 154.7 271.2 188.0C274.4 221.3 272.5 201.3 276.0 238.0C279.5 274.7 279.9 278.0 281.8 298.0" stroke="#e9e6e2" stroke-width="2.7"/><path d="M275.8 110.2C275.0 111.5 273.4 106.2 273.4 114.2C273.4 122.2 274.7 126.2 275.8 134.1C276.9 142.0 275.2 120.0 276.6 138.0C278.0 156.0 277.8 154.7 280.1 188.0C282.4 221.3 281.0 201.3 283.5 238.0C286.1 274.7 286.3 278.0 287.7 298.0" stroke="#e9e6e2" stroke-width="2.7"/><path d="M285.1 107.1C283.5 109.8 281.1 106.0 280.3 115.1C279.5 124.3 281.6 126.9 282.7 134.6C283.8 142.2 282.4 120.2 283.5 138.0C284.6 155.8 284.4 154.7 286.1 188.0C287.8 221.3 286.7 201.3 288.6 238.0C290.5 274.7 290.7 278.0 291.7 298.0" stroke="#e9e6e2" stroke-width="2.7"/><path d="M191.0 176.0L187.5 184.0L184.0 192.0L180.4 200.0L176.9 208.0L173.4 216.0L169.9 224.0L166.4 232.0L162.8 240.0L159.3 248.0L155.8 256.0L152.3 264.0L148.8 272.0" stroke="#d8d4cc" stroke-width="2.1"/><path d="M192.4 183.6L188.9 191.6L185.4 199.6L181.9 207.6L178.4 215.6L174.8 223.6L171.3 231.6L167.8 239.6L164.3 247.6L160.8 255.6L157.2 263.6L153.7 271.6" stroke="#d8d4cc" stroke-width="2.1"/><path d="M193.9 191.2L190.4 199.2L186.9 207.2L183.3 215.2L179.8 223.2L176.3 231.2L172.8 239.2L169.3 247.2L165.7 255.2L162.2 263.2L158.7 271.2L155.2 279.2" stroke="#d8d4cc" stroke-width="2.1"/><path d="M195.3 198.8L191.8 206.8L188.3 214.8L184.8 222.8L181.3 230.8L177.7 238.8L174.2 246.8L170.7 254.8L167.2 262.8L163.7 270.8L160.1 278.8L156.6 286.8" stroke="#d8d4cc" stroke-width="2.1"/><path d="M196.8 206.4L193.3 214.4L189.8 222.4L186.2 230.4L182.7 238.4L179.2 246.4L175.7 254.4L172.2 262.4L168.6 270.4L165.1 278.4L161.6 286.4" stroke="#d8d4cc" stroke-width="2.1"/><path d="M198.2 214.0L194.7 222.0L191.2 230.0L187.7 238.0L184.2 246.0L180.6 254.0L177.1 262.0L173.6 270.0L170.1 278.0L166.6 286.0L163.0 294.0L159.5 302.0" stroke="#d8d4cc" stroke-width="2.1"/><path d="M199.7 221.6L196.2 229.6L192.7 237.6L189.1 245.6L185.6 253.6L182.1 261.6L178.6 269.6L175.1 277.6L171.5 285.6L168.0 293.6L164.5 301.6" stroke="#d8d4cc" stroke-width="2.1"/><path d="M201.2 229.2L197.6 237.2L194.1 245.2L190.6 253.2L187.1 261.2L183.5 269.2L180.0 277.2L176.5 285.2L173.0 293.2L169.5 301.2" stroke="#d8d4cc" stroke-width="2.1"/><path d="M202.6 236.8L199.1 244.8L195.6 252.8L192.0 260.8L188.5 268.8L185.0 276.8L181.5 284.8L178.0 292.8L174.4 300.8" stroke="#d8d4cc" stroke-width="2.1"/><path d="M204.1 244.4L200.5 252.4L197.0 260.4L193.5 268.4L190.0 276.4L186.4 284.4L182.9 292.4L179.4 300.4" stroke="#d8d4cc" stroke-width="2.1"/><path d="M205.5 252.0L202.0 260.0L198.5 268.0L194.9 276.0L191.4 284.0L187.9 292.0L184.4 300.0L180.9 308.0" stroke="#d8d4cc" stroke-width="2.1"/><path d="M206.9 259.6L203.4 267.6L199.9 275.6L196.4 283.6L192.9 291.6L189.3 299.6L185.8 307.6" stroke="#d8d4cc" stroke-width="2.1"/><path d="M208.4 267.2L204.9 275.2L201.4 283.2L197.8 291.2L194.3 299.2L190.8 307.2" stroke="#d8d4cc" stroke-width="2.1"/></g><g fill="none" stroke="#dedad6" stroke-linejoin="round"><path d="M-3.3 186.3L2.7 180.7L8.7 174.9L14.7 169.0L20.7 163.0L26.7 156.8L32.7 150.5L38.7 144.0L44.7 137.4L50.7 130.7L56.7 135.8L62.7 140.9L68.7 146.0L74.7 151.1L80.7 156.2L86.7 161.3L92.7 166.4L98.7 171.5L104.7 176.6" stroke-width="3.1"/><path d="M-2.2 203.3L3.8 197.7L9.8 191.9L15.8 186.0L21.8 180.0L27.8 173.8L33.8 167.5L39.8 161.0L45.8 154.4L51.8 147.7L57.8 152.8L63.8 157.9L69.8 163.0L75.8 168.1L81.8 173.2L87.8 178.3L93.8 183.4" stroke-width="3.1"/><path d="M-3.0 216.1L3.0 210.5L9.0 204.7L15.0 198.8L21.0 192.8L27.0 186.6L33.0 180.3L39.0 173.8L45.0 167.2L51.0 160.5L57.0 165.6L63.0 170.7L69.0 175.8L75.0 180.9L81.0 186.0L87.0 191.1" stroke-width="3.1"/><path d="M-7.0 233.2L-1.0 227.6L5.0 222.0L11.0 216.2L17.0 210.3L23.0 204.3L29.0 198.1L35.0 191.8L41.0 185.3L47.0 178.7L53.0 172.0L59.0 177.1L65.0 182.2L71.0 187.3L77.0 192.4L83.0 197.5" stroke-width="3.1"/><path d="M1.5 239.1L7.5 233.5L13.5 227.7L19.5 221.8L25.5 215.8L31.5 209.6L37.5 203.3L43.5 196.8L49.5 190.2L55.5 183.5L61.5 188.6L67.5 193.7L73.5 198.8L79.5 203.9" stroke-width="3.1"/><path d="M14.0 238.2L20.0 232.3L26.0 226.3L32.0 220.1L38.0 213.8L44.0 207.3L50.0 200.7L56.0 194.0L62.0 199.1L68.0 204.2L74.0 209.3" stroke-width="3.1"/><path d="M24.0 235.8L30.0 229.6L36.0 223.3L42.0 216.8L48.0 210.2L54.0 203.5L60.0 208.6L66.0 213.7" stroke-width="2.6"/><path d="M26.0 238.1L32.0 231.8L38.0 225.3L44.0 218.7L50.0 212.0L56.0 217.1L62.0 222.2" stroke-width="2.6"/><path d="M57.0 101.0C57.7 105.7 56.0 104.3 59.0 115.0C62.0 125.7 59.7 121.7 66.0 133.0C72.3 144.3 69.7 139.0 78.0 149.0C86.3 159.0 86.7 158.3 91.0 163.0" stroke-width="2.8"/><path d="M64.2 98.5C64.9 103.2 63.2 101.8 66.2 112.5C69.2 123.2 67.0 119.7 73.2 130.5C79.4 141.3 77.1 136.2 84.7 145.0C92.3 153.8 92.2 153.0 96.0 157.0" stroke-width="2.8"/><path d="M71.4 90.0C72.1 96.7 70.4 97.3 73.4 110.0C76.4 122.7 74.4 117.7 80.4 128.0C86.4 138.3 84.5 133.3 91.4 141.0C98.3 148.7 97.8 147.7 101.0 151.0" stroke-width="2.8"/><path d="M78.6 87.5C79.3 94.2 77.6 94.8 80.6 107.5C83.6 120.2 81.8 115.7 87.6 125.5C93.4 135.3 92.0 130.5 98.1 137.0C104.2 143.5 103.4 142.3 106.0 145.0" stroke-width="2.8"/><path d="M85.8 85.0C86.5 91.7 84.8 92.3 87.8 105.0C90.8 117.7 89.1 113.7 94.8 123.0C100.5 132.3 99.4 127.7 104.8 133.0C110.2 138.3 108.9 137.0 111.0 139.0" stroke-width="2.8"/><path d="M93.0 82.5C93.7 89.2 92.0 89.8 95.0 102.5C98.0 115.2 96.5 111.7 102.0 120.5C107.5 129.3 106.8 124.8 111.5 129.0C116.2 133.2 114.5 131.7 116.0 133.0" stroke-width="2.8"/><path d="M36.0 74.0C34.3 82.3 35.0 82.3 31.0 99.0C27.0 115.7 27.3 113.0 24.0 124.0C20.7 135.0 22.0 129.3 21.0 132.0" stroke-width="1.9" stroke="#c9c6c6"/><path d="M41.2 72.5C39.5 80.8 39.9 80.8 36.2 97.5C32.5 114.2 32.8 111.3 30.0 122.5C27.2 133.7 28.5 128.2 27.7 131.0" stroke-width="1.9" stroke="#c9c6c6"/><path d="M46.4 71.0C44.7 79.3 44.9 79.3 41.4 96.0C37.9 112.7 38.3 109.7 36.0 121.0C33.7 132.3 34.9 127.0 34.4 130.0" stroke-width="1.9" stroke="#c9c6c6"/><path d="M51.6 69.5C49.9 77.8 49.8 77.8 46.6 94.5C43.4 111.2 43.8 108.0 42.0 119.5C40.2 131.0 41.4 125.8 41.1 129.0" stroke-width="1.9" stroke="#c9c6c6"/><path d="M56.8 68.0C55.1 76.3 54.7 76.3 51.8 93.0C48.9 109.7 49.3 106.3 48.0 118.0C46.7 129.7 47.9 124.7 47.8 128.0" stroke-width="1.9" stroke="#c9c6c6"/><path d="M62.0 66.5C60.3 74.8 59.7 74.8 57.0 91.5C54.3 108.2 54.8 104.7 54.0 116.5C53.2 128.3 54.3 123.5 54.5 127.0" stroke-width="1.9" stroke="#c9c6c6"/><path d="M22 140Q30 126 44 131" stroke-width="2.2"/><path d="M24 146Q33 150 46 136" stroke-width="2"/></g><ellipse cx="31.5" cy="136.5" rx="7" ry="4.2" fill="#1c1214" transform="rotate(-15 31.5 136.5)"/></g><g mask="url(#zmask)" opacity="0.72"><rect x="-9" y="-9" width="304" height="306" fill="url(#zrbA)"/></g></g><g filter="url(#zb1)"><path d="M0 205L10 212 28 226 40 236 41 243 32 252 19 254.5 5 243 0 226Z" fill="#2a2120"/><path d="M0 196L14 214 30 222 22 200 8 188Z" fill="#7f7f8c" opacity="0.75"/></g><g filter="url(#zb05)"><path d="M76 64Q84 52 104 53Q113 56 108 68Q100 86 84 91Q80 80 76 64Z" fill="#2a2421"/><path d="M84 66Q92 56 104 57Q108 60 104 69Q98 82 88 86Q86 76 84 66Z" fill="#8d8a78"/><path d="M53 78Q60 64 78 63L86 88Q76 98 62 98Q54 92 53 78Z" fill="#a9a39b"/><path d="M62 82Q70 76 80 84Q74 92 64 90Z" fill="#b59f92" opacity="0.8"/></g><g filter="url(#zb3)" opacity="0.96"><path d="M20 80Q22 60 32 46Q46 28 76 21Q105 18 143 32L150 40 118 40 92 48 70 58 48 62 34 74Z" fill="#1e1717"/><path d="M143 24L183 42 210 58 220 78 236 96 259 105 290 104 290 118 250 116 220 106 204 92 190 74 174 60 150 48 120 44 Z" fill="#332826"/></g><g filter="url(#zb1)" opacity="0.55"><path d="M100 22l6 22M112 23l6 20M124 25l7 18M136 29l8 16M150 36l9 12M164 43l9 12" stroke="#b9b0a8" stroke-width="2.2"/></g><g filter="url(#zb1)"><path d="M24.2 79.5l-4.9 -19.0M25.3 77.5l-7.6 -23.1M26.4 75.1l-9.6 -23.3M27.9 72.2l-8.0 -20.2M29.1 69.8l-11.4 -29.3M30.3 67.8l-5.5 -29.8M32.7 65.8l-5.1 -29.3M34.1 64.8l-12.2 -35.2M36.2 63.1l-9.4 -27.3M39.0 60.8l-8.5 -30.9M40.9 59.6l-9.8 -34.6M42.5 59.0l-10.7 -29.0M45.8 57.6l-11.9 -34.9M48.0 56.6l-12.2 -35.2M50.7 55.5l-13.9 -38.8M53.0 54.7l-7.6 -37.6M56.0 53.6l-6.0 -34.1M57.8 52.9l-8.2 -35.8M60.7 51.9l-12.2 -29.7M64.3 50.6l-9.6 -34.6M67.7 49.6l-7.1 -28.9M70.3 48.9l-9.8 -31.9M74.0 48.0l-11.1 -36.7M76.9 47.3l-6.3 -25.6M80.0 46.5l-8.2 -38.1M82.6 45.8l-7.5 -29.8M85.6 45.0l-11.2 -29.7M89.5 43.9l-5.8 -25.6M93.1 42.9l-8.9 -27.5M98.3 41.5l-7.8 -25.4M101.3 40.7l-7.9 -36.7M106.1 39.8l-8.8 -27.9M108.9 39.2l-6.7 -36.9M112.4 38.5l-6.1 -17.0M116.6 37.7l-5.5 -20.0M120.6 37.1l4.4 -15.9M124.9 37.7l8.6 -19.7M129.7 38.4l6.7 -19.9M133.6 39.0l6.6 -15.7M137.9 39.7l8.8 -22.5M140.8 40.3l3.6 -19.7M145.0 41.7l2.9 -16.8M147.7 42.6l4.4 -17.4M150.9 43.6l3.2 -16.2M154.6 44.9l3.1 -19.5M159.9 47.0l4.2 -21.5M162.1 48.3l4.9 -18.9M165.5 50.1l9.8 -21.9M169.8 52.6l3.6 -20.4M172.6 54.1l4.4 -19.0M177.6 57.3l2.8 -17.7M181.0 60.1l2.7 -14.2M183.4 62.0l3.4 -10.9M187.5 65.3l5.5 -15.5M189.3 66.8l2.6 -13.2M193.2 70.6l5.2 -13.5M195.1 73.1l4.6 -11.7M198.7 77.8l6.0 -15.2M201.1 80.9l3.3 -15.3M203.2 83.7l2.1 -13.2M205.0 86.0l4.3 -12.2M208.4 89.7l5.6 -16.0M211.1 92.7l5.7 -16.2M212.7 94.4l4.2 -11.9M214.9 96.7l4.1 -11.8M219.1 100.0l5.4 -15.4M222.3 101.5l5.3 -15.1M226.1 103.3l5.5 -15.8M230.1 105.2l4.7 -13.3M234.0 107.1l4.4 -12.5M238.6 108.6l4.5 -12.9M242.9 109.6l5.2 -14.7M245.1 110.1l4.0 -11.5M251.3 111.5l4.0 -11.4M256.2 112.6l5.0 -14.3M259.6 113.0l4.0 -11.4M265.6 113.0l5.0 -14.3M270.3 113.0l4.6 -13.1M274.8 113.0l4.1 -11.8M278.0 113.0l4.2 -12.0" stroke="#1d1616" stroke-width="2.6" fill="none" stroke-linecap="round" opacity="0.85"/></g><g filter="url(#zb6)"><ellipse cx="262" cy="282" rx="52" ry="30" fill="#aaa5a6" opacity="0.93"/></g></g></g>
</svg>
</body></html>
